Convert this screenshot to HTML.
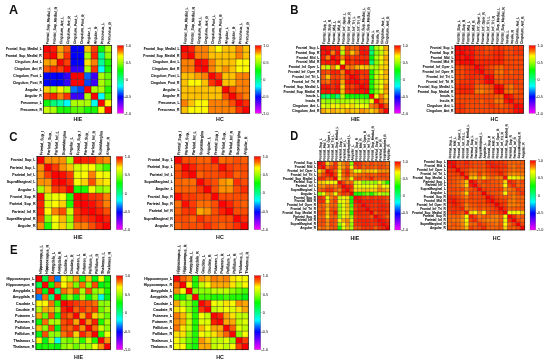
<!DOCTYPE html>
<html lang="en"><head><meta charset="utf-8"><title>Correlation matrices HIE vs HC</title>
<style>html,body{margin:0;padding:0;background:#fff}body{width:550px;height:364px;overflow:hidden}svg{display:block;filter:blur(.3px)}text{font-family:"Liberation Sans",sans-serif;fill:#111}.b{font-weight:bold}.s{stroke:#111;stroke-width:.7px}</style></head><body>
<svg width="550" height="364" viewBox="0 0 550 364">
<defs><linearGradient id="cb" x1="0" y1="0" x2="0" y2="1">
<stop offset="0.000" stop-color="#ff0000"/>
<stop offset="0.090" stop-color="#ff8000"/>
<stop offset="0.155" stop-color="#ffff00"/>
<stop offset="0.250" stop-color="#a0ff00"/>
<stop offset="0.365" stop-color="#00ff00"/>
<stop offset="0.490" stop-color="#00ff80"/>
<stop offset="0.600" stop-color="#00ffff"/>
<stop offset="0.675" stop-color="#0080ff"/>
<stop offset="0.760" stop-color="#0000ff"/>
<stop offset="0.880" stop-color="#8000ff"/>
<stop offset="1.000" stop-color="#ff00ff"/>
</linearGradient>
<clipPath id="cl4"><rect x="32.0" y="131.0" width="120" height="40"/></clipPath>
<clipPath id="cl5"><rect x="169.4" y="131.0" width="120" height="40"/></clipPath>
</defs>
<rect width="550" height="364" fill="#fff"/>
<text class="b" transform="translate(9.0 13.8) scale(1.00 1)" font-size="12.6">A</text>
<text class="b" transform="translate(290.2 13.8) scale(0.90 1)" font-size="12.6">B</text>
<text class="b" transform="translate(9.3 140.5) scale(0.95 1)" font-size="12.1">C</text>
<text class="b" transform="translate(290.2 140.2) scale(0.93 1)" font-size="11.9">D</text>
<text class="b" transform="translate(9.9 254.0) scale(0.90 1)" font-size="12.6">E</text>
<g>
<rect x="43.30" y="45.50" width="6.88" height="6.83" fill="#ff0000"/>
<rect x="50.13" y="45.50" width="6.88" height="6.83" fill="#ff1a00"/>
<rect x="56.96" y="45.50" width="6.88" height="6.83" fill="#ffa100"/>
<rect x="63.79" y="45.50" width="6.88" height="6.83" fill="#ff5a00"/>
<rect x="70.62" y="45.50" width="6.88" height="6.83" fill="#0000ff"/>
<rect x="77.45" y="45.50" width="6.88" height="6.83" fill="#0000ff"/>
<rect x="84.28" y="45.50" width="6.88" height="6.83" fill="#ffc100"/>
<rect x="91.11" y="45.50" width="6.88" height="6.83" fill="#ff4000"/>
<rect x="97.94" y="45.50" width="6.88" height="6.83" fill="#0ff80a"/>
<rect x="104.77" y="45.50" width="6.88" height="6.83" fill="#acff00"/>
<rect x="43.30" y="52.28" width="6.88" height="6.83" fill="#ff1a00"/>
<rect x="50.13" y="52.28" width="6.88" height="6.83" fill="#ff0000"/>
<rect x="56.96" y="52.28" width="6.88" height="6.83" fill="#ffa100"/>
<rect x="63.79" y="52.28" width="6.88" height="6.83" fill="#ff2d00"/>
<rect x="70.62" y="52.28" width="6.88" height="6.83" fill="#0000ff"/>
<rect x="77.45" y="52.28" width="6.88" height="6.83" fill="#0000ff"/>
<rect x="84.28" y="52.28" width="6.88" height="6.83" fill="#acff00"/>
<rect x="91.11" y="52.28" width="6.88" height="6.83" fill="#ff2000"/>
<rect x="97.94" y="52.28" width="6.88" height="6.83" fill="#00ff96"/>
<rect x="104.77" y="52.28" width="6.88" height="6.83" fill="#8cff00"/>
<rect x="43.30" y="59.06" width="6.88" height="6.83" fill="#ffa100"/>
<rect x="50.13" y="59.06" width="6.88" height="6.83" fill="#ffa100"/>
<rect x="56.96" y="59.06" width="6.88" height="6.83" fill="#ff0000"/>
<rect x="63.79" y="59.06" width="6.88" height="6.83" fill="#ff4000"/>
<rect x="70.62" y="59.06" width="6.88" height="6.83" fill="#0000ff"/>
<rect x="77.45" y="59.06" width="6.88" height="6.83" fill="#0000ff"/>
<rect x="84.28" y="59.06" width="6.88" height="6.83" fill="#ffe200"/>
<rect x="91.11" y="59.06" width="6.88" height="6.83" fill="#ff8000"/>
<rect x="97.94" y="59.06" width="6.88" height="6.83" fill="#00ff96"/>
<rect x="104.77" y="59.06" width="6.88" height="6.83" fill="#1efa00"/>
<rect x="43.30" y="65.84" width="6.88" height="6.83" fill="#ff5a00"/>
<rect x="50.13" y="65.84" width="6.88" height="6.83" fill="#ff2d00"/>
<rect x="56.96" y="65.84" width="6.88" height="6.83" fill="#ff4000"/>
<rect x="63.79" y="65.84" width="6.88" height="6.83" fill="#ff0000"/>
<rect x="70.62" y="65.84" width="6.88" height="6.83" fill="#3300ff"/>
<rect x="77.45" y="65.84" width="6.88" height="6.83" fill="#3300ff"/>
<rect x="84.28" y="65.84" width="6.88" height="6.83" fill="#acff00"/>
<rect x="91.11" y="65.84" width="6.88" height="6.83" fill="#ff3300"/>
<rect x="97.94" y="65.84" width="6.88" height="6.83" fill="#00ffff"/>
<rect x="104.77" y="65.84" width="6.88" height="6.83" fill="#0ff80a"/>
<rect x="43.30" y="72.62" width="6.88" height="6.83" fill="#0000ff"/>
<rect x="50.13" y="72.62" width="6.88" height="6.83" fill="#0000ff"/>
<rect x="56.96" y="72.62" width="6.88" height="6.83" fill="#0000ff"/>
<rect x="63.79" y="72.62" width="6.88" height="6.83" fill="#3300ff"/>
<rect x="70.62" y="72.62" width="6.88" height="6.83" fill="#ff0000"/>
<rect x="77.45" y="72.62" width="6.88" height="6.83" fill="#ff0000"/>
<rect x="84.28" y="72.62" width="6.88" height="6.83" fill="#0066ff"/>
<rect x="91.11" y="72.62" width="6.88" height="6.83" fill="#3d00ff"/>
<rect x="97.94" y="72.62" width="6.88" height="6.83" fill="#acff00"/>
<rect x="104.77" y="72.62" width="6.88" height="6.83" fill="#67fd00"/>
<rect x="43.30" y="79.40" width="6.88" height="6.83" fill="#0000ff"/>
<rect x="50.13" y="79.40" width="6.88" height="6.83" fill="#0000ff"/>
<rect x="56.96" y="79.40" width="6.88" height="6.83" fill="#0000ff"/>
<rect x="63.79" y="79.40" width="6.88" height="6.83" fill="#3300ff"/>
<rect x="70.62" y="79.40" width="6.88" height="6.83" fill="#ff0000"/>
<rect x="77.45" y="79.40" width="6.88" height="6.83" fill="#ff0000"/>
<rect x="84.28" y="79.40" width="6.88" height="6.83" fill="#0044ff"/>
<rect x="91.11" y="79.40" width="6.88" height="6.83" fill="#3d00ff"/>
<rect x="97.94" y="79.40" width="6.88" height="6.83" fill="#acff00"/>
<rect x="104.77" y="79.40" width="6.88" height="6.83" fill="#67fd00"/>
<rect x="43.30" y="86.18" width="6.88" height="6.83" fill="#ffd100"/>
<rect x="50.13" y="86.18" width="6.88" height="6.83" fill="#acff00"/>
<rect x="56.96" y="86.18" width="6.88" height="6.83" fill="#fff200"/>
<rect x="63.79" y="86.18" width="6.88" height="6.83" fill="#acff00"/>
<rect x="70.62" y="86.18" width="6.88" height="6.83" fill="#0077ff"/>
<rect x="77.45" y="86.18" width="6.88" height="6.83" fill="#0044ff"/>
<rect x="84.28" y="86.18" width="6.88" height="6.83" fill="#ff0000"/>
<rect x="91.11" y="86.18" width="6.88" height="6.83" fill="#acff00"/>
<rect x="97.94" y="86.18" width="6.88" height="6.83" fill="#acff00"/>
<rect x="104.77" y="86.18" width="6.88" height="6.83" fill="#1efa00"/>
<rect x="43.30" y="92.96" width="6.88" height="6.83" fill="#ff4000"/>
<rect x="50.13" y="92.96" width="6.88" height="6.83" fill="#ff2000"/>
<rect x="56.96" y="92.96" width="6.88" height="6.83" fill="#ff8000"/>
<rect x="63.79" y="92.96" width="6.88" height="6.83" fill="#ff3300"/>
<rect x="70.62" y="92.96" width="6.88" height="6.83" fill="#3d00ff"/>
<rect x="77.45" y="92.96" width="6.88" height="6.83" fill="#3d00ff"/>
<rect x="84.28" y="92.96" width="6.88" height="6.83" fill="#acff00"/>
<rect x="91.11" y="92.96" width="6.88" height="6.83" fill="#ff0000"/>
<rect x="97.94" y="92.96" width="6.88" height="6.83" fill="#00ffff"/>
<rect x="104.77" y="92.96" width="6.88" height="6.83" fill="#43fc00"/>
<rect x="43.30" y="99.74" width="6.88" height="6.83" fill="#0ff80a"/>
<rect x="50.13" y="99.74" width="6.88" height="6.83" fill="#00fc76"/>
<rect x="56.96" y="99.74" width="6.88" height="6.83" fill="#00ffa6"/>
<rect x="63.79" y="99.74" width="6.88" height="6.83" fill="#00ffff"/>
<rect x="70.62" y="99.74" width="6.88" height="6.83" fill="#acff00"/>
<rect x="77.45" y="99.74" width="6.88" height="6.83" fill="#acff00"/>
<rect x="84.28" y="99.74" width="6.88" height="6.83" fill="#acff00"/>
<rect x="91.11" y="99.74" width="6.88" height="6.83" fill="#00ffef"/>
<rect x="97.94" y="99.74" width="6.88" height="6.83" fill="#ff0000"/>
<rect x="104.77" y="99.74" width="6.88" height="6.83" fill="#fffa00"/>
<rect x="43.30" y="106.52" width="6.88" height="6.83" fill="#cbff00"/>
<rect x="50.13" y="106.52" width="6.88" height="6.83" fill="#acff00"/>
<rect x="56.96" y="106.52" width="6.88" height="6.83" fill="#1efa00"/>
<rect x="63.79" y="106.52" width="6.88" height="6.83" fill="#18f904"/>
<rect x="70.62" y="106.52" width="6.88" height="6.83" fill="#59fd00"/>
<rect x="77.45" y="106.52" width="6.88" height="6.83" fill="#59fd00"/>
<rect x="84.28" y="106.52" width="6.88" height="6.83" fill="#18f904"/>
<rect x="91.11" y="106.52" width="6.88" height="6.83" fill="#18f904"/>
<rect x="97.94" y="106.52" width="6.88" height="6.83" fill="#fffa00"/>
<rect x="104.77" y="106.52" width="6.88" height="6.83" fill="#ff0000"/>
<path d="M43.30 45.50V113.30M43.30 45.50H111.60M50.13 45.50V113.30M43.30 52.28H111.60M56.96 45.50V113.30M43.30 59.06H111.60M63.79 45.50V113.30M43.30 65.84H111.60M70.62 45.50V113.30M43.30 72.62H111.60M77.45 45.50V113.30M43.30 79.40H111.60M84.28 45.50V113.30M43.30 86.18H111.60M91.11 45.50V113.30M43.30 92.96H111.60M97.94 45.50V113.30M43.30 99.74H111.60M104.77 45.50V113.30M43.30 106.52H111.60M111.60 45.50V113.30M43.30 113.30H111.60" stroke="#000" stroke-width="0.37" fill="none" stroke-linecap="square"/>
<rect x="43.30" y="45.50" width="68.30" height="67.80" fill="none" stroke="#000" stroke-width="0.5"/>
<text class="b s" transform="translate(41.80 49.92) scale(.0935 .1)" font-size="36.0" text-anchor="end">Frontal_Sup_Medial_L</text>
<text class="b s" transform="translate(41.80 56.70) scale(.0935 .1)" font-size="36.0" text-anchor="end">Frontal_Sup_Medial_R</text>
<text class="b s" transform="translate(41.80 63.48) scale(.0935 .1)" font-size="36.0" text-anchor="end">Cingulum_Ant_L</text>
<text class="b s" transform="translate(41.80 70.26) scale(.0935 .1)" font-size="36.0" text-anchor="end">Cingulum_Ant_R</text>
<text class="b s" transform="translate(41.80 77.04) scale(.0935 .1)" font-size="36.0" text-anchor="end">Cingulum_Post_L</text>
<text class="b s" transform="translate(41.80 83.82) scale(.0935 .1)" font-size="36.0" text-anchor="end">Cingulum_Post_R</text>
<text class="b s" transform="translate(41.80 90.60) scale(.0935 .1)" font-size="36.0" text-anchor="end">Angular_L</text>
<text class="b s" transform="translate(41.80 97.38) scale(.0935 .1)" font-size="36.0" text-anchor="end">Angular_R</text>
<text class="b s" transform="translate(41.80 104.16) scale(.0935 .1)" font-size="36.0" text-anchor="end">Precuneus_L</text>
<text class="b s" transform="translate(41.80 110.94) scale(.0935 .1)" font-size="36.0" text-anchor="end">Precuneus_R</text>
<g>
<text class="b s" transform="translate(48.59 44.20) rotate(-87.5) scale(.0935 .1)" font-size="37.0">Frontal_Sup_Medial_L</text>
<text class="b s" transform="translate(55.42 44.20) rotate(-87.5) scale(.0935 .1)" font-size="37.0">Frontal_Sup_Medial_R</text>
<text class="b s" transform="translate(62.25 44.20) rotate(-87.5) scale(.0935 .1)" font-size="37.0">Cingulum_Ant_L</text>
<text class="b s" transform="translate(69.08 44.20) rotate(-87.5) scale(.0935 .1)" font-size="37.0">Cingulum_Ant_R</text>
<text class="b s" transform="translate(75.91 44.20) rotate(-87.5) scale(.0935 .1)" font-size="37.0">Cingulum_Post_L</text>
<text class="b s" transform="translate(82.74 44.20) rotate(-87.5) scale(.0935 .1)" font-size="37.0">Cingulum_Post_R</text>
<text class="b s" transform="translate(89.57 44.20) rotate(-87.5) scale(.0935 .1)" font-size="37.0">Angular_L</text>
<text class="b s" transform="translate(96.40 44.20) rotate(-87.5) scale(.0935 .1)" font-size="37.0">Angular_R</text>
<text class="b s" transform="translate(103.23 44.20) rotate(-87.5) scale(.0935 .1)" font-size="37.0">Precuneus_L</text>
<text class="b s" transform="translate(110.06 44.20) rotate(-87.5) scale(.0935 .1)" font-size="37.0">Precuneus_R</text>
</g>
<rect x="117.30" y="45.50" width="6.30" height="67.80" fill="url(#cb)" stroke="#555" stroke-width="0.3"/>
<path d="M123.60 45.50h.9" stroke="#444" stroke-width="0.35"/>
<text transform="translate(125.70 46.90) scale(.1)" font-size="38" style="fill:#3a3a3a;stroke:#3a3a3a;stroke-width:.5px">1.0</text>
<path d="M123.60 62.45h.9" stroke="#444" stroke-width="0.35"/>
<text transform="translate(125.70 63.85) scale(.1)" font-size="38" style="fill:#3a3a3a;stroke:#3a3a3a;stroke-width:.5px">0.5</text>
<path d="M123.60 79.40h.9" stroke="#444" stroke-width="0.35"/>
<text transform="translate(125.70 80.80) scale(.1)" font-size="38" style="fill:#3a3a3a;stroke:#3a3a3a;stroke-width:.5px">0</text>
<path d="M123.60 96.35h.9" stroke="#444" stroke-width="0.35"/>
<text transform="translate(124.50 97.75) scale(.1)" font-size="38" style="fill:#3a3a3a;stroke:#3a3a3a;stroke-width:.5px">-0.5</text>
<path d="M123.60 113.30h.9" stroke="#444" stroke-width="0.35"/>
<text transform="translate(124.50 114.70) scale(.1)" font-size="38" style="fill:#3a3a3a;stroke:#3a3a3a;stroke-width:.5px">-1.0</text>
<text class="b" transform="translate(77.90 121.30) scale(.1)" font-size="53" text-anchor="middle">HIE</text>
</g>
<g>
<rect x="181.00" y="45.50" width="6.91" height="6.83" fill="#ff0000"/>
<rect x="187.86" y="45.50" width="6.91" height="6.83" fill="#ff2000"/>
<rect x="194.72" y="45.50" width="6.91" height="6.83" fill="#ff8000"/>
<rect x="201.58" y="45.50" width="6.91" height="6.83" fill="#ff8000"/>
<rect x="208.44" y="45.50" width="6.91" height="6.83" fill="#ffc100"/>
<rect x="215.30" y="45.50" width="6.91" height="6.83" fill="#fffa00"/>
<rect x="222.16" y="45.50" width="6.91" height="6.83" fill="#ffc100"/>
<rect x="229.02" y="45.50" width="6.91" height="6.83" fill="#ffc100"/>
<rect x="235.88" y="45.50" width="6.91" height="6.83" fill="#ff8000"/>
<rect x="242.74" y="45.50" width="6.91" height="6.83" fill="#ffc100"/>
<rect x="181.00" y="52.28" width="6.91" height="6.83" fill="#ff2000"/>
<rect x="187.86" y="52.28" width="6.91" height="6.83" fill="#ff0000"/>
<rect x="194.72" y="52.28" width="6.91" height="6.83" fill="#ff8000"/>
<rect x="201.58" y="52.28" width="6.91" height="6.83" fill="#ff8000"/>
<rect x="208.44" y="52.28" width="6.91" height="6.83" fill="#ffc100"/>
<rect x="215.30" y="52.28" width="6.91" height="6.83" fill="#ffc100"/>
<rect x="222.16" y="52.28" width="6.91" height="6.83" fill="#ffc100"/>
<rect x="229.02" y="52.28" width="6.91" height="6.83" fill="#ffc100"/>
<rect x="235.88" y="52.28" width="6.91" height="6.83" fill="#ff8000"/>
<rect x="242.74" y="52.28" width="6.91" height="6.83" fill="#ffc100"/>
<rect x="181.00" y="59.06" width="6.91" height="6.83" fill="#ff8000"/>
<rect x="187.86" y="59.06" width="6.91" height="6.83" fill="#ff8000"/>
<rect x="194.72" y="59.06" width="6.91" height="6.83" fill="#ff0000"/>
<rect x="201.58" y="59.06" width="6.91" height="6.83" fill="#ff1300"/>
<rect x="208.44" y="59.06" width="6.91" height="6.83" fill="#ff8000"/>
<rect x="215.30" y="59.06" width="6.91" height="6.83" fill="#ffc100"/>
<rect x="222.16" y="59.06" width="6.91" height="6.83" fill="#ffc100"/>
<rect x="229.02" y="59.06" width="6.91" height="6.83" fill="#ffc100"/>
<rect x="235.88" y="59.06" width="6.91" height="6.83" fill="#fffa00"/>
<rect x="242.74" y="59.06" width="6.91" height="6.83" fill="#fffa00"/>
<rect x="181.00" y="65.84" width="6.91" height="6.83" fill="#ff8000"/>
<rect x="187.86" y="65.84" width="6.91" height="6.83" fill="#ff8000"/>
<rect x="194.72" y="65.84" width="6.91" height="6.83" fill="#ff1300"/>
<rect x="201.58" y="65.84" width="6.91" height="6.83" fill="#ff0000"/>
<rect x="208.44" y="65.84" width="6.91" height="6.83" fill="#ff8000"/>
<rect x="215.30" y="65.84" width="6.91" height="6.83" fill="#ffc100"/>
<rect x="222.16" y="65.84" width="6.91" height="6.83" fill="#ff9000"/>
<rect x="229.02" y="65.84" width="6.91" height="6.83" fill="#ffc100"/>
<rect x="235.88" y="65.84" width="6.91" height="6.83" fill="#fffa00"/>
<rect x="242.74" y="65.84" width="6.91" height="6.83" fill="#fffa00"/>
<rect x="181.00" y="72.62" width="6.91" height="6.83" fill="#ffc100"/>
<rect x="187.86" y="72.62" width="6.91" height="6.83" fill="#ffc100"/>
<rect x="194.72" y="72.62" width="6.91" height="6.83" fill="#ffa100"/>
<rect x="201.58" y="72.62" width="6.91" height="6.83" fill="#ff8000"/>
<rect x="208.44" y="72.62" width="6.91" height="6.83" fill="#ff0000"/>
<rect x="215.30" y="72.62" width="6.91" height="6.83" fill="#ff3300"/>
<rect x="222.16" y="72.62" width="6.91" height="6.83" fill="#ffc100"/>
<rect x="229.02" y="72.62" width="6.91" height="6.83" fill="#ffc100"/>
<rect x="235.88" y="72.62" width="6.91" height="6.83" fill="#ff8000"/>
<rect x="242.74" y="72.62" width="6.91" height="6.83" fill="#ff8000"/>
<rect x="181.00" y="79.40" width="6.91" height="6.83" fill="#ffc100"/>
<rect x="187.86" y="79.40" width="6.91" height="6.83" fill="#fffa00"/>
<rect x="194.72" y="79.40" width="6.91" height="6.83" fill="#fffa00"/>
<rect x="201.58" y="79.40" width="6.91" height="6.83" fill="#ffc100"/>
<rect x="208.44" y="79.40" width="6.91" height="6.83" fill="#ff3300"/>
<rect x="215.30" y="79.40" width="6.91" height="6.83" fill="#ff0000"/>
<rect x="222.16" y="79.40" width="6.91" height="6.83" fill="#ffc100"/>
<rect x="229.02" y="79.40" width="6.91" height="6.83" fill="#ffc100"/>
<rect x="235.88" y="79.40" width="6.91" height="6.83" fill="#ff8000"/>
<rect x="242.74" y="79.40" width="6.91" height="6.83" fill="#ff8000"/>
<rect x="181.00" y="86.18" width="6.91" height="6.83" fill="#ffc100"/>
<rect x="187.86" y="86.18" width="6.91" height="6.83" fill="#ffc100"/>
<rect x="194.72" y="86.18" width="6.91" height="6.83" fill="#ffc100"/>
<rect x="201.58" y="86.18" width="6.91" height="6.83" fill="#ffc100"/>
<rect x="208.44" y="86.18" width="6.91" height="6.83" fill="#ffc100"/>
<rect x="215.30" y="86.18" width="6.91" height="6.83" fill="#ffc100"/>
<rect x="222.16" y="86.18" width="6.91" height="6.83" fill="#ff0000"/>
<rect x="229.02" y="86.18" width="6.91" height="6.83" fill="#ff4d00"/>
<rect x="235.88" y="86.18" width="6.91" height="6.83" fill="#ff8000"/>
<rect x="242.74" y="86.18" width="6.91" height="6.83" fill="#ff8000"/>
<rect x="181.00" y="92.96" width="6.91" height="6.83" fill="#ffc100"/>
<rect x="187.86" y="92.96" width="6.91" height="6.83" fill="#ffc100"/>
<rect x="194.72" y="92.96" width="6.91" height="6.83" fill="#ffc100"/>
<rect x="201.58" y="92.96" width="6.91" height="6.83" fill="#ffc100"/>
<rect x="208.44" y="92.96" width="6.91" height="6.83" fill="#ffc100"/>
<rect x="215.30" y="92.96" width="6.91" height="6.83" fill="#ffc100"/>
<rect x="222.16" y="92.96" width="6.91" height="6.83" fill="#ff4d00"/>
<rect x="229.02" y="92.96" width="6.91" height="6.83" fill="#ff0000"/>
<rect x="235.88" y="92.96" width="6.91" height="6.83" fill="#ff4d00"/>
<rect x="242.74" y="92.96" width="6.91" height="6.83" fill="#ff8000"/>
<rect x="181.00" y="99.74" width="6.91" height="6.83" fill="#ff8000"/>
<rect x="187.86" y="99.74" width="6.91" height="6.83" fill="#ffc100"/>
<rect x="194.72" y="99.74" width="6.91" height="6.83" fill="#fffa00"/>
<rect x="201.58" y="99.74" width="6.91" height="6.83" fill="#fffa00"/>
<rect x="208.44" y="99.74" width="6.91" height="6.83" fill="#ff8000"/>
<rect x="215.30" y="99.74" width="6.91" height="6.83" fill="#ff8000"/>
<rect x="222.16" y="99.74" width="6.91" height="6.83" fill="#ff8000"/>
<rect x="229.02" y="99.74" width="6.91" height="6.83" fill="#ff4d00"/>
<rect x="235.88" y="99.74" width="6.91" height="6.83" fill="#ff0000"/>
<rect x="242.74" y="99.74" width="6.91" height="6.83" fill="#ff2d00"/>
<rect x="181.00" y="106.52" width="6.91" height="6.83" fill="#ffc100"/>
<rect x="187.86" y="106.52" width="6.91" height="6.83" fill="#fffa00"/>
<rect x="194.72" y="106.52" width="6.91" height="6.83" fill="#fffa00"/>
<rect x="201.58" y="106.52" width="6.91" height="6.83" fill="#fffa00"/>
<rect x="208.44" y="106.52" width="6.91" height="6.83" fill="#ff8000"/>
<rect x="215.30" y="106.52" width="6.91" height="6.83" fill="#ff8000"/>
<rect x="222.16" y="106.52" width="6.91" height="6.83" fill="#ff8000"/>
<rect x="229.02" y="106.52" width="6.91" height="6.83" fill="#ff8000"/>
<rect x="235.88" y="106.52" width="6.91" height="6.83" fill="#ff2d00"/>
<rect x="242.74" y="106.52" width="6.91" height="6.83" fill="#ff0000"/>
<path d="M181.00 45.50V113.30M181.00 45.50H249.60M187.86 45.50V113.30M181.00 52.28H249.60M194.72 45.50V113.30M181.00 59.06H249.60M201.58 45.50V113.30M181.00 65.84H249.60M208.44 45.50V113.30M181.00 72.62H249.60M215.30 45.50V113.30M181.00 79.40H249.60M222.16 45.50V113.30M181.00 86.18H249.60M229.02 45.50V113.30M181.00 92.96H249.60M235.88 45.50V113.30M181.00 99.74H249.60M242.74 45.50V113.30M181.00 106.52H249.60M249.60 45.50V113.30M181.00 113.30H249.60" stroke="#000" stroke-width="0.37" fill="none" stroke-linecap="square"/>
<rect x="181.00" y="45.50" width="68.60" height="67.80" fill="none" stroke="#000" stroke-width="0.5"/>
<text class="b s" transform="translate(179.50 49.92) scale(.0935 .1)" font-size="36.0" text-anchor="end">Frontal_Sup_Medial_L</text>
<text class="b s" transform="translate(179.50 56.70) scale(.0935 .1)" font-size="36.0" text-anchor="end">Frontal_Sup_Medial_R</text>
<text class="b s" transform="translate(179.50 63.48) scale(.0935 .1)" font-size="36.0" text-anchor="end">Cingulum_Ant_L</text>
<text class="b s" transform="translate(179.50 70.26) scale(.0935 .1)" font-size="36.0" text-anchor="end">Cingulum_Ant_R</text>
<text class="b s" transform="translate(179.50 77.04) scale(.0935 .1)" font-size="36.0" text-anchor="end">Cingulum_Post_L</text>
<text class="b s" transform="translate(179.50 83.82) scale(.0935 .1)" font-size="36.0" text-anchor="end">Cingulum_Post_R</text>
<text class="b s" transform="translate(179.50 90.60) scale(.0935 .1)" font-size="36.0" text-anchor="end">Angular_L</text>
<text class="b s" transform="translate(179.50 97.38) scale(.0935 .1)" font-size="36.0" text-anchor="end">Angular_R</text>
<text class="b s" transform="translate(179.50 104.16) scale(.0935 .1)" font-size="36.0" text-anchor="end">Precuneus_L</text>
<text class="b s" transform="translate(179.50 110.94) scale(.0935 .1)" font-size="36.0" text-anchor="end">Precuneus_R</text>
<g>
<text class="b s" transform="translate(186.31 44.20) rotate(-87.5) scale(.0935 .1)" font-size="37.0">Frontal_Sup_Medial_L</text>
<text class="b s" transform="translate(193.17 44.20) rotate(-87.5) scale(.0935 .1)" font-size="37.0">Frontal_Sup_Medial_R</text>
<text class="b s" transform="translate(200.03 44.20) rotate(-87.5) scale(.0935 .1)" font-size="37.0">Cingulum_Ant_L</text>
<text class="b s" transform="translate(206.89 44.20) rotate(-87.5) scale(.0935 .1)" font-size="37.0">Cingulum_Ant_R</text>
<text class="b s" transform="translate(213.75 44.20) rotate(-87.5) scale(.0935 .1)" font-size="37.0">Cingulum_Post_L</text>
<text class="b s" transform="translate(220.61 44.20) rotate(-87.5) scale(.0935 .1)" font-size="37.0">Cingulum_Post_R</text>
<text class="b s" transform="translate(227.47 44.20) rotate(-87.5) scale(.0935 .1)" font-size="37.0">Angular_L</text>
<text class="b s" transform="translate(234.33 44.20) rotate(-87.5) scale(.0935 .1)" font-size="37.0">Angular_R</text>
<text class="b s" transform="translate(241.19 44.20) rotate(-87.5) scale(.0935 .1)" font-size="37.0">Precuneus_L</text>
<text class="b s" transform="translate(248.05 44.20) rotate(-87.5) scale(.0935 .1)" font-size="37.0">Precuneus_R</text>
</g>
<rect x="255.10" y="45.50" width="6.10" height="67.80" fill="url(#cb)" stroke="#555" stroke-width="0.3"/>
<path d="M261.20 45.50h.9" stroke="#444" stroke-width="0.35"/>
<text transform="translate(263.30 46.90) scale(.1)" font-size="38" style="fill:#3a3a3a;stroke:#3a3a3a;stroke-width:.5px">1.0</text>
<path d="M261.20 62.45h.9" stroke="#444" stroke-width="0.35"/>
<text transform="translate(263.30 63.85) scale(.1)" font-size="38" style="fill:#3a3a3a;stroke:#3a3a3a;stroke-width:.5px">0.5</text>
<path d="M261.20 79.40h.9" stroke="#444" stroke-width="0.35"/>
<text transform="translate(263.30 80.80) scale(.1)" font-size="38" style="fill:#3a3a3a;stroke:#3a3a3a;stroke-width:.5px">0</text>
<path d="M261.20 96.35h.9" stroke="#444" stroke-width="0.35"/>
<text transform="translate(262.10 97.75) scale(.1)" font-size="38" style="fill:#3a3a3a;stroke:#3a3a3a;stroke-width:.5px">-0.5</text>
<path d="M261.20 113.30h.9" stroke="#444" stroke-width="0.35"/>
<text transform="translate(262.10 114.70) scale(.1)" font-size="38" style="fill:#3a3a3a;stroke:#3a3a3a;stroke-width:.5px">-1.0</text>
<text class="b" transform="translate(219.90 121.30) scale(.1)" font-size="53" text-anchor="middle">HC</text>
</g>
<g>
<rect x="320.80" y="45.50" width="4.89" height="4.89" fill="#ff0000"/>
<rect x="325.64" y="45.50" width="4.89" height="4.89" fill="#ff1300"/>
<rect x="330.49" y="45.50" width="4.89" height="4.89" fill="#ff2000"/>
<rect x="335.33" y="45.50" width="4.89" height="4.89" fill="#ff2000"/>
<rect x="340.17" y="45.50" width="4.89" height="4.89" fill="#ffd100"/>
<rect x="345.01" y="45.50" width="4.89" height="4.89" fill="#ff4000"/>
<rect x="349.86" y="45.50" width="4.89" height="4.89" fill="#ff6000"/>
<rect x="354.70" y="45.50" width="4.89" height="4.89" fill="#ff5300"/>
<rect x="359.54" y="45.50" width="4.89" height="4.89" fill="#ff1300"/>
<rect x="364.39" y="45.50" width="4.89" height="4.89" fill="#ff2000"/>
<rect x="369.23" y="45.50" width="4.89" height="4.89" fill="#00fa55"/>
<rect x="374.07" y="45.50" width="4.89" height="4.89" fill="#acff00"/>
<rect x="378.91" y="45.50" width="4.89" height="4.89" fill="#e5ff00"/>
<rect x="383.76" y="45.50" width="4.89" height="4.89" fill="#ffa900"/>
<rect x="320.80" y="50.34" width="4.89" height="4.89" fill="#ff1300"/>
<rect x="325.64" y="50.34" width="4.89" height="4.89" fill="#ff0000"/>
<rect x="330.49" y="50.34" width="4.89" height="4.89" fill="#ff7a00"/>
<rect x="335.33" y="50.34" width="4.89" height="4.89" fill="#ff1300"/>
<rect x="340.17" y="50.34" width="4.89" height="4.89" fill="#b8ff00"/>
<rect x="345.01" y="50.34" width="4.89" height="4.89" fill="#ff4d00"/>
<rect x="349.86" y="50.34" width="4.89" height="4.89" fill="#ffc100"/>
<rect x="354.70" y="50.34" width="4.89" height="4.89" fill="#ff6d00"/>
<rect x="359.54" y="50.34" width="4.89" height="4.89" fill="#ff1300"/>
<rect x="364.39" y="50.34" width="4.89" height="4.89" fill="#ff1300"/>
<rect x="369.23" y="50.34" width="4.89" height="4.89" fill="#00fc76"/>
<rect x="374.07" y="50.34" width="4.89" height="4.89" fill="#8cff00"/>
<rect x="378.91" y="50.34" width="4.89" height="4.89" fill="#c5ff00"/>
<rect x="383.76" y="50.34" width="4.89" height="4.89" fill="#ffd100"/>
<rect x="320.80" y="55.19" width="4.89" height="4.89" fill="#ff2000"/>
<rect x="325.64" y="55.19" width="4.89" height="4.89" fill="#ff7a00"/>
<rect x="330.49" y="55.19" width="4.89" height="4.89" fill="#ff0000"/>
<rect x="335.33" y="55.19" width="4.89" height="4.89" fill="#ff2000"/>
<rect x="340.17" y="55.19" width="4.89" height="4.89" fill="#ff8000"/>
<rect x="345.01" y="55.19" width="4.89" height="4.89" fill="#ff2000"/>
<rect x="349.86" y="55.19" width="4.89" height="4.89" fill="#ff4000"/>
<rect x="354.70" y="55.19" width="4.89" height="4.89" fill="#ff2d00"/>
<rect x="359.54" y="55.19" width="4.89" height="4.89" fill="#ff2d00"/>
<rect x="364.39" y="55.19" width="4.89" height="4.89" fill="#ff2d00"/>
<rect x="369.23" y="55.19" width="4.89" height="4.89" fill="#00f514"/>
<rect x="374.07" y="55.19" width="4.89" height="4.89" fill="#acff00"/>
<rect x="378.91" y="55.19" width="4.89" height="4.89" fill="#fff200"/>
<rect x="383.76" y="55.19" width="4.89" height="4.89" fill="#ffa900"/>
<rect x="320.80" y="60.03" width="4.89" height="4.89" fill="#ff2000"/>
<rect x="325.64" y="60.03" width="4.89" height="4.89" fill="#ff1300"/>
<rect x="330.49" y="60.03" width="4.89" height="4.89" fill="#ff2000"/>
<rect x="335.33" y="60.03" width="4.89" height="4.89" fill="#ff0000"/>
<rect x="340.17" y="60.03" width="4.89" height="4.89" fill="#f3fd00"/>
<rect x="345.01" y="60.03" width="4.89" height="4.89" fill="#ff2000"/>
<rect x="349.86" y="60.03" width="4.89" height="4.89" fill="#ff4000"/>
<rect x="354.70" y="60.03" width="4.89" height="4.89" fill="#ff2000"/>
<rect x="359.54" y="60.03" width="4.89" height="4.89" fill="#ff1300"/>
<rect x="364.39" y="60.03" width="4.89" height="4.89" fill="#ff1300"/>
<rect x="369.23" y="60.03" width="4.89" height="4.89" fill="#00fc76"/>
<rect x="374.07" y="60.03" width="4.89" height="4.89" fill="#8cff00"/>
<rect x="378.91" y="60.03" width="4.89" height="4.89" fill="#e5ff00"/>
<rect x="383.76" y="60.03" width="4.89" height="4.89" fill="#ffc100"/>
<rect x="320.80" y="64.87" width="4.89" height="4.89" fill="#ffd100"/>
<rect x="325.64" y="64.87" width="4.89" height="4.89" fill="#b8ff00"/>
<rect x="330.49" y="64.87" width="4.89" height="4.89" fill="#ff8000"/>
<rect x="335.33" y="64.87" width="4.89" height="4.89" fill="#f3fd00"/>
<rect x="340.17" y="64.87" width="4.89" height="4.89" fill="#ff0000"/>
<rect x="345.01" y="64.87" width="4.89" height="4.89" fill="#ff8000"/>
<rect x="349.86" y="64.87" width="4.89" height="4.89" fill="#ff7300"/>
<rect x="354.70" y="64.87" width="4.89" height="4.89" fill="#ffa900"/>
<rect x="359.54" y="64.87" width="4.89" height="4.89" fill="#ffd100"/>
<rect x="364.39" y="64.87" width="4.89" height="4.89" fill="#ffc100"/>
<rect x="369.23" y="64.87" width="4.89" height="4.89" fill="#acff00"/>
<rect x="374.07" y="64.87" width="4.89" height="4.89" fill="#acff00"/>
<rect x="378.91" y="64.87" width="4.89" height="4.89" fill="#ffd900"/>
<rect x="383.76" y="64.87" width="4.89" height="4.89" fill="#ffd100"/>
<rect x="320.80" y="69.71" width="4.89" height="4.89" fill="#ff4000"/>
<rect x="325.64" y="69.71" width="4.89" height="4.89" fill="#ff4d00"/>
<rect x="330.49" y="69.71" width="4.89" height="4.89" fill="#ff2000"/>
<rect x="335.33" y="69.71" width="4.89" height="4.89" fill="#ff2000"/>
<rect x="340.17" y="69.71" width="4.89" height="4.89" fill="#ff8000"/>
<rect x="345.01" y="69.71" width="4.89" height="4.89" fill="#ff0000"/>
<rect x="349.86" y="69.71" width="4.89" height="4.89" fill="#ff2d00"/>
<rect x="354.70" y="69.71" width="4.89" height="4.89" fill="#ff1300"/>
<rect x="359.54" y="69.71" width="4.89" height="4.89" fill="#ff2d00"/>
<rect x="364.39" y="69.71" width="4.89" height="4.89" fill="#ff2d00"/>
<rect x="369.23" y="69.71" width="4.89" height="4.89" fill="#0ff80a"/>
<rect x="374.07" y="69.71" width="4.89" height="4.89" fill="#acff00"/>
<rect x="378.91" y="69.71" width="4.89" height="4.89" fill="#fbfb00"/>
<rect x="383.76" y="69.71" width="4.89" height="4.89" fill="#ffa900"/>
<rect x="320.80" y="74.56" width="4.89" height="4.89" fill="#ff6000"/>
<rect x="325.64" y="74.56" width="4.89" height="4.89" fill="#ffc100"/>
<rect x="330.49" y="74.56" width="4.89" height="4.89" fill="#ff4000"/>
<rect x="335.33" y="74.56" width="4.89" height="4.89" fill="#ff4000"/>
<rect x="340.17" y="74.56" width="4.89" height="4.89" fill="#ff7300"/>
<rect x="345.01" y="74.56" width="4.89" height="4.89" fill="#ff2d00"/>
<rect x="349.86" y="74.56" width="4.89" height="4.89" fill="#ff0000"/>
<rect x="354.70" y="74.56" width="4.89" height="4.89" fill="#ff1300"/>
<rect x="359.54" y="74.56" width="4.89" height="4.89" fill="#ff4000"/>
<rect x="364.39" y="74.56" width="4.89" height="4.89" fill="#ff2d00"/>
<rect x="369.23" y="74.56" width="4.89" height="4.89" fill="#1efa00"/>
<rect x="374.07" y="74.56" width="4.89" height="4.89" fill="#cbff00"/>
<rect x="378.91" y="74.56" width="4.89" height="4.89" fill="#ffd900"/>
<rect x="383.76" y="74.56" width="4.89" height="4.89" fill="#ffc100"/>
<rect x="320.80" y="79.40" width="4.89" height="4.89" fill="#ff5300"/>
<rect x="325.64" y="79.40" width="4.89" height="4.89" fill="#ff6d00"/>
<rect x="330.49" y="79.40" width="4.89" height="4.89" fill="#ff2d00"/>
<rect x="335.33" y="79.40" width="4.89" height="4.89" fill="#ff2000"/>
<rect x="340.17" y="79.40" width="4.89" height="4.89" fill="#ffa900"/>
<rect x="345.01" y="79.40" width="4.89" height="4.89" fill="#ff1300"/>
<rect x="349.86" y="79.40" width="4.89" height="4.89" fill="#ff1300"/>
<rect x="354.70" y="79.40" width="4.89" height="4.89" fill="#ff0000"/>
<rect x="359.54" y="79.40" width="4.89" height="4.89" fill="#ff2000"/>
<rect x="364.39" y="79.40" width="4.89" height="4.89" fill="#ff1300"/>
<rect x="369.23" y="79.40" width="4.89" height="4.89" fill="#0ff80a"/>
<rect x="374.07" y="79.40" width="4.89" height="4.89" fill="#acff00"/>
<rect x="378.91" y="79.40" width="4.89" height="4.89" fill="#e5ff00"/>
<rect x="383.76" y="79.40" width="4.89" height="4.89" fill="#ffc100"/>
<rect x="320.80" y="84.24" width="4.89" height="4.89" fill="#ff1300"/>
<rect x="325.64" y="84.24" width="4.89" height="4.89" fill="#ff1300"/>
<rect x="330.49" y="84.24" width="4.89" height="4.89" fill="#ff2d00"/>
<rect x="335.33" y="84.24" width="4.89" height="4.89" fill="#ff1300"/>
<rect x="340.17" y="84.24" width="4.89" height="4.89" fill="#ffd100"/>
<rect x="345.01" y="84.24" width="4.89" height="4.89" fill="#ff2d00"/>
<rect x="349.86" y="84.24" width="4.89" height="4.89" fill="#ff4000"/>
<rect x="354.70" y="84.24" width="4.89" height="4.89" fill="#ff2000"/>
<rect x="359.54" y="84.24" width="4.89" height="4.89" fill="#ff0000"/>
<rect x="364.39" y="84.24" width="4.89" height="4.89" fill="#ff1300"/>
<rect x="369.23" y="84.24" width="4.89" height="4.89" fill="#1efa00"/>
<rect x="374.07" y="84.24" width="4.89" height="4.89" fill="#acff00"/>
<rect x="378.91" y="84.24" width="4.89" height="4.89" fill="#fbfb00"/>
<rect x="383.76" y="84.24" width="4.89" height="4.89" fill="#ff9000"/>
<rect x="320.80" y="89.09" width="4.89" height="4.89" fill="#ff2000"/>
<rect x="325.64" y="89.09" width="4.89" height="4.89" fill="#ff1300"/>
<rect x="330.49" y="89.09" width="4.89" height="4.89" fill="#ff2d00"/>
<rect x="335.33" y="89.09" width="4.89" height="4.89" fill="#ff1300"/>
<rect x="340.17" y="89.09" width="4.89" height="4.89" fill="#ffc100"/>
<rect x="345.01" y="89.09" width="4.89" height="4.89" fill="#ff2d00"/>
<rect x="349.86" y="89.09" width="4.89" height="4.89" fill="#ff2d00"/>
<rect x="354.70" y="89.09" width="4.89" height="4.89" fill="#ff1300"/>
<rect x="359.54" y="89.09" width="4.89" height="4.89" fill="#ff1300"/>
<rect x="364.39" y="89.09" width="4.89" height="4.89" fill="#ff0000"/>
<rect x="369.23" y="89.09" width="4.89" height="4.89" fill="#0ff80a"/>
<rect x="374.07" y="89.09" width="4.89" height="4.89" fill="#8cff00"/>
<rect x="378.91" y="89.09" width="4.89" height="4.89" fill="#e5ff00"/>
<rect x="383.76" y="89.09" width="4.89" height="4.89" fill="#ffa900"/>
<rect x="320.80" y="93.93" width="4.89" height="4.89" fill="#00fa55"/>
<rect x="325.64" y="93.93" width="4.89" height="4.89" fill="#00fc76"/>
<rect x="330.49" y="93.93" width="4.89" height="4.89" fill="#00f514"/>
<rect x="335.33" y="93.93" width="4.89" height="4.89" fill="#00fc76"/>
<rect x="340.17" y="93.93" width="4.89" height="4.89" fill="#acff00"/>
<rect x="345.01" y="93.93" width="4.89" height="4.89" fill="#0ff80a"/>
<rect x="349.86" y="93.93" width="4.89" height="4.89" fill="#1efa00"/>
<rect x="354.70" y="93.93" width="4.89" height="4.89" fill="#0ff80a"/>
<rect x="359.54" y="93.93" width="4.89" height="4.89" fill="#1efa00"/>
<rect x="364.39" y="93.93" width="4.89" height="4.89" fill="#0ff80a"/>
<rect x="369.23" y="93.93" width="4.89" height="4.89" fill="#ff0000"/>
<rect x="374.07" y="93.93" width="4.89" height="4.89" fill="#ebff00"/>
<rect x="378.91" y="93.93" width="4.89" height="4.89" fill="#ff8000"/>
<rect x="383.76" y="93.93" width="4.89" height="4.89" fill="#ffd100"/>
<rect x="320.80" y="98.77" width="4.89" height="4.89" fill="#acff00"/>
<rect x="325.64" y="98.77" width="4.89" height="4.89" fill="#8cff00"/>
<rect x="330.49" y="98.77" width="4.89" height="4.89" fill="#acff00"/>
<rect x="335.33" y="98.77" width="4.89" height="4.89" fill="#8cff00"/>
<rect x="340.17" y="98.77" width="4.89" height="4.89" fill="#acff00"/>
<rect x="345.01" y="98.77" width="4.89" height="4.89" fill="#acff00"/>
<rect x="349.86" y="98.77" width="4.89" height="4.89" fill="#cbff00"/>
<rect x="354.70" y="98.77" width="4.89" height="4.89" fill="#acff00"/>
<rect x="359.54" y="98.77" width="4.89" height="4.89" fill="#acff00"/>
<rect x="364.39" y="98.77" width="4.89" height="4.89" fill="#8cff00"/>
<rect x="369.23" y="98.77" width="4.89" height="4.89" fill="#ebff00"/>
<rect x="374.07" y="98.77" width="4.89" height="4.89" fill="#ff0000"/>
<rect x="378.91" y="98.77" width="4.89" height="4.89" fill="#ff6000"/>
<rect x="383.76" y="98.77" width="4.89" height="4.89" fill="#ffa900"/>
<rect x="320.80" y="103.61" width="4.89" height="4.89" fill="#e5ff00"/>
<rect x="325.64" y="103.61" width="4.89" height="4.89" fill="#c5ff00"/>
<rect x="330.49" y="103.61" width="4.89" height="4.89" fill="#fff200"/>
<rect x="335.33" y="103.61" width="4.89" height="4.89" fill="#e5ff00"/>
<rect x="340.17" y="103.61" width="4.89" height="4.89" fill="#ffd900"/>
<rect x="345.01" y="103.61" width="4.89" height="4.89" fill="#fbfb00"/>
<rect x="349.86" y="103.61" width="4.89" height="4.89" fill="#ffd900"/>
<rect x="354.70" y="103.61" width="4.89" height="4.89" fill="#e5ff00"/>
<rect x="359.54" y="103.61" width="4.89" height="4.89" fill="#fbfb00"/>
<rect x="364.39" y="103.61" width="4.89" height="4.89" fill="#e5ff00"/>
<rect x="369.23" y="103.61" width="4.89" height="4.89" fill="#ff8000"/>
<rect x="374.07" y="103.61" width="4.89" height="4.89" fill="#ff6000"/>
<rect x="378.91" y="103.61" width="4.89" height="4.89" fill="#ff0000"/>
<rect x="383.76" y="103.61" width="4.89" height="4.89" fill="#ff4d00"/>
<rect x="320.80" y="108.46" width="4.89" height="4.89" fill="#ffa900"/>
<rect x="325.64" y="108.46" width="4.89" height="4.89" fill="#ffd100"/>
<rect x="330.49" y="108.46" width="4.89" height="4.89" fill="#ffa900"/>
<rect x="335.33" y="108.46" width="4.89" height="4.89" fill="#ffc100"/>
<rect x="340.17" y="108.46" width="4.89" height="4.89" fill="#ffd100"/>
<rect x="345.01" y="108.46" width="4.89" height="4.89" fill="#ffa900"/>
<rect x="349.86" y="108.46" width="4.89" height="4.89" fill="#ffc100"/>
<rect x="354.70" y="108.46" width="4.89" height="4.89" fill="#ffc100"/>
<rect x="359.54" y="108.46" width="4.89" height="4.89" fill="#ff9000"/>
<rect x="364.39" y="108.46" width="4.89" height="4.89" fill="#ffa900"/>
<rect x="369.23" y="108.46" width="4.89" height="4.89" fill="#ffd100"/>
<rect x="374.07" y="108.46" width="4.89" height="4.89" fill="#ffa900"/>
<rect x="378.91" y="108.46" width="4.89" height="4.89" fill="#ff4d00"/>
<rect x="383.76" y="108.46" width="4.89" height="4.89" fill="#ff0000"/>
<path d="M320.80 45.50V113.30M320.80 45.50H388.60M325.64 45.50V113.30M320.80 50.34H388.60M330.49 45.50V113.30M320.80 55.19H388.60M335.33 45.50V113.30M320.80 60.03H388.60M340.17 45.50V113.30M320.80 64.87H388.60M345.01 45.50V113.30M320.80 69.71H388.60M349.86 45.50V113.30M320.80 74.56H388.60M354.70 45.50V113.30M320.80 79.40H388.60M359.54 45.50V113.30M320.80 84.24H388.60M364.39 45.50V113.30M320.80 89.09H388.60M369.23 45.50V113.30M320.80 93.93H388.60M374.07 45.50V113.30M320.80 98.77H388.60M378.91 45.50V113.30M320.80 103.61H388.60M383.76 45.50V113.30M320.80 108.46H388.60M388.60 45.50V113.30M320.80 113.30H388.60" stroke="#000" stroke-width="0.37" fill="none" stroke-linecap="square"/>
<rect x="320.80" y="45.50" width="67.80" height="67.80" fill="none" stroke="#000" stroke-width="0.5"/>
<text class="b s" transform="translate(319.30 48.94) scale(.0935 .1)" font-size="35.7" text-anchor="end">Frontal_Sup_L</text>
<text class="b s" transform="translate(319.30 53.78) scale(.0935 .1)" font-size="35.7" text-anchor="end">Frontal_Sup_R</text>
<text class="b s" transform="translate(319.30 58.63) scale(.0935 .1)" font-size="35.7" text-anchor="end">Frontal_Mid_L</text>
<text class="b s" transform="translate(319.30 63.47) scale(.0935 .1)" font-size="35.7" text-anchor="end">Frontal_Mid_R</text>
<text class="b s" transform="translate(319.30 68.31) scale(.0935 .1)" font-size="35.7" text-anchor="end">Frontal_Inf_Oper_L</text>
<text class="b s" transform="translate(319.30 73.15) scale(.0935 .1)" font-size="35.7" text-anchor="end">Frontal_Inf_Oper_R</text>
<text class="b s" transform="translate(319.30 78.00) scale(.0935 .1)" font-size="35.7" text-anchor="end">Frontal_Inf_Tri_L</text>
<text class="b s" transform="translate(319.30 82.84) scale(.0935 .1)" font-size="35.7" text-anchor="end">Frontal_Inf_Tri_R</text>
<text class="b s" transform="translate(319.30 87.68) scale(.0935 .1)" font-size="35.7" text-anchor="end">Frontal_Sup_Medial_L</text>
<text class="b s" transform="translate(319.30 92.53) scale(.0935 .1)" font-size="35.7" text-anchor="end">Frontal_Sup_Medial_R</text>
<text class="b s" transform="translate(319.30 97.37) scale(.0935 .1)" font-size="35.7" text-anchor="end">Insula_L</text>
<text class="b s" transform="translate(319.30 102.21) scale(.0935 .1)" font-size="35.7" text-anchor="end">Insula_R</text>
<text class="b s" transform="translate(319.30 107.05) scale(.0935 .1)" font-size="35.7" text-anchor="end">Cingulum_Ant_L</text>
<text class="b s" transform="translate(319.30 111.90) scale(.0935 .1)" font-size="35.7" text-anchor="end">Cingulum_Ant_R</text>
<g>
<text class="b s" transform="translate(325.09 44.20) rotate(-88.0) scale(.0935 .1)" font-size="36.7">Frontal_Sup_L</text>
<text class="b s" transform="translate(329.93 44.20) rotate(-88.0) scale(.0935 .1)" font-size="36.7">Frontal_Sup_R</text>
<text class="b s" transform="translate(334.78 44.20) rotate(-88.0) scale(.0935 .1)" font-size="36.7">Frontal_Mid_L</text>
<text class="b s" transform="translate(339.62 44.20) rotate(-88.0) scale(.0935 .1)" font-size="36.7">Frontal_Mid_R</text>
<text class="b s" transform="translate(344.46 44.20) rotate(-88.0) scale(.0935 .1)" font-size="36.7">Frontal_Inf_Oper_L</text>
<text class="b s" transform="translate(349.30 44.20) rotate(-88.0) scale(.0935 .1)" font-size="36.7">Frontal_Inf_Oper_R</text>
<text class="b s" transform="translate(354.15 44.20) rotate(-88.0) scale(.0935 .1)" font-size="36.7">Frontal_Inf_Tri_L</text>
<text class="b s" transform="translate(358.99 44.20) rotate(-88.0) scale(.0935 .1)" font-size="36.7">Frontal_Inf_Tri_R</text>
<text class="b s" transform="translate(363.83 44.20) rotate(-88.0) scale(.0935 .1)" font-size="36.7">Frontal_Sup_Medial_L</text>
<text class="b s" transform="translate(368.68 44.20) rotate(-88.0) scale(.0935 .1)" font-size="36.7">Frontal_Sup_Medial_R</text>
<text class="b s" transform="translate(373.52 44.20) rotate(-88.0) scale(.0935 .1)" font-size="36.7">Insula_L</text>
<text class="b s" transform="translate(378.36 44.20) rotate(-88.0) scale(.0935 .1)" font-size="36.7">Insula_R</text>
<text class="b s" transform="translate(383.20 44.20) rotate(-88.0) scale(.0935 .1)" font-size="36.7">Cingulum_Ant_L</text>
<text class="b s" transform="translate(388.05 44.20) rotate(-88.0) scale(.0935 .1)" font-size="36.7">Cingulum_Ant_R</text>
</g>
<rect x="394.30" y="45.50" width="6.30" height="67.80" fill="url(#cb)" stroke="#555" stroke-width="0.3"/>
<path d="M400.60 45.50h.9" stroke="#444" stroke-width="0.35"/>
<text transform="translate(402.70 46.90) scale(.1)" font-size="38" style="fill:#3a3a3a;stroke:#3a3a3a;stroke-width:.5px">1.0</text>
<path d="M400.60 62.45h.9" stroke="#444" stroke-width="0.35"/>
<text transform="translate(402.70 63.85) scale(.1)" font-size="38" style="fill:#3a3a3a;stroke:#3a3a3a;stroke-width:.5px">0.5</text>
<path d="M400.60 79.40h.9" stroke="#444" stroke-width="0.35"/>
<text transform="translate(402.70 80.80) scale(.1)" font-size="38" style="fill:#3a3a3a;stroke:#3a3a3a;stroke-width:.5px">0</text>
<path d="M400.60 96.35h.9" stroke="#444" stroke-width="0.35"/>
<text transform="translate(401.50 97.75) scale(.1)" font-size="38" style="fill:#3a3a3a;stroke:#3a3a3a;stroke-width:.5px">-0.5</text>
<path d="M400.60 113.30h.9" stroke="#444" stroke-width="0.35"/>
<text transform="translate(401.50 114.70) scale(.1)" font-size="38" style="fill:#3a3a3a;stroke:#3a3a3a;stroke-width:.5px">-1.0</text>
<text class="b" transform="translate(355.30 121.20) scale(.1)" font-size="53" text-anchor="middle">HIE</text>
</g>
<g>
<rect x="455.00" y="45.50" width="4.94" height="4.89" fill="#ff0000"/>
<rect x="459.89" y="45.50" width="4.94" height="4.89" fill="#ff0d00"/>
<rect x="464.77" y="45.50" width="4.94" height="4.89" fill="#ff0d00"/>
<rect x="469.66" y="45.50" width="4.94" height="4.89" fill="#ff1a00"/>
<rect x="474.54" y="45.50" width="4.94" height="4.89" fill="#ff3300"/>
<rect x="479.43" y="45.50" width="4.94" height="4.89" fill="#ff3300"/>
<rect x="484.31" y="45.50" width="4.94" height="4.89" fill="#ff4600"/>
<rect x="489.20" y="45.50" width="4.94" height="4.89" fill="#ff4600"/>
<rect x="494.09" y="45.50" width="4.94" height="4.89" fill="#ff3300"/>
<rect x="498.97" y="45.50" width="4.94" height="4.89" fill="#ff3300"/>
<rect x="503.86" y="45.50" width="4.94" height="4.89" fill="#ff4600"/>
<rect x="508.74" y="45.50" width="4.94" height="4.89" fill="#ff4600"/>
<rect x="513.63" y="45.50" width="4.94" height="4.89" fill="#ff3300"/>
<rect x="518.51" y="45.50" width="4.94" height="4.89" fill="#ff3300"/>
<rect x="455.00" y="50.34" width="4.94" height="4.89" fill="#ff0d00"/>
<rect x="459.89" y="50.34" width="4.94" height="4.89" fill="#ff0000"/>
<rect x="464.77" y="50.34" width="4.94" height="4.89" fill="#ff1a00"/>
<rect x="469.66" y="50.34" width="4.94" height="4.89" fill="#ff0d00"/>
<rect x="474.54" y="50.34" width="4.94" height="4.89" fill="#ff3300"/>
<rect x="479.43" y="50.34" width="4.94" height="4.89" fill="#ff3300"/>
<rect x="484.31" y="50.34" width="4.94" height="4.89" fill="#ff4600"/>
<rect x="489.20" y="50.34" width="4.94" height="4.89" fill="#ff3300"/>
<rect x="494.09" y="50.34" width="4.94" height="4.89" fill="#ff2600"/>
<rect x="498.97" y="50.34" width="4.94" height="4.89" fill="#ff2600"/>
<rect x="503.86" y="50.34" width="4.94" height="4.89" fill="#ff4600"/>
<rect x="508.74" y="50.34" width="4.94" height="4.89" fill="#ff4600"/>
<rect x="513.63" y="50.34" width="4.94" height="4.89" fill="#ff3300"/>
<rect x="518.51" y="50.34" width="4.94" height="4.89" fill="#ff3300"/>
<rect x="455.00" y="55.19" width="4.94" height="4.89" fill="#ff0d00"/>
<rect x="459.89" y="55.19" width="4.94" height="4.89" fill="#ff1a00"/>
<rect x="464.77" y="55.19" width="4.94" height="4.89" fill="#ff0000"/>
<rect x="469.66" y="55.19" width="4.94" height="4.89" fill="#ff0d00"/>
<rect x="474.54" y="55.19" width="4.94" height="4.89" fill="#ff3300"/>
<rect x="479.43" y="55.19" width="4.94" height="4.89" fill="#ff3300"/>
<rect x="484.31" y="55.19" width="4.94" height="4.89" fill="#ff3300"/>
<rect x="489.20" y="55.19" width="4.94" height="4.89" fill="#ff3300"/>
<rect x="494.09" y="55.19" width="4.94" height="4.89" fill="#ff2600"/>
<rect x="498.97" y="55.19" width="4.94" height="4.89" fill="#ff2600"/>
<rect x="503.86" y="55.19" width="4.94" height="4.89" fill="#ff4600"/>
<rect x="508.74" y="55.19" width="4.94" height="4.89" fill="#ff4600"/>
<rect x="513.63" y="55.19" width="4.94" height="4.89" fill="#ff4600"/>
<rect x="518.51" y="55.19" width="4.94" height="4.89" fill="#ff4600"/>
<rect x="455.00" y="60.03" width="4.94" height="4.89" fill="#ff1a00"/>
<rect x="459.89" y="60.03" width="4.94" height="4.89" fill="#ff0d00"/>
<rect x="464.77" y="60.03" width="4.94" height="4.89" fill="#ff0d00"/>
<rect x="469.66" y="60.03" width="4.94" height="4.89" fill="#ff0000"/>
<rect x="474.54" y="60.03" width="4.94" height="4.89" fill="#ff2600"/>
<rect x="479.43" y="60.03" width="4.94" height="4.89" fill="#ff2600"/>
<rect x="484.31" y="60.03" width="4.94" height="4.89" fill="#ff2600"/>
<rect x="489.20" y="60.03" width="4.94" height="4.89" fill="#ff2600"/>
<rect x="494.09" y="60.03" width="4.94" height="4.89" fill="#ff2600"/>
<rect x="498.97" y="60.03" width="4.94" height="4.89" fill="#ff2600"/>
<rect x="503.86" y="60.03" width="4.94" height="4.89" fill="#ff4600"/>
<rect x="508.74" y="60.03" width="4.94" height="4.89" fill="#ff4600"/>
<rect x="513.63" y="60.03" width="4.94" height="4.89" fill="#ff4600"/>
<rect x="518.51" y="60.03" width="4.94" height="4.89" fill="#ff4600"/>
<rect x="455.00" y="64.87" width="4.94" height="4.89" fill="#ff4600"/>
<rect x="459.89" y="64.87" width="4.94" height="4.89" fill="#ff4600"/>
<rect x="464.77" y="64.87" width="4.94" height="4.89" fill="#ff3300"/>
<rect x="469.66" y="64.87" width="4.94" height="4.89" fill="#ff2600"/>
<rect x="474.54" y="64.87" width="4.94" height="4.89" fill="#ff0000"/>
<rect x="479.43" y="64.87" width="4.94" height="4.89" fill="#ff1a00"/>
<rect x="484.31" y="64.87" width="4.94" height="4.89" fill="#ff3300"/>
<rect x="489.20" y="64.87" width="4.94" height="4.89" fill="#ff4600"/>
<rect x="494.09" y="64.87" width="4.94" height="4.89" fill="#ff5a00"/>
<rect x="498.97" y="64.87" width="4.94" height="4.89" fill="#ff6600"/>
<rect x="503.86" y="64.87" width="4.94" height="4.89" fill="#ff4600"/>
<rect x="508.74" y="64.87" width="4.94" height="4.89" fill="#ff4600"/>
<rect x="513.63" y="64.87" width="4.94" height="4.89" fill="#ff4600"/>
<rect x="518.51" y="64.87" width="4.94" height="4.89" fill="#ff4600"/>
<rect x="455.00" y="69.71" width="4.94" height="4.89" fill="#ff4600"/>
<rect x="459.89" y="69.71" width="4.94" height="4.89" fill="#ff4600"/>
<rect x="464.77" y="69.71" width="4.94" height="4.89" fill="#ff3300"/>
<rect x="469.66" y="69.71" width="4.94" height="4.89" fill="#ff2600"/>
<rect x="474.54" y="69.71" width="4.94" height="4.89" fill="#ff1a00"/>
<rect x="479.43" y="69.71" width="4.94" height="4.89" fill="#ff0000"/>
<rect x="484.31" y="69.71" width="4.94" height="4.89" fill="#ff3300"/>
<rect x="489.20" y="69.71" width="4.94" height="4.89" fill="#ff3300"/>
<rect x="494.09" y="69.71" width="4.94" height="4.89" fill="#ff6600"/>
<rect x="498.97" y="69.71" width="4.94" height="4.89" fill="#ff7300"/>
<rect x="503.86" y="69.71" width="4.94" height="4.89" fill="#ff4600"/>
<rect x="508.74" y="69.71" width="4.94" height="4.89" fill="#ff5a00"/>
<rect x="513.63" y="69.71" width="4.94" height="4.89" fill="#ff4600"/>
<rect x="518.51" y="69.71" width="4.94" height="4.89" fill="#ff4600"/>
<rect x="455.00" y="74.56" width="4.94" height="4.89" fill="#ff4600"/>
<rect x="459.89" y="74.56" width="4.94" height="4.89" fill="#ff4600"/>
<rect x="464.77" y="74.56" width="4.94" height="4.89" fill="#ff3300"/>
<rect x="469.66" y="74.56" width="4.94" height="4.89" fill="#ff2600"/>
<rect x="474.54" y="74.56" width="4.94" height="4.89" fill="#ff3300"/>
<rect x="479.43" y="74.56" width="4.94" height="4.89" fill="#ff3300"/>
<rect x="484.31" y="74.56" width="4.94" height="4.89" fill="#ff0000"/>
<rect x="489.20" y="74.56" width="4.94" height="4.89" fill="#ff0d00"/>
<rect x="494.09" y="74.56" width="4.94" height="4.89" fill="#ff5a00"/>
<rect x="498.97" y="74.56" width="4.94" height="4.89" fill="#ff5a00"/>
<rect x="503.86" y="74.56" width="4.94" height="4.89" fill="#ff4600"/>
<rect x="508.74" y="74.56" width="4.94" height="4.89" fill="#ff4600"/>
<rect x="513.63" y="74.56" width="4.94" height="4.89" fill="#ff4600"/>
<rect x="518.51" y="74.56" width="4.94" height="4.89" fill="#ff4600"/>
<rect x="455.00" y="79.40" width="4.94" height="4.89" fill="#ff4600"/>
<rect x="459.89" y="79.40" width="4.94" height="4.89" fill="#ff3300"/>
<rect x="464.77" y="79.40" width="4.94" height="4.89" fill="#ff3300"/>
<rect x="469.66" y="79.40" width="4.94" height="4.89" fill="#ff2600"/>
<rect x="474.54" y="79.40" width="4.94" height="4.89" fill="#ff4600"/>
<rect x="479.43" y="79.40" width="4.94" height="4.89" fill="#ff3300"/>
<rect x="484.31" y="79.40" width="4.94" height="4.89" fill="#ff0d00"/>
<rect x="489.20" y="79.40" width="4.94" height="4.89" fill="#ff0000"/>
<rect x="494.09" y="79.40" width="4.94" height="4.89" fill="#ff4600"/>
<rect x="498.97" y="79.40" width="4.94" height="4.89" fill="#ff5a00"/>
<rect x="503.86" y="79.40" width="4.94" height="4.89" fill="#ff4600"/>
<rect x="508.74" y="79.40" width="4.94" height="4.89" fill="#ff4600"/>
<rect x="513.63" y="79.40" width="4.94" height="4.89" fill="#ff3300"/>
<rect x="518.51" y="79.40" width="4.94" height="4.89" fill="#ff4600"/>
<rect x="455.00" y="84.24" width="4.94" height="4.89" fill="#ff3300"/>
<rect x="459.89" y="84.24" width="4.94" height="4.89" fill="#ff2600"/>
<rect x="464.77" y="84.24" width="4.94" height="4.89" fill="#ff2600"/>
<rect x="469.66" y="84.24" width="4.94" height="4.89" fill="#ff2600"/>
<rect x="474.54" y="84.24" width="4.94" height="4.89" fill="#ff5a00"/>
<rect x="479.43" y="84.24" width="4.94" height="4.89" fill="#ff6600"/>
<rect x="484.31" y="84.24" width="4.94" height="4.89" fill="#ff5a00"/>
<rect x="489.20" y="84.24" width="4.94" height="4.89" fill="#ff4600"/>
<rect x="494.09" y="84.24" width="4.94" height="4.89" fill="#ff0000"/>
<rect x="498.97" y="84.24" width="4.94" height="4.89" fill="#ff0d00"/>
<rect x="503.86" y="84.24" width="4.94" height="4.89" fill="#ff5a00"/>
<rect x="508.74" y="84.24" width="4.94" height="4.89" fill="#ff7300"/>
<rect x="513.63" y="84.24" width="4.94" height="4.89" fill="#ff4600"/>
<rect x="518.51" y="84.24" width="4.94" height="4.89" fill="#ff4600"/>
<rect x="455.00" y="89.09" width="4.94" height="4.89" fill="#ff3300"/>
<rect x="459.89" y="89.09" width="4.94" height="4.89" fill="#ff2600"/>
<rect x="464.77" y="89.09" width="4.94" height="4.89" fill="#ff2600"/>
<rect x="469.66" y="89.09" width="4.94" height="4.89" fill="#ff2600"/>
<rect x="474.54" y="89.09" width="4.94" height="4.89" fill="#ff7300"/>
<rect x="479.43" y="89.09" width="4.94" height="4.89" fill="#ff8000"/>
<rect x="484.31" y="89.09" width="4.94" height="4.89" fill="#ff6600"/>
<rect x="489.20" y="89.09" width="4.94" height="4.89" fill="#ff5a00"/>
<rect x="494.09" y="89.09" width="4.94" height="4.89" fill="#ff0d00"/>
<rect x="498.97" y="89.09" width="4.94" height="4.89" fill="#ff0000"/>
<rect x="503.86" y="89.09" width="4.94" height="4.89" fill="#ff6600"/>
<rect x="508.74" y="89.09" width="4.94" height="4.89" fill="#ff7300"/>
<rect x="513.63" y="89.09" width="4.94" height="4.89" fill="#ff5a00"/>
<rect x="518.51" y="89.09" width="4.94" height="4.89" fill="#ff4600"/>
<rect x="455.00" y="93.93" width="4.94" height="4.89" fill="#ff4600"/>
<rect x="459.89" y="93.93" width="4.94" height="4.89" fill="#ff4600"/>
<rect x="464.77" y="93.93" width="4.94" height="4.89" fill="#ff4600"/>
<rect x="469.66" y="93.93" width="4.94" height="4.89" fill="#ff4600"/>
<rect x="474.54" y="93.93" width="4.94" height="4.89" fill="#ff4600"/>
<rect x="479.43" y="93.93" width="4.94" height="4.89" fill="#ff4600"/>
<rect x="484.31" y="93.93" width="4.94" height="4.89" fill="#ff4600"/>
<rect x="489.20" y="93.93" width="4.94" height="4.89" fill="#ff4600"/>
<rect x="494.09" y="93.93" width="4.94" height="4.89" fill="#ff5a00"/>
<rect x="498.97" y="93.93" width="4.94" height="4.89" fill="#ff6600"/>
<rect x="503.86" y="93.93" width="4.94" height="4.89" fill="#ff0000"/>
<rect x="508.74" y="93.93" width="4.94" height="4.89" fill="#ff1a00"/>
<rect x="513.63" y="93.93" width="4.94" height="4.89" fill="#ff4600"/>
<rect x="518.51" y="93.93" width="4.94" height="4.89" fill="#ff4600"/>
<rect x="455.00" y="98.77" width="4.94" height="4.89" fill="#ff4600"/>
<rect x="459.89" y="98.77" width="4.94" height="4.89" fill="#ff4600"/>
<rect x="464.77" y="98.77" width="4.94" height="4.89" fill="#ff4600"/>
<rect x="469.66" y="98.77" width="4.94" height="4.89" fill="#ff4600"/>
<rect x="474.54" y="98.77" width="4.94" height="4.89" fill="#ff4600"/>
<rect x="479.43" y="98.77" width="4.94" height="4.89" fill="#ff5a00"/>
<rect x="484.31" y="98.77" width="4.94" height="4.89" fill="#ff4600"/>
<rect x="489.20" y="98.77" width="4.94" height="4.89" fill="#ff4600"/>
<rect x="494.09" y="98.77" width="4.94" height="4.89" fill="#ff7300"/>
<rect x="498.97" y="98.77" width="4.94" height="4.89" fill="#ff7300"/>
<rect x="503.86" y="98.77" width="4.94" height="4.89" fill="#ff1a00"/>
<rect x="508.74" y="98.77" width="4.94" height="4.89" fill="#ff0000"/>
<rect x="513.63" y="98.77" width="4.94" height="4.89" fill="#ff3300"/>
<rect x="518.51" y="98.77" width="4.94" height="4.89" fill="#ff3300"/>
<rect x="455.00" y="103.61" width="4.94" height="4.89" fill="#ff3300"/>
<rect x="459.89" y="103.61" width="4.94" height="4.89" fill="#ff3300"/>
<rect x="464.77" y="103.61" width="4.94" height="4.89" fill="#ff4600"/>
<rect x="469.66" y="103.61" width="4.94" height="4.89" fill="#ff4600"/>
<rect x="474.54" y="103.61" width="4.94" height="4.89" fill="#ff4600"/>
<rect x="479.43" y="103.61" width="4.94" height="4.89" fill="#ff4600"/>
<rect x="484.31" y="103.61" width="4.94" height="4.89" fill="#ff4600"/>
<rect x="489.20" y="103.61" width="4.94" height="4.89" fill="#ff3300"/>
<rect x="494.09" y="103.61" width="4.94" height="4.89" fill="#ff4600"/>
<rect x="498.97" y="103.61" width="4.94" height="4.89" fill="#ff5a00"/>
<rect x="503.86" y="103.61" width="4.94" height="4.89" fill="#ff4600"/>
<rect x="508.74" y="103.61" width="4.94" height="4.89" fill="#ff3300"/>
<rect x="513.63" y="103.61" width="4.94" height="4.89" fill="#ff0000"/>
<rect x="518.51" y="103.61" width="4.94" height="4.89" fill="#ff0d00"/>
<rect x="455.00" y="108.46" width="4.94" height="4.89" fill="#ff3300"/>
<rect x="459.89" y="108.46" width="4.94" height="4.89" fill="#ff3300"/>
<rect x="464.77" y="108.46" width="4.94" height="4.89" fill="#ff4600"/>
<rect x="469.66" y="108.46" width="4.94" height="4.89" fill="#ff4600"/>
<rect x="474.54" y="108.46" width="4.94" height="4.89" fill="#ff4600"/>
<rect x="479.43" y="108.46" width="4.94" height="4.89" fill="#ff4600"/>
<rect x="484.31" y="108.46" width="4.94" height="4.89" fill="#ff4600"/>
<rect x="489.20" y="108.46" width="4.94" height="4.89" fill="#ff4600"/>
<rect x="494.09" y="108.46" width="4.94" height="4.89" fill="#ff4600"/>
<rect x="498.97" y="108.46" width="4.94" height="4.89" fill="#ff4600"/>
<rect x="503.86" y="108.46" width="4.94" height="4.89" fill="#ff4600"/>
<rect x="508.74" y="108.46" width="4.94" height="4.89" fill="#ff3300"/>
<rect x="513.63" y="108.46" width="4.94" height="4.89" fill="#ff0d00"/>
<rect x="518.51" y="108.46" width="4.94" height="4.89" fill="#ff0000"/>
<path d="M455.00 45.50V113.30M455.00 45.50H523.40M459.89 45.50V113.30M455.00 50.34H523.40M464.77 45.50V113.30M455.00 55.19H523.40M469.66 45.50V113.30M455.00 60.03H523.40M474.54 45.50V113.30M455.00 64.87H523.40M479.43 45.50V113.30M455.00 69.71H523.40M484.31 45.50V113.30M455.00 74.56H523.40M489.20 45.50V113.30M455.00 79.40H523.40M494.09 45.50V113.30M455.00 84.24H523.40M498.97 45.50V113.30M455.00 89.09H523.40M503.86 45.50V113.30M455.00 93.93H523.40M508.74 45.50V113.30M455.00 98.77H523.40M513.63 45.50V113.30M455.00 103.61H523.40M518.51 45.50V113.30M455.00 108.46H523.40M523.40 45.50V113.30M455.00 113.30H523.40" stroke="#000" stroke-width="0.37" fill="none" stroke-linecap="square"/>
<rect x="455.00" y="45.50" width="68.40" height="67.80" fill="none" stroke="#000" stroke-width="0.5"/>
<text class="b s" transform="translate(453.50 48.94) scale(.0935 .1)" font-size="35.7" text-anchor="end">Frontal_Sup_L</text>
<text class="b s" transform="translate(453.50 53.78) scale(.0935 .1)" font-size="35.7" text-anchor="end">Frontal_Sup_R</text>
<text class="b s" transform="translate(453.50 58.63) scale(.0935 .1)" font-size="35.7" text-anchor="end">Frontal_Mid_L</text>
<text class="b s" transform="translate(453.50 63.47) scale(.0935 .1)" font-size="35.7" text-anchor="end">Frontal_Mid_R</text>
<text class="b s" transform="translate(453.50 68.31) scale(.0935 .1)" font-size="35.7" text-anchor="end">Frontal_Inf_Oper_L</text>
<text class="b s" transform="translate(453.50 73.15) scale(.0935 .1)" font-size="35.7" text-anchor="end">Frontal_Inf_Oper_R</text>
<text class="b s" transform="translate(453.50 78.00) scale(.0935 .1)" font-size="35.7" text-anchor="end">Frontal_Inf_Tri_L</text>
<text class="b s" transform="translate(453.50 82.84) scale(.0935 .1)" font-size="35.7" text-anchor="end">Frontal_Inf_Tri_R</text>
<text class="b s" transform="translate(453.50 87.68) scale(.0935 .1)" font-size="35.7" text-anchor="end">Frontal_Sup_Medial_L</text>
<text class="b s" transform="translate(453.50 92.53) scale(.0935 .1)" font-size="35.7" text-anchor="end">Frontal_Sup_Medial_R</text>
<text class="b s" transform="translate(453.50 97.37) scale(.0935 .1)" font-size="35.7" text-anchor="end">Insula_L</text>
<text class="b s" transform="translate(453.50 102.21) scale(.0935 .1)" font-size="35.7" text-anchor="end">Insula_R</text>
<text class="b s" transform="translate(453.50 107.05) scale(.0935 .1)" font-size="35.7" text-anchor="end">Cingulum_Ant_L</text>
<text class="b s" transform="translate(453.50 111.90) scale(.0935 .1)" font-size="35.7" text-anchor="end">Cingulum_Ant_R</text>
<g>
<text class="b s" transform="translate(459.31 44.20) rotate(-88.0) scale(.0935 .1)" font-size="36.7">Frontal_Sup_L</text>
<text class="b s" transform="translate(464.20 44.20) rotate(-88.0) scale(.0935 .1)" font-size="36.7">Frontal_Sup_R</text>
<text class="b s" transform="translate(469.08 44.20) rotate(-88.0) scale(.0935 .1)" font-size="36.7">Frontal_Mid_L</text>
<text class="b s" transform="translate(473.97 44.20) rotate(-88.0) scale(.0935 .1)" font-size="36.7">Frontal_Mid_R</text>
<text class="b s" transform="translate(478.85 44.20) rotate(-88.0) scale(.0935 .1)" font-size="36.7">Frontal_Inf_Oper_L</text>
<text class="b s" transform="translate(483.74 44.20) rotate(-88.0) scale(.0935 .1)" font-size="36.7">Frontal_Inf_Oper_R</text>
<text class="b s" transform="translate(488.63 44.20) rotate(-88.0) scale(.0935 .1)" font-size="36.7">Frontal_Inf_Tri_L</text>
<text class="b s" transform="translate(493.51 44.20) rotate(-88.0) scale(.0935 .1)" font-size="36.7">Frontal_Inf_Tri_R</text>
<text class="b s" transform="translate(498.40 44.20) rotate(-88.0) scale(.0935 .1)" font-size="36.7">Frontal_Sup_Medial_L</text>
<text class="b s" transform="translate(503.28 44.20) rotate(-88.0) scale(.0935 .1)" font-size="36.7">Frontal_Sup_Medial_R</text>
<text class="b s" transform="translate(508.17 44.20) rotate(-88.0) scale(.0935 .1)" font-size="36.7">Insula_L</text>
<text class="b s" transform="translate(513.05 44.20) rotate(-88.0) scale(.0935 .1)" font-size="36.7">Insula_R</text>
<text class="b s" transform="translate(517.94 44.20) rotate(-88.0) scale(.0935 .1)" font-size="36.7">Cingulum_Ant_L</text>
<text class="b s" transform="translate(522.83 44.20) rotate(-88.0) scale(.0935 .1)" font-size="36.7">Cingulum_Ant_R</text>
</g>
<rect x="529.00" y="45.50" width="6.40" height="67.80" fill="url(#cb)" stroke="#555" stroke-width="0.3"/>
<path d="M535.40 45.50h.9" stroke="#444" stroke-width="0.35"/>
<text transform="translate(537.50 46.90) scale(.1)" font-size="38" style="fill:#3a3a3a;stroke:#3a3a3a;stroke-width:.5px">1.0</text>
<path d="M535.40 62.45h.9" stroke="#444" stroke-width="0.35"/>
<text transform="translate(537.50 63.85) scale(.1)" font-size="38" style="fill:#3a3a3a;stroke:#3a3a3a;stroke-width:.5px">0.5</text>
<path d="M535.40 79.40h.9" stroke="#444" stroke-width="0.35"/>
<text transform="translate(537.50 80.80) scale(.1)" font-size="38" style="fill:#3a3a3a;stroke:#3a3a3a;stroke-width:.5px">0</text>
<path d="M535.40 96.35h.9" stroke="#444" stroke-width="0.35"/>
<text transform="translate(536.30 97.75) scale(.1)" font-size="38" style="fill:#3a3a3a;stroke:#3a3a3a;stroke-width:.5px">-0.5</text>
<path d="M535.40 113.30h.9" stroke="#444" stroke-width="0.35"/>
<text transform="translate(536.30 114.70) scale(.1)" font-size="38" style="fill:#3a3a3a;stroke:#3a3a3a;stroke-width:.5px">-1.0</text>
<text class="b" transform="translate(494.40 121.20) scale(.1)" font-size="53" text-anchor="middle">HC</text>
</g>
<g>
<rect x="37.00" y="156.50" width="7.39" height="7.37" fill="#ff0000"/>
<rect x="44.34" y="156.50" width="7.39" height="7.37" fill="#ff9000"/>
<rect x="51.68" y="156.50" width="7.39" height="7.37" fill="#ff9000"/>
<rect x="59.02" y="156.50" width="7.39" height="7.37" fill="#ff9000"/>
<rect x="66.36" y="156.50" width="7.39" height="7.37" fill="#acff00"/>
<rect x="73.70" y="156.50" width="7.39" height="7.37" fill="#ff0d00"/>
<rect x="81.04" y="156.50" width="7.39" height="7.37" fill="#ff2000"/>
<rect x="88.38" y="156.50" width="7.39" height="7.37" fill="#ff2000"/>
<rect x="95.72" y="156.50" width="7.39" height="7.37" fill="#ff6d00"/>
<rect x="103.06" y="156.50" width="7.39" height="7.37" fill="#ff9000"/>
<rect x="37.00" y="163.82" width="7.39" height="7.37" fill="#ff9000"/>
<rect x="44.34" y="163.82" width="7.39" height="7.37" fill="#ff0000"/>
<rect x="51.68" y="163.82" width="7.39" height="7.37" fill="#ff3a00"/>
<rect x="59.02" y="163.82" width="7.39" height="7.37" fill="#ff9000"/>
<rect x="66.36" y="163.82" width="7.39" height="7.37" fill="#ffc100"/>
<rect x="73.70" y="163.82" width="7.39" height="7.37" fill="#d2ff00"/>
<rect x="81.04" y="163.82" width="7.39" height="7.37" fill="#ebff00"/>
<rect x="88.38" y="163.82" width="7.39" height="7.37" fill="#fffa00"/>
<rect x="95.72" y="163.82" width="7.39" height="7.37" fill="#8cff00"/>
<rect x="103.06" y="163.82" width="7.39" height="7.37" fill="#43fc00"/>
<rect x="37.00" y="171.14" width="7.39" height="7.37" fill="#ff9000"/>
<rect x="44.34" y="171.14" width="7.39" height="7.37" fill="#ff3a00"/>
<rect x="51.68" y="171.14" width="7.39" height="7.37" fill="#ff0000"/>
<rect x="59.02" y="171.14" width="7.39" height="7.37" fill="#ff0d00"/>
<rect x="66.36" y="171.14" width="7.39" height="7.37" fill="#ff3a00"/>
<rect x="73.70" y="171.14" width="7.39" height="7.37" fill="#ebff00"/>
<rect x="81.04" y="171.14" width="7.39" height="7.37" fill="#fffa00"/>
<rect x="88.38" y="171.14" width="7.39" height="7.37" fill="#ff8000"/>
<rect x="95.72" y="171.14" width="7.39" height="7.37" fill="#fffa00"/>
<rect x="103.06" y="171.14" width="7.39" height="7.37" fill="#effe00"/>
<rect x="37.00" y="178.46" width="7.39" height="7.37" fill="#ff9000"/>
<rect x="44.34" y="178.46" width="7.39" height="7.37" fill="#ff9000"/>
<rect x="51.68" y="178.46" width="7.39" height="7.37" fill="#ff0d00"/>
<rect x="59.02" y="178.46" width="7.39" height="7.37" fill="#ff0000"/>
<rect x="66.36" y="178.46" width="7.39" height="7.37" fill="#ff2d00"/>
<rect x="73.70" y="178.46" width="7.39" height="7.37" fill="#f7fc00"/>
<rect x="81.04" y="178.46" width="7.39" height="7.37" fill="#ffd100"/>
<rect x="88.38" y="178.46" width="7.39" height="7.37" fill="#ff4d00"/>
<rect x="95.72" y="178.46" width="7.39" height="7.37" fill="#ffd100"/>
<rect x="103.06" y="178.46" width="7.39" height="7.37" fill="#ffea00"/>
<rect x="37.00" y="185.78" width="7.39" height="7.37" fill="#acff00"/>
<rect x="44.34" y="185.78" width="7.39" height="7.37" fill="#ffc100"/>
<rect x="51.68" y="185.78" width="7.39" height="7.37" fill="#ff3a00"/>
<rect x="59.02" y="185.78" width="7.39" height="7.37" fill="#ff3a00"/>
<rect x="66.36" y="185.78" width="7.39" height="7.37" fill="#ff0000"/>
<rect x="73.70" y="185.78" width="7.39" height="7.37" fill="#1efa00"/>
<rect x="81.04" y="185.78" width="7.39" height="7.37" fill="#1efa00"/>
<rect x="88.38" y="185.78" width="7.39" height="7.37" fill="#ebff00"/>
<rect x="95.72" y="185.78" width="7.39" height="7.37" fill="#8cff00"/>
<rect x="103.06" y="185.78" width="7.39" height="7.37" fill="#acff00"/>
<rect x="37.00" y="193.10" width="7.39" height="7.37" fill="#ff0d00"/>
<rect x="44.34" y="193.10" width="7.39" height="7.37" fill="#d2ff00"/>
<rect x="51.68" y="193.10" width="7.39" height="7.37" fill="#ebff00"/>
<rect x="59.02" y="193.10" width="7.39" height="7.37" fill="#f7fc00"/>
<rect x="66.36" y="193.10" width="7.39" height="7.37" fill="#1efa00"/>
<rect x="73.70" y="193.10" width="7.39" height="7.37" fill="#ff0000"/>
<rect x="81.04" y="193.10" width="7.39" height="7.37" fill="#ff0d00"/>
<rect x="88.38" y="193.10" width="7.39" height="7.37" fill="#ff2d00"/>
<rect x="95.72" y="193.10" width="7.39" height="7.37" fill="#ff3a00"/>
<rect x="103.06" y="193.10" width="7.39" height="7.37" fill="#ff8000"/>
<rect x="37.00" y="200.42" width="7.39" height="7.37" fill="#ff2000"/>
<rect x="44.34" y="200.42" width="7.39" height="7.37" fill="#deff00"/>
<rect x="51.68" y="200.42" width="7.39" height="7.37" fill="#fffa00"/>
<rect x="59.02" y="200.42" width="7.39" height="7.37" fill="#ffd100"/>
<rect x="66.36" y="200.42" width="7.39" height="7.37" fill="#1efa00"/>
<rect x="73.70" y="200.42" width="7.39" height="7.37" fill="#ff0d00"/>
<rect x="81.04" y="200.42" width="7.39" height="7.37" fill="#ff0000"/>
<rect x="88.38" y="200.42" width="7.39" height="7.37" fill="#ff0d00"/>
<rect x="95.72" y="200.42" width="7.39" height="7.37" fill="#ff3a00"/>
<rect x="103.06" y="200.42" width="7.39" height="7.37" fill="#ff8000"/>
<rect x="37.00" y="207.74" width="7.39" height="7.37" fill="#ff2000"/>
<rect x="44.34" y="207.74" width="7.39" height="7.37" fill="#fffa00"/>
<rect x="51.68" y="207.74" width="7.39" height="7.37" fill="#ff8000"/>
<rect x="59.02" y="207.74" width="7.39" height="7.37" fill="#ff4d00"/>
<rect x="66.36" y="207.74" width="7.39" height="7.37" fill="#cbff00"/>
<rect x="73.70" y="207.74" width="7.39" height="7.37" fill="#ff2d00"/>
<rect x="81.04" y="207.74" width="7.39" height="7.37" fill="#ff0d00"/>
<rect x="88.38" y="207.74" width="7.39" height="7.37" fill="#ff0000"/>
<rect x="95.72" y="207.74" width="7.39" height="7.37" fill="#ff2000"/>
<rect x="103.06" y="207.74" width="7.39" height="7.37" fill="#ff4d00"/>
<rect x="37.00" y="215.06" width="7.39" height="7.37" fill="#ff4600"/>
<rect x="44.34" y="215.06" width="7.39" height="7.37" fill="#8cff00"/>
<rect x="51.68" y="215.06" width="7.39" height="7.37" fill="#fffa00"/>
<rect x="59.02" y="215.06" width="7.39" height="7.37" fill="#ffb900"/>
<rect x="66.36" y="215.06" width="7.39" height="7.37" fill="#8cff00"/>
<rect x="73.70" y="215.06" width="7.39" height="7.37" fill="#ff3a00"/>
<rect x="81.04" y="215.06" width="7.39" height="7.37" fill="#ff3a00"/>
<rect x="88.38" y="215.06" width="7.39" height="7.37" fill="#ff2000"/>
<rect x="95.72" y="215.06" width="7.39" height="7.37" fill="#ff0000"/>
<rect x="103.06" y="215.06" width="7.39" height="7.37" fill="#ff2000"/>
<rect x="37.00" y="222.38" width="7.39" height="7.37" fill="#ff9000"/>
<rect x="44.34" y="222.38" width="7.39" height="7.37" fill="#1efa00"/>
<rect x="51.68" y="222.38" width="7.39" height="7.37" fill="#ebff00"/>
<rect x="59.02" y="222.38" width="7.39" height="7.37" fill="#ffd100"/>
<rect x="66.36" y="222.38" width="7.39" height="7.37" fill="#acff00"/>
<rect x="73.70" y="222.38" width="7.39" height="7.37" fill="#ff8000"/>
<rect x="81.04" y="222.38" width="7.39" height="7.37" fill="#ff8000"/>
<rect x="88.38" y="222.38" width="7.39" height="7.37" fill="#ff4d00"/>
<rect x="95.72" y="222.38" width="7.39" height="7.37" fill="#ff2000"/>
<rect x="103.06" y="222.38" width="7.39" height="7.37" fill="#ff0000"/>
<path d="M37.00 156.50V229.70M37.00 156.50H110.40M44.34 156.50V229.70M37.00 163.82H110.40M51.68 156.50V229.70M37.00 171.14H110.40M59.02 156.50V229.70M37.00 178.46H110.40M66.36 156.50V229.70M37.00 185.78H110.40M73.70 156.50V229.70M37.00 193.10H110.40M81.04 156.50V229.70M37.00 200.42H110.40M88.38 156.50V229.70M37.00 207.74H110.40M95.72 156.50V229.70M37.00 215.06H110.40M103.06 156.50V229.70M37.00 222.38H110.40M110.40 156.50V229.70M37.00 229.70H110.40" stroke="#000" stroke-width="0.37" fill="none" stroke-linecap="square"/>
<rect x="37.00" y="156.50" width="73.40" height="73.20" fill="none" stroke="#000" stroke-width="0.5"/>
<text class="b s" transform="translate(35.50 161.26) scale(.0935 .1)" font-size="38.0" text-anchor="end">Frontal_Sup_L</text>
<text class="b s" transform="translate(35.50 168.58) scale(.0935 .1)" font-size="38.0" text-anchor="end">Parietal_Sup_L</text>
<text class="b s" transform="translate(35.50 175.90) scale(.0935 .1)" font-size="38.0" text-anchor="end">Parietal_Inf_L</text>
<text class="b s" transform="translate(35.50 183.22) scale(.0935 .1)" font-size="38.0" text-anchor="end">SupraMarginal_L</text>
<text class="b s" transform="translate(35.50 190.54) scale(.0935 .1)" font-size="38.0" text-anchor="end">Angular_L</text>
<text class="b s" transform="translate(35.50 197.86) scale(.0935 .1)" font-size="38.0" text-anchor="end">Frontal_Sup_R</text>
<text class="b s" transform="translate(35.50 205.18) scale(.0935 .1)" font-size="38.0" text-anchor="end">Parietal_Sup_R</text>
<text class="b s" transform="translate(35.50 212.50) scale(.0935 .1)" font-size="38.0" text-anchor="end">Parietal_Inf_R</text>
<text class="b s" transform="translate(35.50 219.82) scale(.0935 .1)" font-size="38.0" text-anchor="end">SupraMarginal_R</text>
<text class="b s" transform="translate(35.50 227.14) scale(.0935 .1)" font-size="38.0" text-anchor="end">Angular_R</text>
<g clip-path="url(#cl4)">
<text class="b s" transform="translate(42.62 155.20) rotate(-87.0) scale(.0935 .1)" font-size="39.0">Frontal_Sup_L</text>
<text class="b s" transform="translate(49.96 155.20) rotate(-87.0) scale(.0935 .1)" font-size="39.0">Parietal_Sup_L</text>
<text class="b s" transform="translate(57.30 155.20) rotate(-87.0) scale(.0935 .1)" font-size="39.0">Parietal_Inf_L</text>
<text class="b s" transform="translate(64.64 155.20) rotate(-87.0) scale(.0935 .1)" font-size="39.0">SupraMarginal_L</text>
<text class="b s" transform="translate(71.98 155.20) rotate(-87.0) scale(.0935 .1)" font-size="39.0">Angular_L</text>
<text class="b s" transform="translate(79.32 155.20) rotate(-87.0) scale(.0935 .1)" font-size="39.0">Frontal_Sup_R</text>
<text class="b s" transform="translate(86.66 155.20) rotate(-87.0) scale(.0935 .1)" font-size="39.0">Parietal_Sup_R</text>
<text class="b s" transform="translate(94.00 155.20) rotate(-87.0) scale(.0935 .1)" font-size="39.0">Parietal_Inf_R</text>
<text class="b s" transform="translate(101.34 155.20) rotate(-87.0) scale(.0935 .1)" font-size="39.0">SupraMarginal_R</text>
<text class="b s" transform="translate(108.68 155.20) rotate(-87.0) scale(.0935 .1)" font-size="39.0">Angular_R</text>
</g>
<rect x="116.30" y="156.50" width="6.40" height="73.20" fill="url(#cb)" stroke="#555" stroke-width="0.3"/>
<path d="M122.70 156.50h.9" stroke="#444" stroke-width="0.35"/>
<text transform="translate(124.80 157.90) scale(.1)" font-size="38" style="fill:#3a3a3a;stroke:#3a3a3a;stroke-width:.5px">1.0</text>
<path d="M122.70 174.80h.9" stroke="#444" stroke-width="0.35"/>
<text transform="translate(124.80 176.20) scale(.1)" font-size="38" style="fill:#3a3a3a;stroke:#3a3a3a;stroke-width:.5px">0.5</text>
<path d="M122.70 193.10h.9" stroke="#444" stroke-width="0.35"/>
<text transform="translate(124.80 194.50) scale(.1)" font-size="38" style="fill:#3a3a3a;stroke:#3a3a3a;stroke-width:.5px">0</text>
<path d="M122.70 211.40h.9" stroke="#444" stroke-width="0.35"/>
<text transform="translate(123.60 212.80) scale(.1)" font-size="38" style="fill:#3a3a3a;stroke:#3a3a3a;stroke-width:.5px">-0.5</text>
<path d="M122.70 229.70h.9" stroke="#444" stroke-width="0.35"/>
<text transform="translate(123.60 231.10) scale(.1)" font-size="38" style="fill:#3a3a3a;stroke:#3a3a3a;stroke-width:.5px">-1.0</text>
<text class="b" transform="translate(78.00 238.70) scale(.1)" font-size="53" text-anchor="middle">HIE</text>
</g>
<g>
<rect x="174.40" y="156.40" width="7.42" height="7.38" fill="#ff0000"/>
<rect x="181.77" y="156.40" width="7.42" height="7.38" fill="#ff4d00"/>
<rect x="189.14" y="156.40" width="7.42" height="7.38" fill="#ff4d00"/>
<rect x="196.51" y="156.40" width="7.42" height="7.38" fill="#ff6000"/>
<rect x="203.88" y="156.40" width="7.42" height="7.38" fill="#ff6000"/>
<rect x="211.25" y="156.40" width="7.42" height="7.38" fill="#ff0d00"/>
<rect x="218.62" y="156.40" width="7.42" height="7.38" fill="#ff6d00"/>
<rect x="225.99" y="156.40" width="7.42" height="7.38" fill="#ff6000"/>
<rect x="233.36" y="156.40" width="7.42" height="7.38" fill="#ff4d00"/>
<rect x="240.73" y="156.40" width="7.42" height="7.38" fill="#ff6000"/>
<rect x="174.40" y="163.73" width="7.42" height="7.38" fill="#ff4d00"/>
<rect x="181.77" y="163.73" width="7.42" height="7.38" fill="#ff0000"/>
<rect x="189.14" y="163.73" width="7.42" height="7.38" fill="#ff2000"/>
<rect x="196.51" y="163.73" width="7.42" height="7.38" fill="#ff4d00"/>
<rect x="203.88" y="163.73" width="7.42" height="7.38" fill="#ff4d00"/>
<rect x="211.25" y="163.73" width="7.42" height="7.38" fill="#ff4d00"/>
<rect x="218.62" y="163.73" width="7.42" height="7.38" fill="#ff0d00"/>
<rect x="225.99" y="163.73" width="7.42" height="7.38" fill="#ff3a00"/>
<rect x="233.36" y="163.73" width="7.42" height="7.38" fill="#ff4d00"/>
<rect x="240.73" y="163.73" width="7.42" height="7.38" fill="#ff4d00"/>
<rect x="174.40" y="171.06" width="7.42" height="7.38" fill="#ff4d00"/>
<rect x="181.77" y="171.06" width="7.42" height="7.38" fill="#ff2000"/>
<rect x="189.14" y="171.06" width="7.42" height="7.38" fill="#ff0000"/>
<rect x="196.51" y="171.06" width="7.42" height="7.38" fill="#ff6000"/>
<rect x="203.88" y="171.06" width="7.42" height="7.38" fill="#ff4d00"/>
<rect x="211.25" y="171.06" width="7.42" height="7.38" fill="#ff4d00"/>
<rect x="218.62" y="171.06" width="7.42" height="7.38" fill="#ff3a00"/>
<rect x="225.99" y="171.06" width="7.42" height="7.38" fill="#ff2d00"/>
<rect x="233.36" y="171.06" width="7.42" height="7.38" fill="#ff6000"/>
<rect x="240.73" y="171.06" width="7.42" height="7.38" fill="#ff4d00"/>
<rect x="174.40" y="178.39" width="7.42" height="7.38" fill="#ff6000"/>
<rect x="181.77" y="178.39" width="7.42" height="7.38" fill="#ff6d00"/>
<rect x="189.14" y="178.39" width="7.42" height="7.38" fill="#ff6d00"/>
<rect x="196.51" y="178.39" width="7.42" height="7.38" fill="#ff0000"/>
<rect x="203.88" y="178.39" width="7.42" height="7.38" fill="#ff3a00"/>
<rect x="211.25" y="178.39" width="7.42" height="7.38" fill="#ff4d00"/>
<rect x="218.62" y="178.39" width="7.42" height="7.38" fill="#ff9000"/>
<rect x="225.99" y="178.39" width="7.42" height="7.38" fill="#ffa900"/>
<rect x="233.36" y="178.39" width="7.42" height="7.38" fill="#ff2d00"/>
<rect x="240.73" y="178.39" width="7.42" height="7.38" fill="#ff4d00"/>
<rect x="174.40" y="185.72" width="7.42" height="7.38" fill="#ff6000"/>
<rect x="181.77" y="185.72" width="7.42" height="7.38" fill="#ff6000"/>
<rect x="189.14" y="185.72" width="7.42" height="7.38" fill="#ff6000"/>
<rect x="196.51" y="185.72" width="7.42" height="7.38" fill="#ff3a00"/>
<rect x="203.88" y="185.72" width="7.42" height="7.38" fill="#ff0000"/>
<rect x="211.25" y="185.72" width="7.42" height="7.38" fill="#ff4d00"/>
<rect x="218.62" y="185.72" width="7.42" height="7.38" fill="#ff9000"/>
<rect x="225.99" y="185.72" width="7.42" height="7.38" fill="#ff9000"/>
<rect x="233.36" y="185.72" width="7.42" height="7.38" fill="#ff4d00"/>
<rect x="240.73" y="185.72" width="7.42" height="7.38" fill="#ff2d00"/>
<rect x="174.40" y="193.05" width="7.42" height="7.38" fill="#ff0d00"/>
<rect x="181.77" y="193.05" width="7.42" height="7.38" fill="#ff3a00"/>
<rect x="189.14" y="193.05" width="7.42" height="7.38" fill="#ff3a00"/>
<rect x="196.51" y="193.05" width="7.42" height="7.38" fill="#ff4d00"/>
<rect x="203.88" y="193.05" width="7.42" height="7.38" fill="#ff4d00"/>
<rect x="211.25" y="193.05" width="7.42" height="7.38" fill="#ff0000"/>
<rect x="218.62" y="193.05" width="7.42" height="7.38" fill="#ff4d00"/>
<rect x="225.99" y="193.05" width="7.42" height="7.38" fill="#ff4d00"/>
<rect x="233.36" y="193.05" width="7.42" height="7.38" fill="#ff4d00"/>
<rect x="240.73" y="193.05" width="7.42" height="7.38" fill="#ff4d00"/>
<rect x="174.40" y="200.38" width="7.42" height="7.38" fill="#ff6d00"/>
<rect x="181.77" y="200.38" width="7.42" height="7.38" fill="#ff0d00"/>
<rect x="189.14" y="200.38" width="7.42" height="7.38" fill="#ff3a00"/>
<rect x="196.51" y="200.38" width="7.42" height="7.38" fill="#ff6d00"/>
<rect x="203.88" y="200.38" width="7.42" height="7.38" fill="#ff6d00"/>
<rect x="211.25" y="200.38" width="7.42" height="7.38" fill="#ff4d00"/>
<rect x="218.62" y="200.38" width="7.42" height="7.38" fill="#ff0000"/>
<rect x="225.99" y="200.38" width="7.42" height="7.38" fill="#ff2000"/>
<rect x="233.36" y="200.38" width="7.42" height="7.38" fill="#ff4d00"/>
<rect x="240.73" y="200.38" width="7.42" height="7.38" fill="#ff6000"/>
<rect x="174.40" y="207.71" width="7.42" height="7.38" fill="#ff6000"/>
<rect x="181.77" y="207.71" width="7.42" height="7.38" fill="#ff3a00"/>
<rect x="189.14" y="207.71" width="7.42" height="7.38" fill="#ff2d00"/>
<rect x="196.51" y="207.71" width="7.42" height="7.38" fill="#ffa900"/>
<rect x="203.88" y="207.71" width="7.42" height="7.38" fill="#ff9000"/>
<rect x="211.25" y="207.71" width="7.42" height="7.38" fill="#ff4d00"/>
<rect x="218.62" y="207.71" width="7.42" height="7.38" fill="#ff2000"/>
<rect x="225.99" y="207.71" width="7.42" height="7.38" fill="#ff0000"/>
<rect x="233.36" y="207.71" width="7.42" height="7.38" fill="#ff4d00"/>
<rect x="240.73" y="207.71" width="7.42" height="7.38" fill="#ff4d00"/>
<rect x="174.40" y="215.04" width="7.42" height="7.38" fill="#ff4d00"/>
<rect x="181.77" y="215.04" width="7.42" height="7.38" fill="#ff4d00"/>
<rect x="189.14" y="215.04" width="7.42" height="7.38" fill="#ff6000"/>
<rect x="196.51" y="215.04" width="7.42" height="7.38" fill="#ff2d00"/>
<rect x="203.88" y="215.04" width="7.42" height="7.38" fill="#ff4d00"/>
<rect x="211.25" y="215.04" width="7.42" height="7.38" fill="#ff4d00"/>
<rect x="218.62" y="215.04" width="7.42" height="7.38" fill="#ff4d00"/>
<rect x="225.99" y="215.04" width="7.42" height="7.38" fill="#ff4d00"/>
<rect x="233.36" y="215.04" width="7.42" height="7.38" fill="#ff0000"/>
<rect x="240.73" y="215.04" width="7.42" height="7.38" fill="#ff2d00"/>
<rect x="174.40" y="222.37" width="7.42" height="7.38" fill="#ff6000"/>
<rect x="181.77" y="222.37" width="7.42" height="7.38" fill="#ff4d00"/>
<rect x="189.14" y="222.37" width="7.42" height="7.38" fill="#ff4d00"/>
<rect x="196.51" y="222.37" width="7.42" height="7.38" fill="#ff4d00"/>
<rect x="203.88" y="222.37" width="7.42" height="7.38" fill="#ff2d00"/>
<rect x="211.25" y="222.37" width="7.42" height="7.38" fill="#ff4d00"/>
<rect x="218.62" y="222.37" width="7.42" height="7.38" fill="#ff6000"/>
<rect x="225.99" y="222.37" width="7.42" height="7.38" fill="#ff4d00"/>
<rect x="233.36" y="222.37" width="7.42" height="7.38" fill="#ff2d00"/>
<rect x="240.73" y="222.37" width="7.42" height="7.38" fill="#ff0000"/>
<path d="M174.40 156.40V229.70M174.40 156.40H248.10M181.77 156.40V229.70M174.40 163.73H248.10M189.14 156.40V229.70M174.40 171.06H248.10M196.51 156.40V229.70M174.40 178.39H248.10M203.88 156.40V229.70M174.40 185.72H248.10M211.25 156.40V229.70M174.40 193.05H248.10M218.62 156.40V229.70M174.40 200.38H248.10M225.99 156.40V229.70M174.40 207.71H248.10M233.36 156.40V229.70M174.40 215.04H248.10M240.73 156.40V229.70M174.40 222.37H248.10M248.10 156.40V229.70M174.40 229.70H248.10" stroke="#000" stroke-width="0.37" fill="none" stroke-linecap="square"/>
<rect x="174.40" y="156.40" width="73.70" height="73.30" fill="none" stroke="#000" stroke-width="0.5"/>
<text class="b s" transform="translate(172.90 161.16) scale(.0935 .1)" font-size="38.0" text-anchor="end">Frontal_Sup_L</text>
<text class="b s" transform="translate(172.90 168.49) scale(.0935 .1)" font-size="38.0" text-anchor="end">Parietal_Sup_L</text>
<text class="b s" transform="translate(172.90 175.82) scale(.0935 .1)" font-size="38.0" text-anchor="end">Parietal_Inf_L</text>
<text class="b s" transform="translate(172.90 183.15) scale(.0935 .1)" font-size="38.0" text-anchor="end">SupraMarginal_L</text>
<text class="b s" transform="translate(172.90 190.48) scale(.0935 .1)" font-size="38.0" text-anchor="end">Angular_L</text>
<text class="b s" transform="translate(172.90 197.81) scale(.0935 .1)" font-size="38.0" text-anchor="end">Frontal_Sup_R</text>
<text class="b s" transform="translate(172.90 205.14) scale(.0935 .1)" font-size="38.0" text-anchor="end">Parietal_Sup_R</text>
<text class="b s" transform="translate(172.90 212.47) scale(.0935 .1)" font-size="38.0" text-anchor="end">Parietal_Inf_R</text>
<text class="b s" transform="translate(172.90 219.80) scale(.0935 .1)" font-size="38.0" text-anchor="end">SupraMarginal_R</text>
<text class="b s" transform="translate(172.90 227.13) scale(.0935 .1)" font-size="38.0" text-anchor="end">Angular_R</text>
<g clip-path="url(#cl5)">
<text class="b s" transform="translate(180.03 155.10) rotate(-87.0) scale(.0935 .1)" font-size="39.0">Frontal_Sup_L</text>
<text class="b s" transform="translate(187.40 155.10) rotate(-87.0) scale(.0935 .1)" font-size="39.0">Parietal_Sup_L</text>
<text class="b s" transform="translate(194.77 155.10) rotate(-87.0) scale(.0935 .1)" font-size="39.0">Parietal_Inf_L</text>
<text class="b s" transform="translate(202.14 155.10) rotate(-87.0) scale(.0935 .1)" font-size="39.0">SupraMarginal_L</text>
<text class="b s" transform="translate(209.51 155.10) rotate(-87.0) scale(.0935 .1)" font-size="39.0">Angular_L</text>
<text class="b s" transform="translate(216.88 155.10) rotate(-87.0) scale(.0935 .1)" font-size="39.0">Frontal_Sup_R</text>
<text class="b s" transform="translate(224.25 155.10) rotate(-87.0) scale(.0935 .1)" font-size="39.0">Parietal_Sup_R</text>
<text class="b s" transform="translate(231.62 155.10) rotate(-87.0) scale(.0935 .1)" font-size="39.0">Parietal_Inf_R</text>
<text class="b s" transform="translate(238.99 155.10) rotate(-87.0) scale(.0935 .1)" font-size="39.0">SupraMarginal_R</text>
<text class="b s" transform="translate(246.36 155.10) rotate(-87.0) scale(.0935 .1)" font-size="39.0">Angular_R</text>
</g>
<rect x="254.10" y="156.40" width="6.50" height="73.30" fill="url(#cb)" stroke="#555" stroke-width="0.3"/>
<path d="M260.60 156.40h.9" stroke="#444" stroke-width="0.35"/>
<text transform="translate(262.70 157.80) scale(.1)" font-size="38" style="fill:#3a3a3a;stroke:#3a3a3a;stroke-width:.5px">1.0</text>
<path d="M260.60 174.72h.9" stroke="#444" stroke-width="0.35"/>
<text transform="translate(262.70 176.12) scale(.1)" font-size="38" style="fill:#3a3a3a;stroke:#3a3a3a;stroke-width:.5px">0.5</text>
<path d="M260.60 193.05h.9" stroke="#444" stroke-width="0.35"/>
<text transform="translate(262.70 194.45) scale(.1)" font-size="38" style="fill:#3a3a3a;stroke:#3a3a3a;stroke-width:.5px">0</text>
<path d="M260.60 211.38h.9" stroke="#444" stroke-width="0.35"/>
<text transform="translate(261.50 212.78) scale(.1)" font-size="38" style="fill:#3a3a3a;stroke:#3a3a3a;stroke-width:.5px">-0.5</text>
<path d="M260.60 229.70h.9" stroke="#444" stroke-width="0.35"/>
<text transform="translate(261.50 231.10) scale(.1)" font-size="38" style="fill:#3a3a3a;stroke:#3a3a3a;stroke-width:.5px">-1.0</text>
<text class="b" transform="translate(219.90 238.70) scale(.1)" font-size="53" text-anchor="middle">HC</text>
</g>
<g>
<rect x="317.60" y="161.60" width="4.06" height="3.85" fill="#ff0000"/>
<rect x="321.61" y="161.60" width="4.06" height="3.85" fill="#ff2000"/>
<rect x="325.61" y="161.60" width="4.06" height="3.85" fill="#ffd100"/>
<rect x="329.62" y="161.60" width="4.06" height="3.85" fill="#ff8000"/>
<rect x="333.62" y="161.60" width="4.06" height="3.85" fill="#ff2d00"/>
<rect x="337.63" y="161.60" width="4.06" height="3.85" fill="#ffc100"/>
<rect x="341.63" y="161.60" width="4.06" height="3.85" fill="#ff8000"/>
<rect x="345.64" y="161.60" width="4.06" height="3.85" fill="#ff6000"/>
<rect x="349.64" y="161.60" width="4.06" height="3.85" fill="#8cff00"/>
<rect x="353.65" y="161.60" width="4.06" height="3.85" fill="#ff2000"/>
<rect x="357.66" y="161.60" width="4.06" height="3.85" fill="#ff2d00"/>
<rect x="361.66" y="161.60" width="4.06" height="3.85" fill="#ff5300"/>
<rect x="365.67" y="161.60" width="4.06" height="3.85" fill="#ff6000"/>
<rect x="369.67" y="161.60" width="4.06" height="3.85" fill="#ff4000"/>
<rect x="373.68" y="161.60" width="4.06" height="3.85" fill="#ff6000"/>
<rect x="377.68" y="161.60" width="4.06" height="3.85" fill="#ff4d00"/>
<rect x="381.69" y="161.60" width="4.06" height="3.85" fill="#ff4d00"/>
<rect x="385.69" y="161.60" width="4.06" height="3.85" fill="#ff7300"/>
<rect x="317.60" y="165.40" width="4.06" height="3.85" fill="#ff2000"/>
<rect x="321.61" y="165.40" width="4.06" height="3.85" fill="#ff0000"/>
<rect x="325.61" y="165.40" width="4.06" height="3.85" fill="#ff8000"/>
<rect x="329.62" y="165.40" width="4.06" height="3.85" fill="#ff4000"/>
<rect x="333.62" y="165.40" width="4.06" height="3.85" fill="#ff2d00"/>
<rect x="337.63" y="165.40" width="4.06" height="3.85" fill="#ffd100"/>
<rect x="341.63" y="165.40" width="4.06" height="3.85" fill="#ff9000"/>
<rect x="345.64" y="165.40" width="4.06" height="3.85" fill="#ff4d00"/>
<rect x="349.64" y="165.40" width="4.06" height="3.85" fill="#ebff00"/>
<rect x="353.65" y="165.40" width="4.06" height="3.85" fill="#ff4000"/>
<rect x="357.66" y="165.40" width="4.06" height="3.85" fill="#ff2d00"/>
<rect x="361.66" y="165.40" width="4.06" height="3.85" fill="#ff6000"/>
<rect x="365.67" y="165.40" width="4.06" height="3.85" fill="#ff4d00"/>
<rect x="369.67" y="165.40" width="4.06" height="3.85" fill="#ff4d00"/>
<rect x="373.68" y="165.40" width="4.06" height="3.85" fill="#ff6000"/>
<rect x="377.68" y="165.40" width="4.06" height="3.85" fill="#ff4000"/>
<rect x="381.69" y="165.40" width="4.06" height="3.85" fill="#ff4d00"/>
<rect x="385.69" y="165.40" width="4.06" height="3.85" fill="#ff6000"/>
<rect x="317.60" y="169.20" width="4.06" height="3.85" fill="#ffd100"/>
<rect x="321.61" y="169.20" width="4.06" height="3.85" fill="#ff8000"/>
<rect x="325.61" y="169.20" width="4.06" height="3.85" fill="#ff0000"/>
<rect x="329.62" y="169.20" width="4.06" height="3.85" fill="#ff2000"/>
<rect x="333.62" y="169.20" width="4.06" height="3.85" fill="#ff6000"/>
<rect x="337.63" y="169.20" width="4.06" height="3.85" fill="#f3fd00"/>
<rect x="341.63" y="169.20" width="4.06" height="3.85" fill="#ff6000"/>
<rect x="345.64" y="169.20" width="4.06" height="3.85" fill="#ff2d00"/>
<rect x="349.64" y="169.20" width="4.06" height="3.85" fill="#ff9000"/>
<rect x="353.65" y="169.20" width="4.06" height="3.85" fill="#ebff00"/>
<rect x="357.66" y="169.20" width="4.06" height="3.85" fill="#f3fd00"/>
<rect x="361.66" y="169.20" width="4.06" height="3.85" fill="#ffa900"/>
<rect x="365.67" y="169.20" width="4.06" height="3.85" fill="#ffc100"/>
<rect x="369.67" y="169.20" width="4.06" height="3.85" fill="#ffc100"/>
<rect x="373.68" y="169.20" width="4.06" height="3.85" fill="#ffe200"/>
<rect x="377.68" y="169.20" width="4.06" height="3.85" fill="#ff9000"/>
<rect x="381.69" y="169.20" width="4.06" height="3.85" fill="#ff9000"/>
<rect x="385.69" y="169.20" width="4.06" height="3.85" fill="#ff9000"/>
<rect x="317.60" y="173.00" width="4.06" height="3.85" fill="#ff8000"/>
<rect x="321.61" y="173.00" width="4.06" height="3.85" fill="#ff4000"/>
<rect x="325.61" y="173.00" width="4.06" height="3.85" fill="#ff2000"/>
<rect x="329.62" y="173.00" width="4.06" height="3.85" fill="#ff0000"/>
<rect x="333.62" y="173.00" width="4.06" height="3.85" fill="#ff4000"/>
<rect x="337.63" y="173.00" width="4.06" height="3.85" fill="#fffa00"/>
<rect x="341.63" y="173.00" width="4.06" height="3.85" fill="#ff6000"/>
<rect x="345.64" y="173.00" width="4.06" height="3.85" fill="#ff2d00"/>
<rect x="349.64" y="173.00" width="4.06" height="3.85" fill="#ff8000"/>
<rect x="353.65" y="173.00" width="4.06" height="3.85" fill="#ff8000"/>
<rect x="357.66" y="173.00" width="4.06" height="3.85" fill="#ff6000"/>
<rect x="361.66" y="173.00" width="4.06" height="3.85" fill="#ff6000"/>
<rect x="365.67" y="173.00" width="4.06" height="3.85" fill="#ff4d00"/>
<rect x="369.67" y="173.00" width="4.06" height="3.85" fill="#ff5300"/>
<rect x="373.68" y="173.00" width="4.06" height="3.85" fill="#ff6000"/>
<rect x="377.68" y="173.00" width="4.06" height="3.85" fill="#ff4000"/>
<rect x="381.69" y="173.00" width="4.06" height="3.85" fill="#ff4000"/>
<rect x="385.69" y="173.00" width="4.06" height="3.85" fill="#ff5300"/>
<rect x="317.60" y="176.80" width="4.06" height="3.85" fill="#ff2d00"/>
<rect x="321.61" y="176.80" width="4.06" height="3.85" fill="#ff2d00"/>
<rect x="325.61" y="176.80" width="4.06" height="3.85" fill="#ff6000"/>
<rect x="329.62" y="176.80" width="4.06" height="3.85" fill="#ff4000"/>
<rect x="333.62" y="176.80" width="4.06" height="3.85" fill="#ff0000"/>
<rect x="337.63" y="176.80" width="4.06" height="3.85" fill="#f3fd00"/>
<rect x="341.63" y="176.80" width="4.06" height="3.85" fill="#ff8000"/>
<rect x="345.64" y="176.80" width="4.06" height="3.85" fill="#ff6000"/>
<rect x="349.64" y="176.80" width="4.06" height="3.85" fill="#ebff00"/>
<rect x="353.65" y="176.80" width="4.06" height="3.85" fill="#ff4d00"/>
<rect x="357.66" y="176.80" width="4.06" height="3.85" fill="#ff4000"/>
<rect x="361.66" y="176.80" width="4.06" height="3.85" fill="#ff6000"/>
<rect x="365.67" y="176.80" width="4.06" height="3.85" fill="#ff4d00"/>
<rect x="369.67" y="176.80" width="4.06" height="3.85" fill="#ff2000"/>
<rect x="373.68" y="176.80" width="4.06" height="3.85" fill="#ff6000"/>
<rect x="377.68" y="176.80" width="4.06" height="3.85" fill="#ff4d00"/>
<rect x="381.69" y="176.80" width="4.06" height="3.85" fill="#ff5300"/>
<rect x="385.69" y="176.80" width="4.06" height="3.85" fill="#ff5300"/>
<rect x="317.60" y="180.60" width="4.06" height="3.85" fill="#ffc100"/>
<rect x="321.61" y="180.60" width="4.06" height="3.85" fill="#ffd100"/>
<rect x="325.61" y="180.60" width="4.06" height="3.85" fill="#f3fd00"/>
<rect x="329.62" y="180.60" width="4.06" height="3.85" fill="#fffa00"/>
<rect x="333.62" y="180.60" width="4.06" height="3.85" fill="#f3fd00"/>
<rect x="337.63" y="180.60" width="4.06" height="3.85" fill="#ff0000"/>
<rect x="341.63" y="180.60" width="4.06" height="3.85" fill="#ff4000"/>
<rect x="345.64" y="180.60" width="4.06" height="3.85" fill="#ff8000"/>
<rect x="349.64" y="180.60" width="4.06" height="3.85" fill="#ff6000"/>
<rect x="353.65" y="180.60" width="4.06" height="3.85" fill="#cbff00"/>
<rect x="357.66" y="180.60" width="4.06" height="3.85" fill="#ebff00"/>
<rect x="361.66" y="180.60" width="4.06" height="3.85" fill="#8cff00"/>
<rect x="365.67" y="180.60" width="4.06" height="3.85" fill="#9fff00"/>
<rect x="369.67" y="180.60" width="4.06" height="3.85" fill="#acff00"/>
<rect x="373.68" y="180.60" width="4.06" height="3.85" fill="#8cff00"/>
<rect x="377.68" y="180.60" width="4.06" height="3.85" fill="#f3fd00"/>
<rect x="381.69" y="180.60" width="4.06" height="3.85" fill="#8cff00"/>
<rect x="385.69" y="180.60" width="4.06" height="3.85" fill="#1efa00"/>
<rect x="317.60" y="184.40" width="4.06" height="3.85" fill="#ff8000"/>
<rect x="321.61" y="184.40" width="4.06" height="3.85" fill="#ff9000"/>
<rect x="325.61" y="184.40" width="4.06" height="3.85" fill="#ff6000"/>
<rect x="329.62" y="184.40" width="4.06" height="3.85" fill="#ff6000"/>
<rect x="333.62" y="184.40" width="4.06" height="3.85" fill="#ff8000"/>
<rect x="337.63" y="184.40" width="4.06" height="3.85" fill="#ff4000"/>
<rect x="341.63" y="184.40" width="4.06" height="3.85" fill="#ff0000"/>
<rect x="345.64" y="184.40" width="4.06" height="3.85" fill="#ff2000"/>
<rect x="349.64" y="184.40" width="4.06" height="3.85" fill="#ff2d00"/>
<rect x="353.65" y="184.40" width="4.06" height="3.85" fill="#f3fd00"/>
<rect x="357.66" y="184.40" width="4.06" height="3.85" fill="#f3fd00"/>
<rect x="361.66" y="184.40" width="4.06" height="3.85" fill="#ebff00"/>
<rect x="365.67" y="184.40" width="4.06" height="3.85" fill="#ebff00"/>
<rect x="369.67" y="184.40" width="4.06" height="3.85" fill="#ebff00"/>
<rect x="373.68" y="184.40" width="4.06" height="3.85" fill="#f3fd00"/>
<rect x="377.68" y="184.40" width="4.06" height="3.85" fill="#ffa900"/>
<rect x="381.69" y="184.40" width="4.06" height="3.85" fill="#fffa00"/>
<rect x="385.69" y="184.40" width="4.06" height="3.85" fill="#ebff00"/>
<rect x="317.60" y="188.20" width="4.06" height="3.85" fill="#ff6000"/>
<rect x="321.61" y="188.20" width="4.06" height="3.85" fill="#ff4d00"/>
<rect x="325.61" y="188.20" width="4.06" height="3.85" fill="#ff2d00"/>
<rect x="329.62" y="188.20" width="4.06" height="3.85" fill="#ff2d00"/>
<rect x="333.62" y="188.20" width="4.06" height="3.85" fill="#ff6000"/>
<rect x="337.63" y="188.20" width="4.06" height="3.85" fill="#ff8000"/>
<rect x="341.63" y="188.20" width="4.06" height="3.85" fill="#ff2000"/>
<rect x="345.64" y="188.20" width="4.06" height="3.85" fill="#ff0000"/>
<rect x="349.64" y="188.20" width="4.06" height="3.85" fill="#ff4000"/>
<rect x="353.65" y="188.20" width="4.06" height="3.85" fill="#ffe200"/>
<rect x="357.66" y="188.20" width="4.06" height="3.85" fill="#ffd100"/>
<rect x="361.66" y="188.20" width="4.06" height="3.85" fill="#ffc100"/>
<rect x="365.67" y="188.20" width="4.06" height="3.85" fill="#ffc100"/>
<rect x="369.67" y="188.20" width="4.06" height="3.85" fill="#ffd100"/>
<rect x="373.68" y="188.20" width="4.06" height="3.85" fill="#ffd100"/>
<rect x="377.68" y="188.20" width="4.06" height="3.85" fill="#ff8000"/>
<rect x="381.69" y="188.20" width="4.06" height="3.85" fill="#ff9000"/>
<rect x="385.69" y="188.20" width="4.06" height="3.85" fill="#ffb900"/>
<rect x="317.60" y="192.00" width="4.06" height="3.85" fill="#8cff00"/>
<rect x="321.61" y="192.00" width="4.06" height="3.85" fill="#ebff00"/>
<rect x="325.61" y="192.00" width="4.06" height="3.85" fill="#ff9000"/>
<rect x="329.62" y="192.00" width="4.06" height="3.85" fill="#ff8000"/>
<rect x="333.62" y="192.00" width="4.06" height="3.85" fill="#ebff00"/>
<rect x="337.63" y="192.00" width="4.06" height="3.85" fill="#ff6000"/>
<rect x="341.63" y="192.00" width="4.06" height="3.85" fill="#ff2d00"/>
<rect x="345.64" y="192.00" width="4.06" height="3.85" fill="#ff4000"/>
<rect x="349.64" y="192.00" width="4.06" height="3.85" fill="#ff0000"/>
<rect x="353.65" y="192.00" width="4.06" height="3.85" fill="#1efa00"/>
<rect x="357.66" y="192.00" width="4.06" height="3.85" fill="#18f904"/>
<rect x="361.66" y="192.00" width="4.06" height="3.85" fill="#43fc00"/>
<rect x="365.67" y="192.00" width="4.06" height="3.85" fill="#76fe00"/>
<rect x="369.67" y="192.00" width="4.06" height="3.85" fill="#1efa00"/>
<rect x="373.68" y="192.00" width="4.06" height="3.85" fill="#8cff00"/>
<rect x="377.68" y="192.00" width="4.06" height="3.85" fill="#cbff00"/>
<rect x="381.69" y="192.00" width="4.06" height="3.85" fill="#9fff00"/>
<rect x="385.69" y="192.00" width="4.06" height="3.85" fill="#acff00"/>
<rect x="317.60" y="195.80" width="4.06" height="3.85" fill="#ff2000"/>
<rect x="321.61" y="195.80" width="4.06" height="3.85" fill="#ff4000"/>
<rect x="325.61" y="195.80" width="4.06" height="3.85" fill="#ebff00"/>
<rect x="329.62" y="195.80" width="4.06" height="3.85" fill="#ff8000"/>
<rect x="333.62" y="195.80" width="4.06" height="3.85" fill="#ff4d00"/>
<rect x="337.63" y="195.80" width="4.06" height="3.85" fill="#cbff00"/>
<rect x="341.63" y="195.80" width="4.06" height="3.85" fill="#f3fd00"/>
<rect x="345.64" y="195.80" width="4.06" height="3.85" fill="#ffe200"/>
<rect x="349.64" y="195.80" width="4.06" height="3.85" fill="#1efa00"/>
<rect x="353.65" y="195.80" width="4.06" height="3.85" fill="#ff0000"/>
<rect x="357.66" y="195.80" width="4.06" height="3.85" fill="#ff1300"/>
<rect x="361.66" y="195.80" width="4.06" height="3.85" fill="#ff3300"/>
<rect x="365.67" y="195.80" width="4.06" height="3.85" fill="#ff4000"/>
<rect x="369.67" y="195.80" width="4.06" height="3.85" fill="#ff2d00"/>
<rect x="373.68" y="195.80" width="4.06" height="3.85" fill="#ff4000"/>
<rect x="377.68" y="195.80" width="4.06" height="3.85" fill="#ff2d00"/>
<rect x="381.69" y="195.80" width="4.06" height="3.85" fill="#ff3300"/>
<rect x="385.69" y="195.80" width="4.06" height="3.85" fill="#ff5300"/>
<rect x="317.60" y="199.60" width="4.06" height="3.85" fill="#ff2d00"/>
<rect x="321.61" y="199.60" width="4.06" height="3.85" fill="#ff2d00"/>
<rect x="325.61" y="199.60" width="4.06" height="3.85" fill="#f3fd00"/>
<rect x="329.62" y="199.60" width="4.06" height="3.85" fill="#ff6000"/>
<rect x="333.62" y="199.60" width="4.06" height="3.85" fill="#ff4000"/>
<rect x="337.63" y="199.60" width="4.06" height="3.85" fill="#ebff00"/>
<rect x="341.63" y="199.60" width="4.06" height="3.85" fill="#f3fd00"/>
<rect x="345.64" y="199.60" width="4.06" height="3.85" fill="#ffd100"/>
<rect x="349.64" y="199.60" width="4.06" height="3.85" fill="#18f904"/>
<rect x="353.65" y="199.60" width="4.06" height="3.85" fill="#ff1300"/>
<rect x="357.66" y="199.60" width="4.06" height="3.85" fill="#ff0000"/>
<rect x="361.66" y="199.60" width="4.06" height="3.85" fill="#ff2000"/>
<rect x="365.67" y="199.60" width="4.06" height="3.85" fill="#ff2000"/>
<rect x="369.67" y="199.60" width="4.06" height="3.85" fill="#ff2000"/>
<rect x="373.68" y="199.60" width="4.06" height="3.85" fill="#ff2d00"/>
<rect x="377.68" y="199.60" width="4.06" height="3.85" fill="#ff2000"/>
<rect x="381.69" y="199.60" width="4.06" height="3.85" fill="#ff2d00"/>
<rect x="385.69" y="199.60" width="4.06" height="3.85" fill="#ff4d00"/>
<rect x="317.60" y="203.40" width="4.06" height="3.85" fill="#ff5300"/>
<rect x="321.61" y="203.40" width="4.06" height="3.85" fill="#ff6000"/>
<rect x="325.61" y="203.40" width="4.06" height="3.85" fill="#ffa900"/>
<rect x="329.62" y="203.40" width="4.06" height="3.85" fill="#ff6000"/>
<rect x="333.62" y="203.40" width="4.06" height="3.85" fill="#ff6000"/>
<rect x="337.63" y="203.40" width="4.06" height="3.85" fill="#8cff00"/>
<rect x="341.63" y="203.40" width="4.06" height="3.85" fill="#ebff00"/>
<rect x="345.64" y="203.40" width="4.06" height="3.85" fill="#ffc100"/>
<rect x="349.64" y="203.40" width="4.06" height="3.85" fill="#43fc00"/>
<rect x="353.65" y="203.40" width="4.06" height="3.85" fill="#ff3300"/>
<rect x="357.66" y="203.40" width="4.06" height="3.85" fill="#ff2000"/>
<rect x="361.66" y="203.40" width="4.06" height="3.85" fill="#ff0000"/>
<rect x="365.67" y="203.40" width="4.06" height="3.85" fill="#ff2000"/>
<rect x="369.67" y="203.40" width="4.06" height="3.85" fill="#ff2d00"/>
<rect x="373.68" y="203.40" width="4.06" height="3.85" fill="#ff3300"/>
<rect x="377.68" y="203.40" width="4.06" height="3.85" fill="#ff2000"/>
<rect x="381.69" y="203.40" width="4.06" height="3.85" fill="#ff2000"/>
<rect x="385.69" y="203.40" width="4.06" height="3.85" fill="#ff3300"/>
<rect x="317.60" y="207.20" width="4.06" height="3.85" fill="#ff6000"/>
<rect x="321.61" y="207.20" width="4.06" height="3.85" fill="#ff4d00"/>
<rect x="325.61" y="207.20" width="4.06" height="3.85" fill="#ffc100"/>
<rect x="329.62" y="207.20" width="4.06" height="3.85" fill="#ff4d00"/>
<rect x="333.62" y="207.20" width="4.06" height="3.85" fill="#ff4d00"/>
<rect x="337.63" y="207.20" width="4.06" height="3.85" fill="#9fff00"/>
<rect x="341.63" y="207.20" width="4.06" height="3.85" fill="#ebff00"/>
<rect x="345.64" y="207.20" width="4.06" height="3.85" fill="#ffc100"/>
<rect x="349.64" y="207.20" width="4.06" height="3.85" fill="#76fe00"/>
<rect x="353.65" y="207.20" width="4.06" height="3.85" fill="#ff4000"/>
<rect x="357.66" y="207.20" width="4.06" height="3.85" fill="#ff2000"/>
<rect x="361.66" y="207.20" width="4.06" height="3.85" fill="#ff2000"/>
<rect x="365.67" y="207.20" width="4.06" height="3.85" fill="#ff0000"/>
<rect x="369.67" y="207.20" width="4.06" height="3.85" fill="#ff2d00"/>
<rect x="373.68" y="207.20" width="4.06" height="3.85" fill="#ff3300"/>
<rect x="377.68" y="207.20" width="4.06" height="3.85" fill="#ff2000"/>
<rect x="381.69" y="207.20" width="4.06" height="3.85" fill="#ff2000"/>
<rect x="385.69" y="207.20" width="4.06" height="3.85" fill="#ff3300"/>
<rect x="317.60" y="211.00" width="4.06" height="3.85" fill="#ff4000"/>
<rect x="321.61" y="211.00" width="4.06" height="3.85" fill="#ff4d00"/>
<rect x="325.61" y="211.00" width="4.06" height="3.85" fill="#ffc100"/>
<rect x="329.62" y="211.00" width="4.06" height="3.85" fill="#ff5300"/>
<rect x="333.62" y="211.00" width="4.06" height="3.85" fill="#ff2000"/>
<rect x="337.63" y="211.00" width="4.06" height="3.85" fill="#acff00"/>
<rect x="341.63" y="211.00" width="4.06" height="3.85" fill="#ebff00"/>
<rect x="345.64" y="211.00" width="4.06" height="3.85" fill="#ffd100"/>
<rect x="349.64" y="211.00" width="4.06" height="3.85" fill="#1efa00"/>
<rect x="353.65" y="211.00" width="4.06" height="3.85" fill="#ff2d00"/>
<rect x="357.66" y="211.00" width="4.06" height="3.85" fill="#ff2000"/>
<rect x="361.66" y="211.00" width="4.06" height="3.85" fill="#ff2d00"/>
<rect x="365.67" y="211.00" width="4.06" height="3.85" fill="#ff2d00"/>
<rect x="369.67" y="211.00" width="4.06" height="3.85" fill="#ff0000"/>
<rect x="373.68" y="211.00" width="4.06" height="3.85" fill="#ff5a00"/>
<rect x="377.68" y="211.00" width="4.06" height="3.85" fill="#ff2d00"/>
<rect x="381.69" y="211.00" width="4.06" height="3.85" fill="#ff3300"/>
<rect x="385.69" y="211.00" width="4.06" height="3.85" fill="#ff3300"/>
<rect x="317.60" y="214.80" width="4.06" height="3.85" fill="#ff6000"/>
<rect x="321.61" y="214.80" width="4.06" height="3.85" fill="#ff6000"/>
<rect x="325.61" y="214.80" width="4.06" height="3.85" fill="#ffe200"/>
<rect x="329.62" y="214.80" width="4.06" height="3.85" fill="#ff6000"/>
<rect x="333.62" y="214.80" width="4.06" height="3.85" fill="#ff6000"/>
<rect x="337.63" y="214.80" width="4.06" height="3.85" fill="#8cff00"/>
<rect x="341.63" y="214.80" width="4.06" height="3.85" fill="#f3fd00"/>
<rect x="345.64" y="214.80" width="4.06" height="3.85" fill="#ffd100"/>
<rect x="349.64" y="214.80" width="4.06" height="3.85" fill="#8cff00"/>
<rect x="353.65" y="214.80" width="4.06" height="3.85" fill="#ff4000"/>
<rect x="357.66" y="214.80" width="4.06" height="3.85" fill="#ff2d00"/>
<rect x="361.66" y="214.80" width="4.06" height="3.85" fill="#ff3300"/>
<rect x="365.67" y="214.80" width="4.06" height="3.85" fill="#ff3300"/>
<rect x="369.67" y="214.80" width="4.06" height="3.85" fill="#ff5a00"/>
<rect x="373.68" y="214.80" width="4.06" height="3.85" fill="#ff0000"/>
<rect x="377.68" y="214.80" width="4.06" height="3.85" fill="#ff2000"/>
<rect x="381.69" y="214.80" width="4.06" height="3.85" fill="#ff3300"/>
<rect x="385.69" y="214.80" width="4.06" height="3.85" fill="#ff6000"/>
<rect x="317.60" y="218.60" width="4.06" height="3.85" fill="#ff4d00"/>
<rect x="321.61" y="218.60" width="4.06" height="3.85" fill="#ff4000"/>
<rect x="325.61" y="218.60" width="4.06" height="3.85" fill="#ff9000"/>
<rect x="329.62" y="218.60" width="4.06" height="3.85" fill="#ff4000"/>
<rect x="333.62" y="218.60" width="4.06" height="3.85" fill="#ff4d00"/>
<rect x="337.63" y="218.60" width="4.06" height="3.85" fill="#f3fd00"/>
<rect x="341.63" y="218.60" width="4.06" height="3.85" fill="#ffa900"/>
<rect x="345.64" y="218.60" width="4.06" height="3.85" fill="#ff8000"/>
<rect x="349.64" y="218.60" width="4.06" height="3.85" fill="#cbff00"/>
<rect x="353.65" y="218.60" width="4.06" height="3.85" fill="#ff2d00"/>
<rect x="357.66" y="218.60" width="4.06" height="3.85" fill="#ff2000"/>
<rect x="361.66" y="218.60" width="4.06" height="3.85" fill="#ff2000"/>
<rect x="365.67" y="218.60" width="4.06" height="3.85" fill="#ff2000"/>
<rect x="369.67" y="218.60" width="4.06" height="3.85" fill="#ff2d00"/>
<rect x="373.68" y="218.60" width="4.06" height="3.85" fill="#ff2000"/>
<rect x="377.68" y="218.60" width="4.06" height="3.85" fill="#ff0000"/>
<rect x="381.69" y="218.60" width="4.06" height="3.85" fill="#ff1300"/>
<rect x="385.69" y="218.60" width="4.06" height="3.85" fill="#ff2d00"/>
<rect x="317.60" y="222.40" width="4.06" height="3.85" fill="#ff4d00"/>
<rect x="321.61" y="222.40" width="4.06" height="3.85" fill="#ff4d00"/>
<rect x="325.61" y="222.40" width="4.06" height="3.85" fill="#ff9000"/>
<rect x="329.62" y="222.40" width="4.06" height="3.85" fill="#ff4000"/>
<rect x="333.62" y="222.40" width="4.06" height="3.85" fill="#ff5300"/>
<rect x="337.63" y="222.40" width="4.06" height="3.85" fill="#8cff00"/>
<rect x="341.63" y="222.40" width="4.06" height="3.85" fill="#fffa00"/>
<rect x="345.64" y="222.40" width="4.06" height="3.85" fill="#ff9000"/>
<rect x="349.64" y="222.40" width="4.06" height="3.85" fill="#9fff00"/>
<rect x="353.65" y="222.40" width="4.06" height="3.85" fill="#ff3300"/>
<rect x="357.66" y="222.40" width="4.06" height="3.85" fill="#ff2d00"/>
<rect x="361.66" y="222.40" width="4.06" height="3.85" fill="#ff2000"/>
<rect x="365.67" y="222.40" width="4.06" height="3.85" fill="#ff2000"/>
<rect x="369.67" y="222.40" width="4.06" height="3.85" fill="#ff3300"/>
<rect x="373.68" y="222.40" width="4.06" height="3.85" fill="#ff3300"/>
<rect x="377.68" y="222.40" width="4.06" height="3.85" fill="#ff1300"/>
<rect x="381.69" y="222.40" width="4.06" height="3.85" fill="#ff0000"/>
<rect x="385.69" y="222.40" width="4.06" height="3.85" fill="#ff2000"/>
<rect x="317.60" y="226.20" width="4.06" height="3.85" fill="#ff7300"/>
<rect x="321.61" y="226.20" width="4.06" height="3.85" fill="#ff6000"/>
<rect x="325.61" y="226.20" width="4.06" height="3.85" fill="#ff9000"/>
<rect x="329.62" y="226.20" width="4.06" height="3.85" fill="#ff5300"/>
<rect x="333.62" y="226.20" width="4.06" height="3.85" fill="#ff5300"/>
<rect x="337.63" y="226.20" width="4.06" height="3.85" fill="#1efa00"/>
<rect x="341.63" y="226.20" width="4.06" height="3.85" fill="#ebff00"/>
<rect x="345.64" y="226.20" width="4.06" height="3.85" fill="#ffb900"/>
<rect x="349.64" y="226.20" width="4.06" height="3.85" fill="#acff00"/>
<rect x="353.65" y="226.20" width="4.06" height="3.85" fill="#ff5300"/>
<rect x="357.66" y="226.20" width="4.06" height="3.85" fill="#ff4d00"/>
<rect x="361.66" y="226.20" width="4.06" height="3.85" fill="#ff3300"/>
<rect x="365.67" y="226.20" width="4.06" height="3.85" fill="#ff3300"/>
<rect x="369.67" y="226.20" width="4.06" height="3.85" fill="#ff3300"/>
<rect x="373.68" y="226.20" width="4.06" height="3.85" fill="#ff6000"/>
<rect x="377.68" y="226.20" width="4.06" height="3.85" fill="#ff2d00"/>
<rect x="381.69" y="226.20" width="4.06" height="3.85" fill="#ff2000"/>
<rect x="385.69" y="226.20" width="4.06" height="3.85" fill="#ff0000"/>
<path d="M317.60 161.60V230.00M317.60 161.60H389.70M321.61 161.60V230.00M317.60 165.40H389.70M325.61 161.60V230.00M317.60 169.20H389.70M329.62 161.60V230.00M317.60 173.00H389.70M333.62 161.60V230.00M317.60 176.80H389.70M337.63 161.60V230.00M317.60 180.60H389.70M341.63 161.60V230.00M317.60 184.40H389.70M345.64 161.60V230.00M317.60 188.20H389.70M349.64 161.60V230.00M317.60 192.00H389.70M353.65 161.60V230.00M317.60 195.80H389.70M357.66 161.60V230.00M317.60 199.60H389.70M361.66 161.60V230.00M317.60 203.40H389.70M365.67 161.60V230.00M317.60 207.20H389.70M369.67 161.60V230.00M317.60 211.00H389.70M373.68 161.60V230.00M317.60 214.80H389.70M377.68 161.60V230.00M317.60 218.60H389.70M381.69 161.60V230.00M317.60 222.40H389.70M385.69 161.60V230.00M317.60 226.20H389.70M389.70 161.60V230.00M317.60 230.00H389.70" stroke="#000" stroke-width="0.30" fill="none" stroke-linecap="square"/>
<rect x="317.60" y="161.60" width="72.10" height="68.40" fill="none" stroke="#000" stroke-width="0.5"/>
<text class="b s" transform="translate(316.10 164.44) scale(.0935 .1)" font-size="33.4" text-anchor="end">Frontal_Sup_L</text>
<text class="b s" transform="translate(316.10 168.24) scale(.0935 .1)" font-size="33.4" text-anchor="end">Frontal_Mid_L</text>
<text class="b s" transform="translate(316.10 172.04) scale(.0935 .1)" font-size="33.4" text-anchor="end">Frontal_Inf_Oper_L</text>
<text class="b s" transform="translate(316.10 175.84) scale(.0935 .1)" font-size="33.4" text-anchor="end">Frontal_Inf_Tri_L</text>
<text class="b s" transform="translate(316.10 179.64) scale(.0935 .1)" font-size="33.4" text-anchor="end">Frontal_Sup_Medial_L</text>
<text class="b s" transform="translate(316.10 183.44) scale(.0935 .1)" font-size="33.4" text-anchor="end">Parietal_Sup_L</text>
<text class="b s" transform="translate(316.10 187.24) scale(.0935 .1)" font-size="33.4" text-anchor="end">Parietal_Inf_L</text>
<text class="b s" transform="translate(316.10 191.04) scale(.0935 .1)" font-size="33.4" text-anchor="end">SupraMarginal_L</text>
<text class="b s" transform="translate(316.10 194.84) scale(.0935 .1)" font-size="33.4" text-anchor="end">Angular_L</text>
<text class="b s" transform="translate(316.10 198.64) scale(.0935 .1)" font-size="33.4" text-anchor="end">Frontal_Sup_R</text>
<text class="b s" transform="translate(316.10 202.44) scale(.0935 .1)" font-size="33.4" text-anchor="end">Frontal_Mid_R</text>
<text class="b s" transform="translate(316.10 206.24) scale(.0935 .1)" font-size="33.4" text-anchor="end">Frontal_Inf_Oper_R</text>
<text class="b s" transform="translate(316.10 210.04) scale(.0935 .1)" font-size="33.4" text-anchor="end">Frontal_Inf_Tri_R</text>
<text class="b s" transform="translate(316.10 213.84) scale(.0935 .1)" font-size="33.4" text-anchor="end">Frontal_Sup_Medial_R</text>
<text class="b s" transform="translate(316.10 217.64) scale(.0935 .1)" font-size="33.4" text-anchor="end">Parietal_Sup_R</text>
<text class="b s" transform="translate(316.10 221.44) scale(.0935 .1)" font-size="33.4" text-anchor="end">Parietal_Inf_R</text>
<text class="b s" transform="translate(316.10 225.24) scale(.0935 .1)" font-size="33.4" text-anchor="end">SupraMarginal_R</text>
<text class="b s" transform="translate(316.10 229.04) scale(.0935 .1)" font-size="33.4" text-anchor="end">Angular_R</text>
<g>
<text class="b s" transform="translate(321.39 160.70) rotate(-89.0) scale(.0935 .1)" font-size="34.3">Frontal_Sup_L</text>
<text class="b s" transform="translate(325.39 160.70) rotate(-89.0) scale(.0935 .1)" font-size="34.3">Frontal_Mid_L</text>
<text class="b s" transform="translate(329.40 160.70) rotate(-89.0) scale(.0935 .1)" font-size="34.3">Frontal_Inf_Oper_L</text>
<text class="b s" transform="translate(333.41 160.70) rotate(-89.0) scale(.0935 .1)" font-size="34.3">Frontal_Inf_Tri_L</text>
<text class="b s" transform="translate(337.41 160.70) rotate(-89.0) scale(.0935 .1)" font-size="34.3">Frontal_Sup_Medial_L</text>
<text class="b s" transform="translate(341.42 160.70) rotate(-89.0) scale(.0935 .1)" font-size="34.3">Parietal_Sup_L</text>
<text class="b s" transform="translate(345.42 160.70) rotate(-89.0) scale(.0935 .1)" font-size="34.3">Parietal_Inf_L</text>
<text class="b s" transform="translate(349.43 160.70) rotate(-89.0) scale(.0935 .1)" font-size="34.3">SupraMarginal_L</text>
<text class="b s" transform="translate(353.43 160.70) rotate(-89.0) scale(.0935 .1)" font-size="34.3">Angular_L</text>
<text class="b s" transform="translate(357.44 160.70) rotate(-89.0) scale(.0935 .1)" font-size="34.3">Frontal_Sup_R</text>
<text class="b s" transform="translate(361.44 160.70) rotate(-89.0) scale(.0935 .1)" font-size="34.3">Frontal_Mid_R</text>
<text class="b s" transform="translate(365.45 160.70) rotate(-89.0) scale(.0935 .1)" font-size="34.3">Frontal_Inf_Oper_R</text>
<text class="b s" transform="translate(369.46 160.70) rotate(-89.0) scale(.0935 .1)" font-size="34.3">Frontal_Inf_Tri_R</text>
<text class="b s" transform="translate(373.46 160.70) rotate(-89.0) scale(.0935 .1)" font-size="34.3">Frontal_Sup_Medial_R</text>
<text class="b s" transform="translate(377.47 160.70) rotate(-89.0) scale(.0935 .1)" font-size="34.3">Parietal_Sup_R</text>
<text class="b s" transform="translate(381.47 160.70) rotate(-89.0) scale(.0935 .1)" font-size="34.3">Parietal_Inf_R</text>
<text class="b s" transform="translate(385.48 160.70) rotate(-89.0) scale(.0935 .1)" font-size="34.3">SupraMarginal_R</text>
<text class="b s" transform="translate(389.48 160.70) rotate(-89.0) scale(.0935 .1)" font-size="34.3">Angular_R</text>
</g>
<rect x="394.80" y="161.60" width="5.80" height="68.40" fill="url(#cb)" stroke="#555" stroke-width="0.3"/>
<path d="M400.60 161.60h.9" stroke="#444" stroke-width="0.35"/>
<text transform="translate(402.70 163.00) scale(.1)" font-size="38" style="fill:#3a3a3a;stroke:#3a3a3a;stroke-width:.5px">1.0</text>
<path d="M400.60 178.70h.9" stroke="#444" stroke-width="0.35"/>
<text transform="translate(402.70 180.10) scale(.1)" font-size="38" style="fill:#3a3a3a;stroke:#3a3a3a;stroke-width:.5px">0.5</text>
<path d="M400.60 195.80h.9" stroke="#444" stroke-width="0.35"/>
<text transform="translate(402.70 197.20) scale(.1)" font-size="38" style="fill:#3a3a3a;stroke:#3a3a3a;stroke-width:.5px">0</text>
<path d="M400.60 212.90h.9" stroke="#444" stroke-width="0.35"/>
<text transform="translate(401.50 214.30) scale(.1)" font-size="38" style="fill:#3a3a3a;stroke:#3a3a3a;stroke-width:.5px">-0.5</text>
<path d="M400.60 230.00h.9" stroke="#444" stroke-width="0.35"/>
<text transform="translate(401.50 231.40) scale(.1)" font-size="38" style="fill:#3a3a3a;stroke:#3a3a3a;stroke-width:.5px">-1.0</text>
<text class="b" transform="translate(354.80 240.30) scale(.1)" font-size="53" text-anchor="middle">HIE</text>
</g>
<g>
<rect x="447.30" y="160.40" width="4.35" height="3.92" fill="#ff0000"/>
<rect x="451.60" y="160.40" width="4.35" height="3.92" fill="#ff1300"/>
<rect x="455.90" y="160.40" width="4.35" height="3.92" fill="#ff3300"/>
<rect x="460.20" y="160.40" width="4.35" height="3.92" fill="#ff3300"/>
<rect x="464.50" y="160.40" width="4.35" height="3.92" fill="#ff2000"/>
<rect x="468.80" y="160.40" width="4.35" height="3.92" fill="#ff4000"/>
<rect x="473.10" y="160.40" width="4.35" height="3.92" fill="#ff4d00"/>
<rect x="477.40" y="160.40" width="4.35" height="3.92" fill="#ff4000"/>
<rect x="481.70" y="160.40" width="4.35" height="3.92" fill="#ff5300"/>
<rect x="486.00" y="160.40" width="4.35" height="3.92" fill="#ff2000"/>
<rect x="490.30" y="160.40" width="4.35" height="3.92" fill="#ff2000"/>
<rect x="494.60" y="160.40" width="4.35" height="3.92" fill="#ff3300"/>
<rect x="498.90" y="160.40" width="4.35" height="3.92" fill="#ff3300"/>
<rect x="503.20" y="160.40" width="4.35" height="3.92" fill="#ff4000"/>
<rect x="507.50" y="160.40" width="4.35" height="3.92" fill="#ff6000"/>
<rect x="511.80" y="160.40" width="4.35" height="3.92" fill="#ff6000"/>
<rect x="516.10" y="160.40" width="4.35" height="3.92" fill="#ff6000"/>
<rect x="520.40" y="160.40" width="4.35" height="3.92" fill="#ff5300"/>
<rect x="447.30" y="164.27" width="4.35" height="3.92" fill="#ff1300"/>
<rect x="451.60" y="164.27" width="4.35" height="3.92" fill="#ff0000"/>
<rect x="455.90" y="164.27" width="4.35" height="3.92" fill="#ff3300"/>
<rect x="460.20" y="164.27" width="4.35" height="3.92" fill="#ff3300"/>
<rect x="464.50" y="164.27" width="4.35" height="3.92" fill="#ff2d00"/>
<rect x="468.80" y="164.27" width="4.35" height="3.92" fill="#ff4000"/>
<rect x="473.10" y="164.27" width="4.35" height="3.92" fill="#ff4d00"/>
<rect x="477.40" y="164.27" width="4.35" height="3.92" fill="#ff4000"/>
<rect x="481.70" y="164.27" width="4.35" height="3.92" fill="#ff5300"/>
<rect x="486.00" y="164.27" width="4.35" height="3.92" fill="#ff2d00"/>
<rect x="490.30" y="164.27" width="4.35" height="3.92" fill="#ff1300"/>
<rect x="494.60" y="164.27" width="4.35" height="3.92" fill="#ff2000"/>
<rect x="498.90" y="164.27" width="4.35" height="3.92" fill="#ff3300"/>
<rect x="503.20" y="164.27" width="4.35" height="3.92" fill="#ff2d00"/>
<rect x="507.50" y="164.27" width="4.35" height="3.92" fill="#ff6000"/>
<rect x="511.80" y="164.27" width="4.35" height="3.92" fill="#ff7300"/>
<rect x="516.10" y="164.27" width="4.35" height="3.92" fill="#ff5300"/>
<rect x="520.40" y="164.27" width="4.35" height="3.92" fill="#ff6000"/>
<rect x="447.30" y="168.13" width="4.35" height="3.92" fill="#ff3300"/>
<rect x="451.60" y="168.13" width="4.35" height="3.92" fill="#ff3300"/>
<rect x="455.90" y="168.13" width="4.35" height="3.92" fill="#ff0000"/>
<rect x="460.20" y="168.13" width="4.35" height="3.92" fill="#ff3300"/>
<rect x="464.50" y="168.13" width="4.35" height="3.92" fill="#ff4000"/>
<rect x="468.80" y="168.13" width="4.35" height="3.92" fill="#ff6000"/>
<rect x="473.10" y="168.13" width="4.35" height="3.92" fill="#ff6000"/>
<rect x="477.40" y="168.13" width="4.35" height="3.92" fill="#ff4d00"/>
<rect x="481.70" y="168.13" width="4.35" height="3.92" fill="#ff6000"/>
<rect x="486.00" y="168.13" width="4.35" height="3.92" fill="#ff4000"/>
<rect x="490.30" y="168.13" width="4.35" height="3.92" fill="#ff3300"/>
<rect x="494.60" y="168.13" width="4.35" height="3.92" fill="#ff2d00"/>
<rect x="498.90" y="168.13" width="4.35" height="3.92" fill="#ff3300"/>
<rect x="503.20" y="168.13" width="4.35" height="3.92" fill="#ff4000"/>
<rect x="507.50" y="168.13" width="4.35" height="3.92" fill="#ff6000"/>
<rect x="511.80" y="168.13" width="4.35" height="3.92" fill="#ff7300"/>
<rect x="516.10" y="168.13" width="4.35" height="3.92" fill="#ff6000"/>
<rect x="520.40" y="168.13" width="4.35" height="3.92" fill="#ff6000"/>
<rect x="447.30" y="172.00" width="4.35" height="3.92" fill="#ff4000"/>
<rect x="451.60" y="172.00" width="4.35" height="3.92" fill="#ff4000"/>
<rect x="455.90" y="172.00" width="4.35" height="3.92" fill="#ff4000"/>
<rect x="460.20" y="172.00" width="4.35" height="3.92" fill="#ff0000"/>
<rect x="464.50" y="172.00" width="4.35" height="3.92" fill="#ff4000"/>
<rect x="468.80" y="172.00" width="4.35" height="3.92" fill="#ff8000"/>
<rect x="473.10" y="172.00" width="4.35" height="3.92" fill="#ff8000"/>
<rect x="477.40" y="172.00" width="4.35" height="3.92" fill="#ff4000"/>
<rect x="481.70" y="172.00" width="4.35" height="3.92" fill="#ff7300"/>
<rect x="486.00" y="172.00" width="4.35" height="3.92" fill="#ff5300"/>
<rect x="490.30" y="172.00" width="4.35" height="3.92" fill="#ff4000"/>
<rect x="494.60" y="172.00" width="4.35" height="3.92" fill="#ff4000"/>
<rect x="498.90" y="172.00" width="4.35" height="3.92" fill="#ff2000"/>
<rect x="503.20" y="172.00" width="4.35" height="3.92" fill="#ff4d00"/>
<rect x="507.50" y="172.00" width="4.35" height="3.92" fill="#ff8000"/>
<rect x="511.80" y="172.00" width="4.35" height="3.92" fill="#ff9000"/>
<rect x="516.10" y="172.00" width="4.35" height="3.92" fill="#ff8000"/>
<rect x="520.40" y="172.00" width="4.35" height="3.92" fill="#ff7300"/>
<rect x="447.30" y="175.87" width="4.35" height="3.92" fill="#ff4000"/>
<rect x="451.60" y="175.87" width="4.35" height="3.92" fill="#ff5300"/>
<rect x="455.90" y="175.87" width="4.35" height="3.92" fill="#ff6000"/>
<rect x="460.20" y="175.87" width="4.35" height="3.92" fill="#ff5300"/>
<rect x="464.50" y="175.87" width="4.35" height="3.92" fill="#ff0000"/>
<rect x="468.80" y="175.87" width="4.35" height="3.92" fill="#ffc100"/>
<rect x="473.10" y="175.87" width="4.35" height="3.92" fill="#ffd100"/>
<rect x="477.40" y="175.87" width="4.35" height="3.92" fill="#ff8000"/>
<rect x="481.70" y="175.87" width="4.35" height="3.92" fill="#ffd100"/>
<rect x="486.00" y="175.87" width="4.35" height="3.92" fill="#ff8000"/>
<rect x="490.30" y="175.87" width="4.35" height="3.92" fill="#ff6000"/>
<rect x="494.60" y="175.87" width="4.35" height="3.92" fill="#ff8000"/>
<rect x="498.90" y="175.87" width="4.35" height="3.92" fill="#ff8000"/>
<rect x="503.20" y="175.87" width="4.35" height="3.92" fill="#ff1300"/>
<rect x="507.50" y="175.87" width="4.35" height="3.92" fill="#f7fc00"/>
<rect x="511.80" y="175.87" width="4.35" height="3.92" fill="#f3fd00"/>
<rect x="516.10" y="175.87" width="4.35" height="3.92" fill="#ffe200"/>
<rect x="520.40" y="175.87" width="4.35" height="3.92" fill="#ffb900"/>
<rect x="447.30" y="179.73" width="4.35" height="3.92" fill="#ff4000"/>
<rect x="451.60" y="179.73" width="4.35" height="3.92" fill="#ff4d00"/>
<rect x="455.90" y="179.73" width="4.35" height="3.92" fill="#ff6000"/>
<rect x="460.20" y="179.73" width="4.35" height="3.92" fill="#ff7300"/>
<rect x="464.50" y="179.73" width="4.35" height="3.92" fill="#ffc100"/>
<rect x="468.80" y="179.73" width="4.35" height="3.92" fill="#ff0000"/>
<rect x="473.10" y="179.73" width="4.35" height="3.92" fill="#ff2000"/>
<rect x="477.40" y="179.73" width="4.35" height="3.92" fill="#ff5300"/>
<rect x="481.70" y="179.73" width="4.35" height="3.92" fill="#ff4000"/>
<rect x="486.00" y="179.73" width="4.35" height="3.92" fill="#ff4000"/>
<rect x="490.30" y="179.73" width="4.35" height="3.92" fill="#ff4d00"/>
<rect x="494.60" y="179.73" width="4.35" height="3.92" fill="#ff5300"/>
<rect x="498.90" y="179.73" width="4.35" height="3.92" fill="#ff6000"/>
<rect x="503.20" y="179.73" width="4.35" height="3.92" fill="#ffd100"/>
<rect x="507.50" y="179.73" width="4.35" height="3.92" fill="#ff2000"/>
<rect x="511.80" y="179.73" width="4.35" height="3.92" fill="#ff4000"/>
<rect x="516.10" y="179.73" width="4.35" height="3.92" fill="#ff6000"/>
<rect x="520.40" y="179.73" width="4.35" height="3.92" fill="#ff4000"/>
<rect x="447.30" y="183.60" width="4.35" height="3.92" fill="#ff4000"/>
<rect x="451.60" y="183.60" width="4.35" height="3.92" fill="#ff5300"/>
<rect x="455.90" y="183.60" width="4.35" height="3.92" fill="#ff6000"/>
<rect x="460.20" y="183.60" width="4.35" height="3.92" fill="#ff7300"/>
<rect x="464.50" y="183.60" width="4.35" height="3.92" fill="#ffd100"/>
<rect x="468.80" y="183.60" width="4.35" height="3.92" fill="#ff2000"/>
<rect x="473.10" y="183.60" width="4.35" height="3.92" fill="#ff0000"/>
<rect x="477.40" y="183.60" width="4.35" height="3.92" fill="#ff4000"/>
<rect x="481.70" y="183.60" width="4.35" height="3.92" fill="#ff6000"/>
<rect x="486.00" y="183.60" width="4.35" height="3.92" fill="#ff4d00"/>
<rect x="490.30" y="183.60" width="4.35" height="3.92" fill="#ff4d00"/>
<rect x="494.60" y="183.60" width="4.35" height="3.92" fill="#ff5300"/>
<rect x="498.90" y="183.60" width="4.35" height="3.92" fill="#ff6000"/>
<rect x="503.20" y="183.60" width="4.35" height="3.92" fill="#fffa00"/>
<rect x="507.50" y="183.60" width="4.35" height="3.92" fill="#ff4000"/>
<rect x="511.80" y="183.60" width="4.35" height="3.92" fill="#ff2d00"/>
<rect x="516.10" y="183.60" width="4.35" height="3.92" fill="#ff6000"/>
<rect x="520.40" y="183.60" width="4.35" height="3.92" fill="#ff5300"/>
<rect x="447.30" y="187.47" width="4.35" height="3.92" fill="#ff4000"/>
<rect x="451.60" y="187.47" width="4.35" height="3.92" fill="#ff4000"/>
<rect x="455.90" y="187.47" width="4.35" height="3.92" fill="#ff4d00"/>
<rect x="460.20" y="187.47" width="4.35" height="3.92" fill="#ff4000"/>
<rect x="464.50" y="187.47" width="4.35" height="3.92" fill="#ff8000"/>
<rect x="468.80" y="187.47" width="4.35" height="3.92" fill="#ff5300"/>
<rect x="473.10" y="187.47" width="4.35" height="3.92" fill="#ff4000"/>
<rect x="477.40" y="187.47" width="4.35" height="3.92" fill="#ff0000"/>
<rect x="481.70" y="187.47" width="4.35" height="3.92" fill="#ff4000"/>
<rect x="486.00" y="187.47" width="4.35" height="3.92" fill="#ff4000"/>
<rect x="490.30" y="187.47" width="4.35" height="3.92" fill="#ff4000"/>
<rect x="494.60" y="187.47" width="4.35" height="3.92" fill="#ff4000"/>
<rect x="498.90" y="187.47" width="4.35" height="3.92" fill="#ff4000"/>
<rect x="503.20" y="187.47" width="4.35" height="3.92" fill="#ff9000"/>
<rect x="507.50" y="187.47" width="4.35" height="3.92" fill="#ff7300"/>
<rect x="511.80" y="187.47" width="4.35" height="3.92" fill="#ff6000"/>
<rect x="516.10" y="187.47" width="4.35" height="3.92" fill="#ff2d00"/>
<rect x="520.40" y="187.47" width="4.35" height="3.92" fill="#ff4000"/>
<rect x="447.30" y="191.33" width="4.35" height="3.92" fill="#ff4d00"/>
<rect x="451.60" y="191.33" width="4.35" height="3.92" fill="#ff5300"/>
<rect x="455.90" y="191.33" width="4.35" height="3.92" fill="#ff6000"/>
<rect x="460.20" y="191.33" width="4.35" height="3.92" fill="#ff7300"/>
<rect x="464.50" y="191.33" width="4.35" height="3.92" fill="#ffd100"/>
<rect x="468.80" y="191.33" width="4.35" height="3.92" fill="#ff4000"/>
<rect x="473.10" y="191.33" width="4.35" height="3.92" fill="#ff5300"/>
<rect x="477.40" y="191.33" width="4.35" height="3.92" fill="#ff4000"/>
<rect x="481.70" y="191.33" width="4.35" height="3.92" fill="#ff0000"/>
<rect x="486.00" y="191.33" width="4.35" height="3.92" fill="#ff4000"/>
<rect x="490.30" y="191.33" width="4.35" height="3.92" fill="#ff4d00"/>
<rect x="494.60" y="191.33" width="4.35" height="3.92" fill="#ff5300"/>
<rect x="498.90" y="191.33" width="4.35" height="3.92" fill="#ff6000"/>
<rect x="503.20" y="191.33" width="4.35" height="3.92" fill="#fffa00"/>
<rect x="507.50" y="191.33" width="4.35" height="3.92" fill="#ff6000"/>
<rect x="511.80" y="191.33" width="4.35" height="3.92" fill="#ff7300"/>
<rect x="516.10" y="191.33" width="4.35" height="3.92" fill="#ff4d00"/>
<rect x="520.40" y="191.33" width="4.35" height="3.92" fill="#ff2d00"/>
<rect x="447.30" y="195.20" width="4.35" height="3.92" fill="#ff2000"/>
<rect x="451.60" y="195.20" width="4.35" height="3.92" fill="#ff2d00"/>
<rect x="455.90" y="195.20" width="4.35" height="3.92" fill="#ff4000"/>
<rect x="460.20" y="195.20" width="4.35" height="3.92" fill="#ff5300"/>
<rect x="464.50" y="195.20" width="4.35" height="3.92" fill="#ff8000"/>
<rect x="468.80" y="195.20" width="4.35" height="3.92" fill="#ff4000"/>
<rect x="473.10" y="195.20" width="4.35" height="3.92" fill="#ff4d00"/>
<rect x="477.40" y="195.20" width="4.35" height="3.92" fill="#ff4000"/>
<rect x="481.70" y="195.20" width="4.35" height="3.92" fill="#ff4000"/>
<rect x="486.00" y="195.20" width="4.35" height="3.92" fill="#ff0000"/>
<rect x="490.30" y="195.20" width="4.35" height="3.92" fill="#ff2000"/>
<rect x="494.60" y="195.20" width="4.35" height="3.92" fill="#ff4000"/>
<rect x="498.90" y="195.20" width="4.35" height="3.92" fill="#ff4d00"/>
<rect x="503.20" y="195.20" width="4.35" height="3.92" fill="#ff5300"/>
<rect x="507.50" y="195.20" width="4.35" height="3.92" fill="#ff6000"/>
<rect x="511.80" y="195.20" width="4.35" height="3.92" fill="#ff8000"/>
<rect x="516.10" y="195.20" width="4.35" height="3.92" fill="#ff6000"/>
<rect x="520.40" y="195.20" width="4.35" height="3.92" fill="#ff6000"/>
<rect x="447.30" y="199.07" width="4.35" height="3.92" fill="#ff2000"/>
<rect x="451.60" y="199.07" width="4.35" height="3.92" fill="#ff1300"/>
<rect x="455.90" y="199.07" width="4.35" height="3.92" fill="#ff3300"/>
<rect x="460.20" y="199.07" width="4.35" height="3.92" fill="#ff4000"/>
<rect x="464.50" y="199.07" width="4.35" height="3.92" fill="#ff6000"/>
<rect x="468.80" y="199.07" width="4.35" height="3.92" fill="#ff4d00"/>
<rect x="473.10" y="199.07" width="4.35" height="3.92" fill="#ff4d00"/>
<rect x="477.40" y="199.07" width="4.35" height="3.92" fill="#ff4000"/>
<rect x="481.70" y="199.07" width="4.35" height="3.92" fill="#ff4d00"/>
<rect x="486.00" y="199.07" width="4.35" height="3.92" fill="#ff2000"/>
<rect x="490.30" y="199.07" width="4.35" height="3.92" fill="#ff0000"/>
<rect x="494.60" y="199.07" width="4.35" height="3.92" fill="#ff2d00"/>
<rect x="498.90" y="199.07" width="4.35" height="3.92" fill="#ff4000"/>
<rect x="503.20" y="199.07" width="4.35" height="3.92" fill="#ff4000"/>
<rect x="507.50" y="199.07" width="4.35" height="3.92" fill="#ff7300"/>
<rect x="511.80" y="199.07" width="4.35" height="3.92" fill="#ff8000"/>
<rect x="516.10" y="199.07" width="4.35" height="3.92" fill="#ff6000"/>
<rect x="520.40" y="199.07" width="4.35" height="3.92" fill="#ff6000"/>
<rect x="447.30" y="202.93" width="4.35" height="3.92" fill="#ff3300"/>
<rect x="451.60" y="202.93" width="4.35" height="3.92" fill="#ff2000"/>
<rect x="455.90" y="202.93" width="4.35" height="3.92" fill="#ff2d00"/>
<rect x="460.20" y="202.93" width="4.35" height="3.92" fill="#ff4000"/>
<rect x="464.50" y="202.93" width="4.35" height="3.92" fill="#ff8000"/>
<rect x="468.80" y="202.93" width="4.35" height="3.92" fill="#ff5300"/>
<rect x="473.10" y="202.93" width="4.35" height="3.92" fill="#ff5300"/>
<rect x="477.40" y="202.93" width="4.35" height="3.92" fill="#ff4000"/>
<rect x="481.70" y="202.93" width="4.35" height="3.92" fill="#ff5300"/>
<rect x="486.00" y="202.93" width="4.35" height="3.92" fill="#ff4000"/>
<rect x="490.30" y="202.93" width="4.35" height="3.92" fill="#ff2d00"/>
<rect x="494.60" y="202.93" width="4.35" height="3.92" fill="#ff0000"/>
<rect x="498.90" y="202.93" width="4.35" height="3.92" fill="#ff2d00"/>
<rect x="503.20" y="202.93" width="4.35" height="3.92" fill="#ff4000"/>
<rect x="507.50" y="202.93" width="4.35" height="3.92" fill="#ff8000"/>
<rect x="511.80" y="202.93" width="4.35" height="3.92" fill="#ff8000"/>
<rect x="516.10" y="202.93" width="4.35" height="3.92" fill="#ff7300"/>
<rect x="520.40" y="202.93" width="4.35" height="3.92" fill="#ff6000"/>
<rect x="447.30" y="206.80" width="4.35" height="3.92" fill="#ff3300"/>
<rect x="451.60" y="206.80" width="4.35" height="3.92" fill="#ff3300"/>
<rect x="455.90" y="206.80" width="4.35" height="3.92" fill="#ff3300"/>
<rect x="460.20" y="206.80" width="4.35" height="3.92" fill="#ff2000"/>
<rect x="464.50" y="206.80" width="4.35" height="3.92" fill="#ff8000"/>
<rect x="468.80" y="206.80" width="4.35" height="3.92" fill="#ff6000"/>
<rect x="473.10" y="206.80" width="4.35" height="3.92" fill="#ff6000"/>
<rect x="477.40" y="206.80" width="4.35" height="3.92" fill="#ff4000"/>
<rect x="481.70" y="206.80" width="4.35" height="3.92" fill="#ff6000"/>
<rect x="486.00" y="206.80" width="4.35" height="3.92" fill="#ff4d00"/>
<rect x="490.30" y="206.80" width="4.35" height="3.92" fill="#ff4000"/>
<rect x="494.60" y="206.80" width="4.35" height="3.92" fill="#ff2d00"/>
<rect x="498.90" y="206.80" width="4.35" height="3.92" fill="#ff0000"/>
<rect x="503.20" y="206.80" width="4.35" height="3.92" fill="#ff2d00"/>
<rect x="507.50" y="206.80" width="4.35" height="3.92" fill="#ff6000"/>
<rect x="511.80" y="206.80" width="4.35" height="3.92" fill="#ff6000"/>
<rect x="516.10" y="206.80" width="4.35" height="3.92" fill="#ff5300"/>
<rect x="520.40" y="206.80" width="4.35" height="3.92" fill="#ff5300"/>
<rect x="447.30" y="210.67" width="4.35" height="3.92" fill="#ff4000"/>
<rect x="451.60" y="210.67" width="4.35" height="3.92" fill="#ff2d00"/>
<rect x="455.90" y="210.67" width="4.35" height="3.92" fill="#ff4000"/>
<rect x="460.20" y="210.67" width="4.35" height="3.92" fill="#ff4d00"/>
<rect x="464.50" y="210.67" width="4.35" height="3.92" fill="#ff1300"/>
<rect x="468.80" y="210.67" width="4.35" height="3.92" fill="#ffd100"/>
<rect x="473.10" y="210.67" width="4.35" height="3.92" fill="#fffa00"/>
<rect x="477.40" y="210.67" width="4.35" height="3.92" fill="#ff9000"/>
<rect x="481.70" y="210.67" width="4.35" height="3.92" fill="#fffa00"/>
<rect x="486.00" y="210.67" width="4.35" height="3.92" fill="#ff5300"/>
<rect x="490.30" y="210.67" width="4.35" height="3.92" fill="#ff4000"/>
<rect x="494.60" y="210.67" width="4.35" height="3.92" fill="#ff4000"/>
<rect x="498.90" y="210.67" width="4.35" height="3.92" fill="#ff2d00"/>
<rect x="503.20" y="210.67" width="4.35" height="3.92" fill="#ff0000"/>
<rect x="507.50" y="210.67" width="4.35" height="3.92" fill="#f7fc00"/>
<rect x="511.80" y="210.67" width="4.35" height="3.92" fill="#f3fd00"/>
<rect x="516.10" y="210.67" width="4.35" height="3.92" fill="#fffa00"/>
<rect x="520.40" y="210.67" width="4.35" height="3.92" fill="#ffd100"/>
<rect x="447.30" y="214.53" width="4.35" height="3.92" fill="#ff6000"/>
<rect x="451.60" y="214.53" width="4.35" height="3.92" fill="#ff6000"/>
<rect x="455.90" y="214.53" width="4.35" height="3.92" fill="#ff6000"/>
<rect x="460.20" y="214.53" width="4.35" height="3.92" fill="#ff8000"/>
<rect x="464.50" y="214.53" width="4.35" height="3.92" fill="#f7fc00"/>
<rect x="468.80" y="214.53" width="4.35" height="3.92" fill="#ff2000"/>
<rect x="473.10" y="214.53" width="4.35" height="3.92" fill="#ff4000"/>
<rect x="477.40" y="214.53" width="4.35" height="3.92" fill="#ff7300"/>
<rect x="481.70" y="214.53" width="4.35" height="3.92" fill="#ff6000"/>
<rect x="486.00" y="214.53" width="4.35" height="3.92" fill="#ff6000"/>
<rect x="490.30" y="214.53" width="4.35" height="3.92" fill="#ff7300"/>
<rect x="494.60" y="214.53" width="4.35" height="3.92" fill="#ff8000"/>
<rect x="498.90" y="214.53" width="4.35" height="3.92" fill="#ff6000"/>
<rect x="503.20" y="214.53" width="4.35" height="3.92" fill="#f7fc00"/>
<rect x="507.50" y="214.53" width="4.35" height="3.92" fill="#ff0000"/>
<rect x="511.80" y="214.53" width="4.35" height="3.92" fill="#ff2d00"/>
<rect x="516.10" y="214.53" width="4.35" height="3.92" fill="#ff6000"/>
<rect x="520.40" y="214.53" width="4.35" height="3.92" fill="#ff5300"/>
<rect x="447.30" y="218.40" width="4.35" height="3.92" fill="#ff6000"/>
<rect x="451.60" y="218.40" width="4.35" height="3.92" fill="#ff7300"/>
<rect x="455.90" y="218.40" width="4.35" height="3.92" fill="#ff7300"/>
<rect x="460.20" y="218.40" width="4.35" height="3.92" fill="#ff9000"/>
<rect x="464.50" y="218.40" width="4.35" height="3.92" fill="#f3fd00"/>
<rect x="468.80" y="218.40" width="4.35" height="3.92" fill="#ff4000"/>
<rect x="473.10" y="218.40" width="4.35" height="3.92" fill="#ff2d00"/>
<rect x="477.40" y="218.40" width="4.35" height="3.92" fill="#ff6000"/>
<rect x="481.70" y="218.40" width="4.35" height="3.92" fill="#ff7300"/>
<rect x="486.00" y="218.40" width="4.35" height="3.92" fill="#ff8000"/>
<rect x="490.30" y="218.40" width="4.35" height="3.92" fill="#ff8000"/>
<rect x="494.60" y="218.40" width="4.35" height="3.92" fill="#ff8000"/>
<rect x="498.90" y="218.40" width="4.35" height="3.92" fill="#ff6000"/>
<rect x="503.20" y="218.40" width="4.35" height="3.92" fill="#f3fd00"/>
<rect x="507.50" y="218.40" width="4.35" height="3.92" fill="#ff2d00"/>
<rect x="511.80" y="218.40" width="4.35" height="3.92" fill="#ff0000"/>
<rect x="516.10" y="218.40" width="4.35" height="3.92" fill="#ff4000"/>
<rect x="520.40" y="218.40" width="4.35" height="3.92" fill="#ff6000"/>
<rect x="447.30" y="222.27" width="4.35" height="3.92" fill="#ff6000"/>
<rect x="451.60" y="222.27" width="4.35" height="3.92" fill="#ff5300"/>
<rect x="455.90" y="222.27" width="4.35" height="3.92" fill="#ff6000"/>
<rect x="460.20" y="222.27" width="4.35" height="3.92" fill="#ff8000"/>
<rect x="464.50" y="222.27" width="4.35" height="3.92" fill="#ffe200"/>
<rect x="468.80" y="222.27" width="4.35" height="3.92" fill="#ff6000"/>
<rect x="473.10" y="222.27" width="4.35" height="3.92" fill="#ff6000"/>
<rect x="477.40" y="222.27" width="4.35" height="3.92" fill="#ff2d00"/>
<rect x="481.70" y="222.27" width="4.35" height="3.92" fill="#ff4d00"/>
<rect x="486.00" y="222.27" width="4.35" height="3.92" fill="#ff6000"/>
<rect x="490.30" y="222.27" width="4.35" height="3.92" fill="#ff6000"/>
<rect x="494.60" y="222.27" width="4.35" height="3.92" fill="#ff7300"/>
<rect x="498.90" y="222.27" width="4.35" height="3.92" fill="#ff5300"/>
<rect x="503.20" y="222.27" width="4.35" height="3.92" fill="#fffa00"/>
<rect x="507.50" y="222.27" width="4.35" height="3.92" fill="#ff6000"/>
<rect x="511.80" y="222.27" width="4.35" height="3.92" fill="#ff4000"/>
<rect x="516.10" y="222.27" width="4.35" height="3.92" fill="#ff0000"/>
<rect x="520.40" y="222.27" width="4.35" height="3.92" fill="#ff4000"/>
<rect x="447.30" y="226.13" width="4.35" height="3.92" fill="#ff5300"/>
<rect x="451.60" y="226.13" width="4.35" height="3.92" fill="#ff6000"/>
<rect x="455.90" y="226.13" width="4.35" height="3.92" fill="#ff6000"/>
<rect x="460.20" y="226.13" width="4.35" height="3.92" fill="#ff7300"/>
<rect x="464.50" y="226.13" width="4.35" height="3.92" fill="#ffb900"/>
<rect x="468.80" y="226.13" width="4.35" height="3.92" fill="#ff4000"/>
<rect x="473.10" y="226.13" width="4.35" height="3.92" fill="#ff5300"/>
<rect x="477.40" y="226.13" width="4.35" height="3.92" fill="#ff4000"/>
<rect x="481.70" y="226.13" width="4.35" height="3.92" fill="#ff2d00"/>
<rect x="486.00" y="226.13" width="4.35" height="3.92" fill="#ff6000"/>
<rect x="490.30" y="226.13" width="4.35" height="3.92" fill="#ff6000"/>
<rect x="494.60" y="226.13" width="4.35" height="3.92" fill="#ff6000"/>
<rect x="498.90" y="226.13" width="4.35" height="3.92" fill="#ff5300"/>
<rect x="503.20" y="226.13" width="4.35" height="3.92" fill="#ffd100"/>
<rect x="507.50" y="226.13" width="4.35" height="3.92" fill="#ff5300"/>
<rect x="511.80" y="226.13" width="4.35" height="3.92" fill="#ff6000"/>
<rect x="516.10" y="226.13" width="4.35" height="3.92" fill="#ff4000"/>
<rect x="520.40" y="226.13" width="4.35" height="3.92" fill="#ff0000"/>
<path d="M447.30 160.40V230.00M447.30 160.40H524.70M451.60 160.40V230.00M447.30 164.27H524.70M455.90 160.40V230.00M447.30 168.13H524.70M460.20 160.40V230.00M447.30 172.00H524.70M464.50 160.40V230.00M447.30 175.87H524.70M468.80 160.40V230.00M447.30 179.73H524.70M473.10 160.40V230.00M447.30 183.60H524.70M477.40 160.40V230.00M447.30 187.47H524.70M481.70 160.40V230.00M447.30 191.33H524.70M486.00 160.40V230.00M447.30 195.20H524.70M490.30 160.40V230.00M447.30 199.07H524.70M494.60 160.40V230.00M447.30 202.93H524.70M498.90 160.40V230.00M447.30 206.80H524.70M503.20 160.40V230.00M447.30 210.67H524.70M507.50 160.40V230.00M447.30 214.53H524.70M511.80 160.40V230.00M447.30 218.40H524.70M516.10 160.40V230.00M447.30 222.27H524.70M520.40 160.40V230.00M447.30 226.13H524.70M524.70 160.40V230.00M447.30 230.00H524.70" stroke="#000" stroke-width="0.30" fill="none" stroke-linecap="square"/>
<rect x="447.30" y="160.40" width="77.40" height="69.60" fill="none" stroke="#000" stroke-width="0.5"/>
<text class="b s" transform="translate(445.80 163.27) scale(.0935 .1)" font-size="33.4" text-anchor="end">Frontal_Sup_L</text>
<text class="b s" transform="translate(445.80 167.14) scale(.0935 .1)" font-size="33.4" text-anchor="end">Frontal_Mid_L</text>
<text class="b s" transform="translate(445.80 171.00) scale(.0935 .1)" font-size="33.4" text-anchor="end">Frontal_Inf_Oper_L</text>
<text class="b s" transform="translate(445.80 174.87) scale(.0935 .1)" font-size="33.4" text-anchor="end">Frontal_Inf_Tri_L</text>
<text class="b s" transform="translate(445.80 178.74) scale(.0935 .1)" font-size="33.4" text-anchor="end">Frontal_Sup_Medial_L</text>
<text class="b s" transform="translate(445.80 182.60) scale(.0935 .1)" font-size="33.4" text-anchor="end">Parietal_Sup_L</text>
<text class="b s" transform="translate(445.80 186.47) scale(.0935 .1)" font-size="33.4" text-anchor="end">Parietal_Inf_L</text>
<text class="b s" transform="translate(445.80 190.34) scale(.0935 .1)" font-size="33.4" text-anchor="end">SupraMarginal_L</text>
<text class="b s" transform="translate(445.80 194.20) scale(.0935 .1)" font-size="33.4" text-anchor="end">Angular_L</text>
<text class="b s" transform="translate(445.80 198.07) scale(.0935 .1)" font-size="33.4" text-anchor="end">Frontal_Sup_R</text>
<text class="b s" transform="translate(445.80 201.94) scale(.0935 .1)" font-size="33.4" text-anchor="end">Frontal_Mid_R</text>
<text class="b s" transform="translate(445.80 205.80) scale(.0935 .1)" font-size="33.4" text-anchor="end">Frontal_Inf_Oper_R</text>
<text class="b s" transform="translate(445.80 209.67) scale(.0935 .1)" font-size="33.4" text-anchor="end">Frontal_Inf_Tri_R</text>
<text class="b s" transform="translate(445.80 213.54) scale(.0935 .1)" font-size="33.4" text-anchor="end">Frontal_Sup_Medial_R</text>
<text class="b s" transform="translate(445.80 217.40) scale(.0935 .1)" font-size="33.4" text-anchor="end">Parietal_Sup_R</text>
<text class="b s" transform="translate(445.80 221.27) scale(.0935 .1)" font-size="33.4" text-anchor="end">Parietal_Inf_R</text>
<text class="b s" transform="translate(445.80 225.14) scale(.0935 .1)" font-size="33.4" text-anchor="end">SupraMarginal_R</text>
<text class="b s" transform="translate(445.80 229.00) scale(.0935 .1)" font-size="33.4" text-anchor="end">Angular_R</text>
<g>
<text class="b s" transform="translate(451.24 158.60) rotate(-89.0) scale(.0935 .1)" font-size="34.3">Frontal_Sup_L</text>
<text class="b s" transform="translate(455.54 158.60) rotate(-89.0) scale(.0935 .1)" font-size="34.3">Frontal_Mid_L</text>
<text class="b s" transform="translate(459.84 158.60) rotate(-89.0) scale(.0935 .1)" font-size="34.3">Frontal_Inf_Oper_L</text>
<text class="b s" transform="translate(464.14 158.60) rotate(-89.0) scale(.0935 .1)" font-size="34.3">Frontal_Inf_Tri_L</text>
<text class="b s" transform="translate(468.44 158.60) rotate(-89.0) scale(.0935 .1)" font-size="34.3">Frontal_Sup_Medial_L</text>
<text class="b s" transform="translate(472.74 158.60) rotate(-89.0) scale(.0935 .1)" font-size="34.3">Parietal_Sup_L</text>
<text class="b s" transform="translate(477.04 158.60) rotate(-89.0) scale(.0935 .1)" font-size="34.3">Parietal_Inf_L</text>
<text class="b s" transform="translate(481.34 158.60) rotate(-89.0) scale(.0935 .1)" font-size="34.3">SupraMarginal_L</text>
<text class="b s" transform="translate(485.64 158.60) rotate(-89.0) scale(.0935 .1)" font-size="34.3">Angular_L</text>
<text class="b s" transform="translate(489.94 158.60) rotate(-89.0) scale(.0935 .1)" font-size="34.3">Frontal_Sup_R</text>
<text class="b s" transform="translate(494.24 158.60) rotate(-89.0) scale(.0935 .1)" font-size="34.3">Frontal_Mid_R</text>
<text class="b s" transform="translate(498.54 158.60) rotate(-89.0) scale(.0935 .1)" font-size="34.3">Frontal_Inf_Oper_R</text>
<text class="b s" transform="translate(502.84 158.60) rotate(-89.0) scale(.0935 .1)" font-size="34.3">Frontal_Inf_Tri_R</text>
<text class="b s" transform="translate(507.14 158.60) rotate(-89.0) scale(.0935 .1)" font-size="34.3">Frontal_Sup_Medial_R</text>
<text class="b s" transform="translate(511.44 158.60) rotate(-89.0) scale(.0935 .1)" font-size="34.3">Parietal_Sup_R</text>
<text class="b s" transform="translate(515.74 158.60) rotate(-89.0) scale(.0935 .1)" font-size="34.3">Parietal_Inf_R</text>
<text class="b s" transform="translate(520.04 158.60) rotate(-89.0) scale(.0935 .1)" font-size="34.3">SupraMarginal_R</text>
<text class="b s" transform="translate(524.34 158.60) rotate(-89.0) scale(.0935 .1)" font-size="34.3">Angular_R</text>
</g>
<rect x="530.00" y="160.40" width="5.80" height="69.60" fill="url(#cb)" stroke="#555" stroke-width="0.3"/>
<path d="M535.80 160.40h.9" stroke="#444" stroke-width="0.35"/>
<text transform="translate(537.90 161.80) scale(.1)" font-size="38" style="fill:#3a3a3a;stroke:#3a3a3a;stroke-width:.5px">1.0</text>
<path d="M535.80 177.80h.9" stroke="#444" stroke-width="0.35"/>
<text transform="translate(537.90 179.20) scale(.1)" font-size="38" style="fill:#3a3a3a;stroke:#3a3a3a;stroke-width:.5px">0.5</text>
<path d="M535.80 195.20h.9" stroke="#444" stroke-width="0.35"/>
<text transform="translate(537.90 196.60) scale(.1)" font-size="38" style="fill:#3a3a3a;stroke:#3a3a3a;stroke-width:.5px">0</text>
<path d="M535.80 212.60h.9" stroke="#444" stroke-width="0.35"/>
<text transform="translate(536.70 214.00) scale(.1)" font-size="38" style="fill:#3a3a3a;stroke:#3a3a3a;stroke-width:.5px">-0.5</text>
<path d="M535.80 230.00h.9" stroke="#444" stroke-width="0.35"/>
<text transform="translate(536.70 231.40) scale(.1)" font-size="38" style="fill:#3a3a3a;stroke:#3a3a3a;stroke-width:.5px">-1.0</text>
<text class="b" transform="translate(496.70 240.30) scale(.1)" font-size="53" text-anchor="middle">HC</text>
</g>
<g>
<rect x="35.90" y="275.70" width="6.27" height="6.22" fill="#ff0000"/>
<rect x="42.12" y="275.70" width="6.27" height="6.22" fill="#00f948"/>
<rect x="48.33" y="275.70" width="6.27" height="6.22" fill="#ff4d00"/>
<rect x="54.55" y="275.70" width="6.27" height="6.22" fill="#0080ff"/>
<rect x="60.77" y="275.70" width="6.27" height="6.22" fill="#fffa00"/>
<rect x="66.98" y="275.70" width="6.27" height="6.22" fill="#acff00"/>
<rect x="73.20" y="275.70" width="6.27" height="6.22" fill="#ffa100"/>
<rect x="79.42" y="275.70" width="6.27" height="6.22" fill="#0ff80a"/>
<rect x="85.63" y="275.70" width="6.27" height="6.22" fill="#ffc100"/>
<rect x="91.85" y="275.70" width="6.27" height="6.22" fill="#00f514"/>
<rect x="98.07" y="275.70" width="6.27" height="6.22" fill="#f3fd00"/>
<rect x="104.28" y="275.70" width="6.27" height="6.22" fill="#0ff80a"/>
<rect x="35.90" y="281.87" width="6.27" height="6.22" fill="#00f948"/>
<rect x="42.12" y="281.87" width="6.27" height="6.22" fill="#ff0000"/>
<rect x="48.33" y="281.87" width="6.27" height="6.22" fill="#0ff80a"/>
<rect x="54.55" y="281.87" width="6.27" height="6.22" fill="#ff6000"/>
<rect x="60.77" y="281.87" width="6.27" height="6.22" fill="#fffa00"/>
<rect x="66.98" y="281.87" width="6.27" height="6.22" fill="#ffa900"/>
<rect x="73.20" y="281.87" width="6.27" height="6.22" fill="#76fe00"/>
<rect x="79.42" y="281.87" width="6.27" height="6.22" fill="#ff6d00"/>
<rect x="85.63" y="281.87" width="6.27" height="6.22" fill="#8cff00"/>
<rect x="91.85" y="281.87" width="6.27" height="6.22" fill="#ff4d00"/>
<rect x="98.07" y="281.87" width="6.27" height="6.22" fill="#00f514"/>
<rect x="104.28" y="281.87" width="6.27" height="6.22" fill="#1efa00"/>
<rect x="35.90" y="288.03" width="6.27" height="6.22" fill="#ff4d00"/>
<rect x="42.12" y="288.03" width="6.27" height="6.22" fill="#00f514"/>
<rect x="48.33" y="288.03" width="6.27" height="6.22" fill="#ff0000"/>
<rect x="54.55" y="288.03" width="6.27" height="6.22" fill="#00fc76"/>
<rect x="60.77" y="288.03" width="6.27" height="6.22" fill="#ff6d00"/>
<rect x="66.98" y="288.03" width="6.27" height="6.22" fill="#ffa900"/>
<rect x="73.20" y="288.03" width="6.27" height="6.22" fill="#ff4d00"/>
<rect x="79.42" y="288.03" width="6.27" height="6.22" fill="#acff00"/>
<rect x="85.63" y="288.03" width="6.27" height="6.22" fill="#ff4d00"/>
<rect x="91.85" y="288.03" width="6.27" height="6.22" fill="#8cff00"/>
<rect x="98.07" y="288.03" width="6.27" height="6.22" fill="#acff00"/>
<rect x="104.28" y="288.03" width="6.27" height="6.22" fill="#1efa00"/>
<rect x="35.90" y="294.20" width="6.27" height="6.22" fill="#0080ff"/>
<rect x="42.12" y="294.20" width="6.27" height="6.22" fill="#ff6d00"/>
<rect x="48.33" y="294.20" width="6.27" height="6.22" fill="#00fc76"/>
<rect x="54.55" y="294.20" width="6.27" height="6.22" fill="#ff0000"/>
<rect x="60.77" y="294.20" width="6.27" height="6.22" fill="#1efa00"/>
<rect x="66.98" y="294.20" width="6.27" height="6.22" fill="#8cff00"/>
<rect x="73.20" y="294.20" width="6.27" height="6.22" fill="#00f514"/>
<rect x="79.42" y="294.20" width="6.27" height="6.22" fill="#acff00"/>
<rect x="85.63" y="294.20" width="6.27" height="6.22" fill="#00f514"/>
<rect x="91.85" y="294.20" width="6.27" height="6.22" fill="#8cff00"/>
<rect x="98.07" y="294.20" width="6.27" height="6.22" fill="#00ffe5"/>
<rect x="104.28" y="294.20" width="6.27" height="6.22" fill="#00f514"/>
<rect x="35.90" y="300.37" width="6.27" height="6.22" fill="#fffa00"/>
<rect x="42.12" y="300.37" width="6.27" height="6.22" fill="#fffa00"/>
<rect x="48.33" y="300.37" width="6.27" height="6.22" fill="#ff6d00"/>
<rect x="54.55" y="300.37" width="6.27" height="6.22" fill="#1efa00"/>
<rect x="60.77" y="300.37" width="6.27" height="6.22" fill="#ff0000"/>
<rect x="66.98" y="300.37" width="6.27" height="6.22" fill="#ff2000"/>
<rect x="73.20" y="300.37" width="6.27" height="6.22" fill="#ff3a00"/>
<rect x="79.42" y="300.37" width="6.27" height="6.22" fill="#ff4d00"/>
<rect x="85.63" y="300.37" width="6.27" height="6.22" fill="#ff4d00"/>
<rect x="91.85" y="300.37" width="6.27" height="6.22" fill="#ff6d00"/>
<rect x="98.07" y="300.37" width="6.27" height="6.22" fill="#8cff00"/>
<rect x="104.28" y="300.37" width="6.27" height="6.22" fill="#8cff00"/>
<rect x="35.90" y="306.53" width="6.27" height="6.22" fill="#acff00"/>
<rect x="42.12" y="306.53" width="6.27" height="6.22" fill="#ffa900"/>
<rect x="48.33" y="306.53" width="6.27" height="6.22" fill="#ffa900"/>
<rect x="54.55" y="306.53" width="6.27" height="6.22" fill="#8cff00"/>
<rect x="60.77" y="306.53" width="6.27" height="6.22" fill="#ff2000"/>
<rect x="66.98" y="306.53" width="6.27" height="6.22" fill="#ff0000"/>
<rect x="73.20" y="306.53" width="6.27" height="6.22" fill="#ff6000"/>
<rect x="79.42" y="306.53" width="6.27" height="6.22" fill="#ff2d00"/>
<rect x="85.63" y="306.53" width="6.27" height="6.22" fill="#ff6000"/>
<rect x="91.85" y="306.53" width="6.27" height="6.22" fill="#ff3a00"/>
<rect x="98.07" y="306.53" width="6.27" height="6.22" fill="#67fd00"/>
<rect x="104.28" y="306.53" width="6.27" height="6.22" fill="#acff00"/>
<rect x="35.90" y="312.70" width="6.27" height="6.22" fill="#ffa900"/>
<rect x="42.12" y="312.70" width="6.27" height="6.22" fill="#67fd00"/>
<rect x="48.33" y="312.70" width="6.27" height="6.22" fill="#ff4d00"/>
<rect x="54.55" y="312.70" width="6.27" height="6.22" fill="#00f514"/>
<rect x="60.77" y="312.70" width="6.27" height="6.22" fill="#ff3a00"/>
<rect x="66.98" y="312.70" width="6.27" height="6.22" fill="#ff6000"/>
<rect x="73.20" y="312.70" width="6.27" height="6.22" fill="#ff0000"/>
<rect x="79.42" y="312.70" width="6.27" height="6.22" fill="#ffa900"/>
<rect x="85.63" y="312.70" width="6.27" height="6.22" fill="#ff2000"/>
<rect x="91.85" y="312.70" width="6.27" height="6.22" fill="#ffd100"/>
<rect x="98.07" y="312.70" width="6.27" height="6.22" fill="#acff00"/>
<rect x="104.28" y="312.70" width="6.27" height="6.22" fill="#67fd00"/>
<rect x="35.90" y="318.87" width="6.27" height="6.22" fill="#0ff80a"/>
<rect x="42.12" y="318.87" width="6.27" height="6.22" fill="#ff6d00"/>
<rect x="48.33" y="318.87" width="6.27" height="6.22" fill="#acff00"/>
<rect x="54.55" y="318.87" width="6.27" height="6.22" fill="#acff00"/>
<rect x="60.77" y="318.87" width="6.27" height="6.22" fill="#ff4d00"/>
<rect x="66.98" y="318.87" width="6.27" height="6.22" fill="#ff2d00"/>
<rect x="73.20" y="318.87" width="6.27" height="6.22" fill="#ffa900"/>
<rect x="79.42" y="318.87" width="6.27" height="6.22" fill="#ff0000"/>
<rect x="85.63" y="318.87" width="6.27" height="6.22" fill="#ff9000"/>
<rect x="91.85" y="318.87" width="6.27" height="6.22" fill="#ff2000"/>
<rect x="98.07" y="318.87" width="6.27" height="6.22" fill="#1efa00"/>
<rect x="104.28" y="318.87" width="6.27" height="6.22" fill="#acff00"/>
<rect x="35.90" y="325.03" width="6.27" height="6.22" fill="#ffc100"/>
<rect x="42.12" y="325.03" width="6.27" height="6.22" fill="#8cff00"/>
<rect x="48.33" y="325.03" width="6.27" height="6.22" fill="#ff4d00"/>
<rect x="54.55" y="325.03" width="6.27" height="6.22" fill="#00f514"/>
<rect x="60.77" y="325.03" width="6.27" height="6.22" fill="#ff4d00"/>
<rect x="66.98" y="325.03" width="6.27" height="6.22" fill="#ff6000"/>
<rect x="73.20" y="325.03" width="6.27" height="6.22" fill="#ff2000"/>
<rect x="79.42" y="325.03" width="6.27" height="6.22" fill="#ff9000"/>
<rect x="85.63" y="325.03" width="6.27" height="6.22" fill="#ff0000"/>
<rect x="91.85" y="325.03" width="6.27" height="6.22" fill="#ff6d00"/>
<rect x="98.07" y="325.03" width="6.27" height="6.22" fill="#cbff00"/>
<rect x="104.28" y="325.03" width="6.27" height="6.22" fill="#8cff00"/>
<rect x="35.90" y="331.20" width="6.27" height="6.22" fill="#00f514"/>
<rect x="42.12" y="331.20" width="6.27" height="6.22" fill="#ff4d00"/>
<rect x="48.33" y="331.20" width="6.27" height="6.22" fill="#8cff00"/>
<rect x="54.55" y="331.20" width="6.27" height="6.22" fill="#8cff00"/>
<rect x="60.77" y="331.20" width="6.27" height="6.22" fill="#ff6d00"/>
<rect x="66.98" y="331.20" width="6.27" height="6.22" fill="#ff3a00"/>
<rect x="73.20" y="331.20" width="6.27" height="6.22" fill="#ffd100"/>
<rect x="79.42" y="331.20" width="6.27" height="6.22" fill="#ff2000"/>
<rect x="85.63" y="331.20" width="6.27" height="6.22" fill="#ff6d00"/>
<rect x="91.85" y="331.20" width="6.27" height="6.22" fill="#ff0000"/>
<rect x="98.07" y="331.20" width="6.27" height="6.22" fill="#1efa00"/>
<rect x="104.28" y="331.20" width="6.27" height="6.22" fill="#ebff00"/>
<rect x="35.90" y="337.37" width="6.27" height="6.22" fill="#f3fd00"/>
<rect x="42.12" y="337.37" width="6.27" height="6.22" fill="#00f514"/>
<rect x="48.33" y="337.37" width="6.27" height="6.22" fill="#acff00"/>
<rect x="54.55" y="337.37" width="6.27" height="6.22" fill="#00ffe5"/>
<rect x="60.77" y="337.37" width="6.27" height="6.22" fill="#8cff00"/>
<rect x="66.98" y="337.37" width="6.27" height="6.22" fill="#67fd00"/>
<rect x="73.20" y="337.37" width="6.27" height="6.22" fill="#acff00"/>
<rect x="79.42" y="337.37" width="6.27" height="6.22" fill="#1efa00"/>
<rect x="85.63" y="337.37" width="6.27" height="6.22" fill="#cbff00"/>
<rect x="91.85" y="337.37" width="6.27" height="6.22" fill="#1efa00"/>
<rect x="98.07" y="337.37" width="6.27" height="6.22" fill="#ff0000"/>
<rect x="104.28" y="337.37" width="6.27" height="6.22" fill="#ff9000"/>
<rect x="35.90" y="343.53" width="6.27" height="6.22" fill="#0ff80a"/>
<rect x="42.12" y="343.53" width="6.27" height="6.22" fill="#1efa00"/>
<rect x="48.33" y="343.53" width="6.27" height="6.22" fill="#1efa00"/>
<rect x="54.55" y="343.53" width="6.27" height="6.22" fill="#00f514"/>
<rect x="60.77" y="343.53" width="6.27" height="6.22" fill="#8cff00"/>
<rect x="66.98" y="343.53" width="6.27" height="6.22" fill="#acff00"/>
<rect x="73.20" y="343.53" width="6.27" height="6.22" fill="#67fd00"/>
<rect x="79.42" y="343.53" width="6.27" height="6.22" fill="#acff00"/>
<rect x="85.63" y="343.53" width="6.27" height="6.22" fill="#8cff00"/>
<rect x="91.85" y="343.53" width="6.27" height="6.22" fill="#ebff00"/>
<rect x="98.07" y="343.53" width="6.27" height="6.22" fill="#ff9000"/>
<rect x="104.28" y="343.53" width="6.27" height="6.22" fill="#ff0000"/>
<path d="M35.90 275.70V349.70M35.90 275.70H110.50M42.12 275.70V349.70M35.90 281.87H110.50M48.33 275.70V349.70M35.90 288.03H110.50M54.55 275.70V349.70M35.90 294.20H110.50M60.77 275.70V349.70M35.90 300.37H110.50M66.98 275.70V349.70M35.90 306.53H110.50M73.20 275.70V349.70M35.90 312.70H110.50M79.42 275.70V349.70M35.90 318.87H110.50M85.63 275.70V349.70M35.90 325.03H110.50M91.85 275.70V349.70M35.90 331.20H110.50M98.07 275.70V349.70M35.90 337.37H110.50M104.28 275.70V349.70M35.90 343.53H110.50M110.50 275.70V349.70M35.90 349.70H110.50" stroke="#000" stroke-width="0.37" fill="none" stroke-linecap="square"/>
<rect x="35.90" y="275.70" width="74.60" height="74.00" fill="none" stroke="#000" stroke-width="0.5"/>
<text class="b s" transform="translate(34.40 279.90) scale(.0935 .1)" font-size="38.5" text-anchor="end">Hippocampus_L</text>
<text class="b s" transform="translate(34.40 286.07) scale(.0935 .1)" font-size="38.5" text-anchor="end">Hippocampus_R</text>
<text class="b s" transform="translate(34.40 292.23) scale(.0935 .1)" font-size="38.5" text-anchor="end">Amygdala_L</text>
<text class="b s" transform="translate(34.40 298.40) scale(.0935 .1)" font-size="38.5" text-anchor="end">Amygdala_R</text>
<text class="b s" transform="translate(34.40 304.57) scale(.0935 .1)" font-size="38.5" text-anchor="end">Caudate_L</text>
<text class="b s" transform="translate(34.40 310.73) scale(.0935 .1)" font-size="38.5" text-anchor="end">Caudate_R</text>
<text class="b s" transform="translate(34.40 316.90) scale(.0935 .1)" font-size="38.5" text-anchor="end">Putamen_L</text>
<text class="b s" transform="translate(34.40 323.07) scale(.0935 .1)" font-size="38.5" text-anchor="end">Putamen_R</text>
<text class="b s" transform="translate(34.40 329.23) scale(.0935 .1)" font-size="38.5" text-anchor="end">Pallidum_L</text>
<text class="b s" transform="translate(34.40 335.40) scale(.0935 .1)" font-size="38.5" text-anchor="end">Pallidum_R</text>
<text class="b s" transform="translate(34.40 341.57) scale(.0935 .1)" font-size="38.5" text-anchor="end">Thalamus_L</text>
<text class="b s" transform="translate(34.40 347.73) scale(.0935 .1)" font-size="38.5" text-anchor="end">Thalamus_R</text>
<g>
<text class="b s" transform="translate(41.68 273.90) rotate(-88.0) scale(.0935 .1)" font-size="39.6">Hippocampus_L</text>
<text class="b s" transform="translate(47.89 273.90) rotate(-88.0) scale(.0935 .1)" font-size="39.6">Hippocampus_R</text>
<text class="b s" transform="translate(54.11 273.90) rotate(-88.0) scale(.0935 .1)" font-size="39.6">Amygdala_L</text>
<text class="b s" transform="translate(60.33 273.90) rotate(-88.0) scale(.0935 .1)" font-size="39.6">Amygdala_R</text>
<text class="b s" transform="translate(66.54 273.90) rotate(-88.0) scale(.0935 .1)" font-size="39.6">Caudate_L</text>
<text class="b s" transform="translate(72.76 273.90) rotate(-88.0) scale(.0935 .1)" font-size="39.6">Caudate_R</text>
<text class="b s" transform="translate(78.98 273.90) rotate(-88.0) scale(.0935 .1)" font-size="39.6">Putamen_L</text>
<text class="b s" transform="translate(85.19 273.90) rotate(-88.0) scale(.0935 .1)" font-size="39.6">Putamen_R</text>
<text class="b s" transform="translate(91.41 273.90) rotate(-88.0) scale(.0935 .1)" font-size="39.6">Pallidum_L</text>
<text class="b s" transform="translate(97.63 273.90) rotate(-88.0) scale(.0935 .1)" font-size="39.6">Pallidum_R</text>
<text class="b s" transform="translate(103.84 273.90) rotate(-88.0) scale(.0935 .1)" font-size="39.6">Thalamus_L</text>
<text class="b s" transform="translate(110.06 273.90) rotate(-88.0) scale(.0935 .1)" font-size="39.6">Thalamus_R</text>
</g>
<rect x="116.30" y="275.70" width="6.50" height="74.00" fill="url(#cb)" stroke="#555" stroke-width="0.3"/>
<path d="M122.80 275.70h.9" stroke="#444" stroke-width="0.35"/>
<text transform="translate(124.90 277.10) scale(.1)" font-size="38" style="fill:#3a3a3a;stroke:#3a3a3a;stroke-width:.5px">1.0</text>
<path d="M122.80 294.20h.9" stroke="#444" stroke-width="0.35"/>
<text transform="translate(124.90 295.60) scale(.1)" font-size="38" style="fill:#3a3a3a;stroke:#3a3a3a;stroke-width:.5px">0.5</text>
<path d="M122.80 312.70h.9" stroke="#444" stroke-width="0.35"/>
<text transform="translate(124.90 314.10) scale(.1)" font-size="38" style="fill:#3a3a3a;stroke:#3a3a3a;stroke-width:.5px">0</text>
<path d="M122.80 331.20h.9" stroke="#444" stroke-width="0.35"/>
<text transform="translate(123.70 332.60) scale(.1)" font-size="38" style="fill:#3a3a3a;stroke:#3a3a3a;stroke-width:.5px">-0.5</text>
<path d="M122.80 349.70h.9" stroke="#444" stroke-width="0.35"/>
<text transform="translate(123.70 351.10) scale(.1)" font-size="38" style="fill:#3a3a3a;stroke:#3a3a3a;stroke-width:.5px">-1.0</text>
<text class="b" transform="translate(78.50 359.00) scale(.1)" font-size="53" text-anchor="middle">HIE</text>
</g>
<g>
<rect x="173.60" y="275.60" width="6.28" height="6.22" fill="#ff0000"/>
<rect x="179.82" y="275.60" width="6.28" height="6.22" fill="#ff6000"/>
<rect x="186.05" y="275.60" width="6.28" height="6.22" fill="#ff9000"/>
<rect x="192.28" y="275.60" width="6.28" height="6.22" fill="#1efa00"/>
<rect x="198.50" y="275.60" width="6.28" height="6.22" fill="#ff9000"/>
<rect x="204.72" y="275.60" width="6.28" height="6.22" fill="#ffb900"/>
<rect x="210.95" y="275.60" width="6.28" height="6.22" fill="#ff7a00"/>
<rect x="217.18" y="275.60" width="6.28" height="6.22" fill="#ff9000"/>
<rect x="223.40" y="275.60" width="6.28" height="6.22" fill="#ff8000"/>
<rect x="229.62" y="275.60" width="6.28" height="6.22" fill="#ffe200"/>
<rect x="235.85" y="275.60" width="6.28" height="6.22" fill="#fffa00"/>
<rect x="242.08" y="275.60" width="6.28" height="6.22" fill="#f7fc00"/>
<rect x="173.60" y="281.78" width="6.28" height="6.22" fill="#ff6000"/>
<rect x="179.82" y="281.78" width="6.28" height="6.22" fill="#ff0000"/>
<rect x="186.05" y="281.78" width="6.28" height="6.22" fill="#f7fc00"/>
<rect x="192.28" y="281.78" width="6.28" height="6.22" fill="#1efa00"/>
<rect x="198.50" y="281.78" width="6.28" height="6.22" fill="#bfff00"/>
<rect x="204.72" y="281.78" width="6.28" height="6.22" fill="#f7fc00"/>
<rect x="210.95" y="281.78" width="6.28" height="6.22" fill="#ffa900"/>
<rect x="217.18" y="281.78" width="6.28" height="6.22" fill="#ffa900"/>
<rect x="223.40" y="281.78" width="6.28" height="6.22" fill="#ffa900"/>
<rect x="229.62" y="281.78" width="6.28" height="6.22" fill="#ffe200"/>
<rect x="235.85" y="281.78" width="6.28" height="6.22" fill="#bfff00"/>
<rect x="242.08" y="281.78" width="6.28" height="6.22" fill="#fffa00"/>
<rect x="173.60" y="287.95" width="6.28" height="6.22" fill="#ff9000"/>
<rect x="179.82" y="287.95" width="6.28" height="6.22" fill="#f7fc00"/>
<rect x="186.05" y="287.95" width="6.28" height="6.22" fill="#ff0000"/>
<rect x="192.28" y="287.95" width="6.28" height="6.22" fill="#8cff00"/>
<rect x="198.50" y="287.95" width="6.28" height="6.22" fill="#8cff00"/>
<rect x="204.72" y="287.95" width="6.28" height="6.22" fill="#8cff00"/>
<rect x="210.95" y="287.95" width="6.28" height="6.22" fill="#bfff00"/>
<rect x="217.18" y="287.95" width="6.28" height="6.22" fill="#bfff00"/>
<rect x="223.40" y="287.95" width="6.28" height="6.22" fill="#bfff00"/>
<rect x="229.62" y="287.95" width="6.28" height="6.22" fill="#8cff00"/>
<rect x="235.85" y="287.95" width="6.28" height="6.22" fill="#67fd00"/>
<rect x="242.08" y="287.95" width="6.28" height="6.22" fill="#43fc00"/>
<rect x="173.60" y="294.12" width="6.28" height="6.22" fill="#1efa00"/>
<rect x="179.82" y="294.12" width="6.28" height="6.22" fill="#0ff80a"/>
<rect x="186.05" y="294.12" width="6.28" height="6.22" fill="#8cff00"/>
<rect x="192.28" y="294.12" width="6.28" height="6.22" fill="#ff0000"/>
<rect x="198.50" y="294.12" width="6.28" height="6.22" fill="#43fc00"/>
<rect x="204.72" y="294.12" width="6.28" height="6.22" fill="#43fc00"/>
<rect x="210.95" y="294.12" width="6.28" height="6.22" fill="#1efa00"/>
<rect x="217.18" y="294.12" width="6.28" height="6.22" fill="#1efa00"/>
<rect x="223.40" y="294.12" width="6.28" height="6.22" fill="#43fc00"/>
<rect x="229.62" y="294.12" width="6.28" height="6.22" fill="#1efa00"/>
<rect x="235.85" y="294.12" width="6.28" height="6.22" fill="#1efa00"/>
<rect x="242.08" y="294.12" width="6.28" height="6.22" fill="#00f514"/>
<rect x="173.60" y="300.30" width="6.28" height="6.22" fill="#ffa900"/>
<rect x="179.82" y="300.30" width="6.28" height="6.22" fill="#bfff00"/>
<rect x="186.05" y="300.30" width="6.28" height="6.22" fill="#8cff00"/>
<rect x="192.28" y="300.30" width="6.28" height="6.22" fill="#1efa00"/>
<rect x="198.50" y="300.30" width="6.28" height="6.22" fill="#ff0000"/>
<rect x="204.72" y="300.30" width="6.28" height="6.22" fill="#ff3300"/>
<rect x="210.95" y="300.30" width="6.28" height="6.22" fill="#f7fc00"/>
<rect x="217.18" y="300.30" width="6.28" height="6.22" fill="#deff00"/>
<rect x="223.40" y="300.30" width="6.28" height="6.22" fill="#ffe200"/>
<rect x="229.62" y="300.30" width="6.28" height="6.22" fill="#f7fc00"/>
<rect x="235.85" y="300.30" width="6.28" height="6.22" fill="#ff9000"/>
<rect x="242.08" y="300.30" width="6.28" height="6.22" fill="#ffa900"/>
<rect x="173.60" y="306.48" width="6.28" height="6.22" fill="#ffe200"/>
<rect x="179.82" y="306.48" width="6.28" height="6.22" fill="#f7fc00"/>
<rect x="186.05" y="306.48" width="6.28" height="6.22" fill="#8cff00"/>
<rect x="192.28" y="306.48" width="6.28" height="6.22" fill="#1efa00"/>
<rect x="198.50" y="306.48" width="6.28" height="6.22" fill="#ff3300"/>
<rect x="204.72" y="306.48" width="6.28" height="6.22" fill="#ff0000"/>
<rect x="210.95" y="306.48" width="6.28" height="6.22" fill="#bfff00"/>
<rect x="217.18" y="306.48" width="6.28" height="6.22" fill="#deff00"/>
<rect x="223.40" y="306.48" width="6.28" height="6.22" fill="#f7fc00"/>
<rect x="229.62" y="306.48" width="6.28" height="6.22" fill="#deff00"/>
<rect x="235.85" y="306.48" width="6.28" height="6.22" fill="#ffe200"/>
<rect x="242.08" y="306.48" width="6.28" height="6.22" fill="#ffa900"/>
<rect x="173.60" y="312.65" width="6.28" height="6.22" fill="#ff7a00"/>
<rect x="179.82" y="312.65" width="6.28" height="6.22" fill="#ffb900"/>
<rect x="186.05" y="312.65" width="6.28" height="6.22" fill="#bfff00"/>
<rect x="192.28" y="312.65" width="6.28" height="6.22" fill="#1efa00"/>
<rect x="198.50" y="312.65" width="6.28" height="6.22" fill="#f7fc00"/>
<rect x="204.72" y="312.65" width="6.28" height="6.22" fill="#bfff00"/>
<rect x="210.95" y="312.65" width="6.28" height="6.22" fill="#ff0000"/>
<rect x="217.18" y="312.65" width="6.28" height="6.22" fill="#ff2000"/>
<rect x="223.40" y="312.65" width="6.28" height="6.22" fill="#ffa900"/>
<rect x="229.62" y="312.65" width="6.28" height="6.22" fill="#ffe200"/>
<rect x="235.85" y="312.65" width="6.28" height="6.22" fill="#bfff00"/>
<rect x="242.08" y="312.65" width="6.28" height="6.22" fill="#bfff00"/>
<rect x="173.60" y="318.82" width="6.28" height="6.22" fill="#ff9000"/>
<rect x="179.82" y="318.82" width="6.28" height="6.22" fill="#ffa900"/>
<rect x="186.05" y="318.82" width="6.28" height="6.22" fill="#bfff00"/>
<rect x="192.28" y="318.82" width="6.28" height="6.22" fill="#1efa00"/>
<rect x="198.50" y="318.82" width="6.28" height="6.22" fill="#deff00"/>
<rect x="204.72" y="318.82" width="6.28" height="6.22" fill="#deff00"/>
<rect x="210.95" y="318.82" width="6.28" height="6.22" fill="#ff2000"/>
<rect x="217.18" y="318.82" width="6.28" height="6.22" fill="#ff0000"/>
<rect x="223.40" y="318.82" width="6.28" height="6.22" fill="#ffa900"/>
<rect x="229.62" y="318.82" width="6.28" height="6.22" fill="#ffa900"/>
<rect x="235.85" y="318.82" width="6.28" height="6.22" fill="#bfff00"/>
<rect x="242.08" y="318.82" width="6.28" height="6.22" fill="#deff00"/>
<rect x="173.60" y="325.00" width="6.28" height="6.22" fill="#ff7300"/>
<rect x="179.82" y="325.00" width="6.28" height="6.22" fill="#ffe200"/>
<rect x="186.05" y="325.00" width="6.28" height="6.22" fill="#bfff00"/>
<rect x="192.28" y="325.00" width="6.28" height="6.22" fill="#1efa00"/>
<rect x="198.50" y="325.00" width="6.28" height="6.22" fill="#ffb900"/>
<rect x="204.72" y="325.00" width="6.28" height="6.22" fill="#f7fc00"/>
<rect x="210.95" y="325.00" width="6.28" height="6.22" fill="#ffa900"/>
<rect x="217.18" y="325.00" width="6.28" height="6.22" fill="#ffa900"/>
<rect x="223.40" y="325.00" width="6.28" height="6.22" fill="#ff0000"/>
<rect x="229.62" y="325.00" width="6.28" height="6.22" fill="#ff6000"/>
<rect x="235.85" y="325.00" width="6.28" height="6.22" fill="#deff00"/>
<rect x="242.08" y="325.00" width="6.28" height="6.22" fill="#bfff00"/>
<rect x="173.60" y="331.18" width="6.28" height="6.22" fill="#ffe200"/>
<rect x="179.82" y="331.18" width="6.28" height="6.22" fill="#ffe200"/>
<rect x="186.05" y="331.18" width="6.28" height="6.22" fill="#8cff00"/>
<rect x="192.28" y="331.18" width="6.28" height="6.22" fill="#1efa00"/>
<rect x="198.50" y="331.18" width="6.28" height="6.22" fill="#f7fc00"/>
<rect x="204.72" y="331.18" width="6.28" height="6.22" fill="#deff00"/>
<rect x="210.95" y="331.18" width="6.28" height="6.22" fill="#ffe200"/>
<rect x="217.18" y="331.18" width="6.28" height="6.22" fill="#ffa900"/>
<rect x="223.40" y="331.18" width="6.28" height="6.22" fill="#ff6000"/>
<rect x="229.62" y="331.18" width="6.28" height="6.22" fill="#ff0000"/>
<rect x="235.85" y="331.18" width="6.28" height="6.22" fill="#8cff00"/>
<rect x="242.08" y="331.18" width="6.28" height="6.22" fill="#f7fc00"/>
<rect x="173.60" y="337.35" width="6.28" height="6.22" fill="#fffa00"/>
<rect x="179.82" y="337.35" width="6.28" height="6.22" fill="#bfff00"/>
<rect x="186.05" y="337.35" width="6.28" height="6.22" fill="#67fd00"/>
<rect x="192.28" y="337.35" width="6.28" height="6.22" fill="#1efa00"/>
<rect x="198.50" y="337.35" width="6.28" height="6.22" fill="#ff9000"/>
<rect x="204.72" y="337.35" width="6.28" height="6.22" fill="#ffc900"/>
<rect x="210.95" y="337.35" width="6.28" height="6.22" fill="#bfff00"/>
<rect x="217.18" y="337.35" width="6.28" height="6.22" fill="#bfff00"/>
<rect x="223.40" y="337.35" width="6.28" height="6.22" fill="#deff00"/>
<rect x="229.62" y="337.35" width="6.28" height="6.22" fill="#8cff00"/>
<rect x="235.85" y="337.35" width="6.28" height="6.22" fill="#ff0000"/>
<rect x="242.08" y="337.35" width="6.28" height="6.22" fill="#ff4000"/>
<rect x="173.60" y="343.52" width="6.28" height="6.22" fill="#f7fc00"/>
<rect x="179.82" y="343.52" width="6.28" height="6.22" fill="#fffa00"/>
<rect x="186.05" y="343.52" width="6.28" height="6.22" fill="#43fc00"/>
<rect x="192.28" y="343.52" width="6.28" height="6.22" fill="#0ff80a"/>
<rect x="198.50" y="343.52" width="6.28" height="6.22" fill="#ffa900"/>
<rect x="204.72" y="343.52" width="6.28" height="6.22" fill="#ffa900"/>
<rect x="210.95" y="343.52" width="6.28" height="6.22" fill="#bfff00"/>
<rect x="217.18" y="343.52" width="6.28" height="6.22" fill="#deff00"/>
<rect x="223.40" y="343.52" width="6.28" height="6.22" fill="#bfff00"/>
<rect x="229.62" y="343.52" width="6.28" height="6.22" fill="#f7fc00"/>
<rect x="235.85" y="343.52" width="6.28" height="6.22" fill="#ff4000"/>
<rect x="242.08" y="343.52" width="6.28" height="6.22" fill="#ff0000"/>
<path d="M173.60 275.60V349.70M173.60 275.60H248.30M179.82 275.60V349.70M173.60 281.78H248.30M186.05 275.60V349.70M173.60 287.95H248.30M192.28 275.60V349.70M173.60 294.12H248.30M198.50 275.60V349.70M173.60 300.30H248.30M204.72 275.60V349.70M173.60 306.48H248.30M210.95 275.60V349.70M173.60 312.65H248.30M217.18 275.60V349.70M173.60 318.82H248.30M223.40 275.60V349.70M173.60 325.00H248.30M229.62 275.60V349.70M173.60 331.18H248.30M235.85 275.60V349.70M173.60 337.35H248.30M242.08 275.60V349.70M173.60 343.52H248.30M248.30 275.60V349.70M173.60 349.70H248.30" stroke="#000" stroke-width="0.37" fill="none" stroke-linecap="square"/>
<rect x="173.60" y="275.60" width="74.70" height="74.10" fill="none" stroke="#000" stroke-width="0.5"/>
<text class="b s" transform="translate(172.10 279.81) scale(.0935 .1)" font-size="38.5" text-anchor="end">Hippocampus_L</text>
<text class="b s" transform="translate(172.10 285.98) scale(.0935 .1)" font-size="38.5" text-anchor="end">Hippocampus_R</text>
<text class="b s" transform="translate(172.10 292.16) scale(.0935 .1)" font-size="38.5" text-anchor="end">Amygdala_L</text>
<text class="b s" transform="translate(172.10 298.33) scale(.0935 .1)" font-size="38.5" text-anchor="end">Amygdala_R</text>
<text class="b s" transform="translate(172.10 304.51) scale(.0935 .1)" font-size="38.5" text-anchor="end">Caudate_L</text>
<text class="b s" transform="translate(172.10 310.68) scale(.0935 .1)" font-size="38.5" text-anchor="end">Caudate_R</text>
<text class="b s" transform="translate(172.10 316.86) scale(.0935 .1)" font-size="38.5" text-anchor="end">Putamen_L</text>
<text class="b s" transform="translate(172.10 323.03) scale(.0935 .1)" font-size="38.5" text-anchor="end">Putamen_R</text>
<text class="b s" transform="translate(172.10 329.21) scale(.0935 .1)" font-size="38.5" text-anchor="end">Pallidum_L</text>
<text class="b s" transform="translate(172.10 335.38) scale(.0935 .1)" font-size="38.5" text-anchor="end">Pallidum_R</text>
<text class="b s" transform="translate(172.10 341.56) scale(.0935 .1)" font-size="38.5" text-anchor="end">Thalamus_L</text>
<text class="b s" transform="translate(172.10 347.73) scale(.0935 .1)" font-size="38.5" text-anchor="end">Thalamus_R</text>
<g>
<text class="b s" transform="translate(179.38 273.80) rotate(-88.0) scale(.0935 .1)" font-size="39.6">Hippocampus_L</text>
<text class="b s" transform="translate(185.61 273.80) rotate(-88.0) scale(.0935 .1)" font-size="39.6">Hippocampus_R</text>
<text class="b s" transform="translate(191.83 273.80) rotate(-88.0) scale(.0935 .1)" font-size="39.6">Amygdala_L</text>
<text class="b s" transform="translate(198.06 273.80) rotate(-88.0) scale(.0935 .1)" font-size="39.6">Amygdala_R</text>
<text class="b s" transform="translate(204.28 273.80) rotate(-88.0) scale(.0935 .1)" font-size="39.6">Caudate_L</text>
<text class="b s" transform="translate(210.51 273.80) rotate(-88.0) scale(.0935 .1)" font-size="39.6">Caudate_R</text>
<text class="b s" transform="translate(216.73 273.80) rotate(-88.0) scale(.0935 .1)" font-size="39.6">Putamen_L</text>
<text class="b s" transform="translate(222.96 273.80) rotate(-88.0) scale(.0935 .1)" font-size="39.6">Putamen_R</text>
<text class="b s" transform="translate(229.18 273.80) rotate(-88.0) scale(.0935 .1)" font-size="39.6">Pallidum_L</text>
<text class="b s" transform="translate(235.41 273.80) rotate(-88.0) scale(.0935 .1)" font-size="39.6">Pallidum_R</text>
<text class="b s" transform="translate(241.63 273.80) rotate(-88.0) scale(.0935 .1)" font-size="39.6">Thalamus_L</text>
<text class="b s" transform="translate(247.86 273.80) rotate(-88.0) scale(.0935 .1)" font-size="39.6">Thalamus_R</text>
</g>
<rect x="254.30" y="275.60" width="6.40" height="74.10" fill="url(#cb)" stroke="#555" stroke-width="0.3"/>
<path d="M260.70 275.60h.9" stroke="#444" stroke-width="0.35"/>
<text transform="translate(262.80 277.00) scale(.1)" font-size="38" style="fill:#3a3a3a;stroke:#3a3a3a;stroke-width:.5px">1.0</text>
<path d="M260.70 294.12h.9" stroke="#444" stroke-width="0.35"/>
<text transform="translate(262.80 295.52) scale(.1)" font-size="38" style="fill:#3a3a3a;stroke:#3a3a3a;stroke-width:.5px">0.5</text>
<path d="M260.70 312.65h.9" stroke="#444" stroke-width="0.35"/>
<text transform="translate(262.80 314.05) scale(.1)" font-size="38" style="fill:#3a3a3a;stroke:#3a3a3a;stroke-width:.5px">0</text>
<path d="M260.70 331.18h.9" stroke="#444" stroke-width="0.35"/>
<text transform="translate(261.60 332.57) scale(.1)" font-size="38" style="fill:#3a3a3a;stroke:#3a3a3a;stroke-width:.5px">-0.5</text>
<path d="M260.70 349.70h.9" stroke="#444" stroke-width="0.35"/>
<text transform="translate(261.60 351.10) scale(.1)" font-size="38" style="fill:#3a3a3a;stroke:#3a3a3a;stroke-width:.5px">-1.0</text>
<text class="b" transform="translate(220.10 359.00) scale(.1)" font-size="53" text-anchor="middle">HC</text>
</g>
</svg></body></html>
